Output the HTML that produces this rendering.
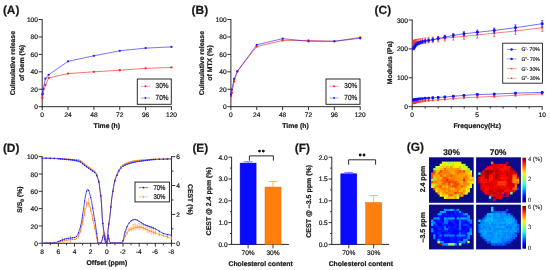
<!DOCTYPE html>
<html><head><meta charset="utf-8"><style>
html,body{margin:0;padding:0;background:#fff;}
svg{display:block;font-family:"Liberation Sans", sans-serif;filter:blur(0.35px);text-rendering:geometricPrecision;} text{stroke:#1a1a1a;stroke-width:0.22px;}
</style></head><body>
<svg width="550" height="270" viewBox="0 0 550 270">
<rect width="550" height="270" fill="#fff"/>
<line x1="42.20" y1="19.10" x2="42.20" y2="107.15" stroke="#1f1f1f" stroke-width="0.95"/>
<line x1="41.75" y1="106.70" x2="171.90" y2="106.70" stroke="#1f1f1f" stroke-width="0.95"/>
<line x1="38.60" y1="106.70" x2="42.20" y2="106.70" stroke="#1f1f1f" stroke-width="0.9"/>
<text x="37.90" y="109.25" font-size="6.6" text-anchor="end" fill="#1a1a1a">0</text>
<line x1="38.60" y1="89.26" x2="42.20" y2="89.26" stroke="#1f1f1f" stroke-width="0.9"/>
<text x="37.90" y="91.81" font-size="6.6" text-anchor="end" fill="#1a1a1a">20</text>
<line x1="38.60" y1="71.82" x2="42.20" y2="71.82" stroke="#1f1f1f" stroke-width="0.9"/>
<text x="37.90" y="74.37" font-size="6.6" text-anchor="end" fill="#1a1a1a">40</text>
<line x1="38.60" y1="54.38" x2="42.20" y2="54.38" stroke="#1f1f1f" stroke-width="0.9"/>
<text x="37.90" y="56.93" font-size="6.6" text-anchor="end" fill="#1a1a1a">60</text>
<line x1="38.60" y1="36.94" x2="42.20" y2="36.94" stroke="#1f1f1f" stroke-width="0.9"/>
<text x="37.90" y="39.49" font-size="6.6" text-anchor="end" fill="#1a1a1a">80</text>
<line x1="38.60" y1="19.50" x2="42.20" y2="19.50" stroke="#1f1f1f" stroke-width="0.9"/>
<text x="37.90" y="22.05" font-size="6.6" text-anchor="end" fill="#1a1a1a">100</text>
<line x1="42.20" y1="106.70" x2="42.20" y2="110.00" stroke="#1f1f1f" stroke-width="0.9"/>
<text x="42.20" y="116.75" font-size="6.6" text-anchor="middle" fill="#1a1a1a">0</text>
<line x1="68.06" y1="106.70" x2="68.06" y2="110.00" stroke="#1f1f1f" stroke-width="0.9"/>
<text x="68.06" y="116.75" font-size="6.6" text-anchor="middle" fill="#1a1a1a">24</text>
<line x1="93.92" y1="106.70" x2="93.92" y2="110.00" stroke="#1f1f1f" stroke-width="0.9"/>
<text x="93.92" y="116.75" font-size="6.6" text-anchor="middle" fill="#1a1a1a">48</text>
<line x1="119.78" y1="106.70" x2="119.78" y2="110.00" stroke="#1f1f1f" stroke-width="0.9"/>
<text x="119.78" y="116.75" font-size="6.6" text-anchor="middle" fill="#1a1a1a">72</text>
<line x1="145.64" y1="106.70" x2="145.64" y2="110.00" stroke="#1f1f1f" stroke-width="0.9"/>
<text x="145.64" y="116.75" font-size="6.6" text-anchor="middle" fill="#1a1a1a">96</text>
<line x1="171.50" y1="106.70" x2="171.50" y2="110.00" stroke="#1f1f1f" stroke-width="0.9"/>
<text x="171.50" y="116.75" font-size="6.6" text-anchor="middle" fill="#1a1a1a">120</text>
<text x="106.85" y="128.20" font-size="6.85" font-weight="bold" text-anchor="middle" fill="#1a1a1a">Time (h)</text>
<text transform="translate(15.20,63.20) rotate(-90)" font-size="6.85" font-weight="bold" text-anchor="middle" fill="#1a1a1a">Culmulative release</text>
<text transform="translate(23.50,63.00) rotate(-90)" font-size="6.85" font-weight="bold" text-anchor="middle" fill="#1a1a1a">of Gem (%)</text>
<text x="2.90" y="13.90" font-size="11.9" font-weight="bold" text-anchor="start" fill="#1a1a1a">(A)</text>
<polyline points="42.31,97.81 43.01,93.71 45.43,84.99 48.67,77.92 68.06,73.56 93.92,71.82 119.78,70.25 145.64,68.33 171.50,67.46" fill="none" stroke="#ff2020" stroke-width="0.8" stroke-linejoin="round" stroke-opacity="0.78"/>
<circle cx="42.31" cy="97.81" r="1.15" fill="#ff2020"/>
<circle cx="43.01" cy="93.71" r="1.15" fill="#ff2020"/>
<circle cx="45.43" cy="84.99" r="1.15" fill="#ff2020"/>
<circle cx="48.67" cy="77.92" r="1.15" fill="#ff2020"/>
<circle cx="68.06" cy="73.56" r="1.15" fill="#ff2020"/>
<circle cx="93.92" cy="71.82" r="1.15" fill="#ff2020"/>
<circle cx="119.78" cy="70.25" r="1.15" fill="#ff2020"/>
<circle cx="145.64" cy="68.33" r="1.15" fill="#ff2020"/>
<circle cx="171.50" cy="67.46" r="1.15" fill="#ff2020"/>
<polyline points="42.31,94.49 43.17,89.09 45.43,78.53 48.67,74.78 68.06,61.36 93.92,55.78 119.78,50.80 145.64,48.10 171.50,46.88" fill="none" stroke="#2020ff" stroke-width="0.8" stroke-linejoin="round" stroke-opacity="0.78"/>
<circle cx="42.31" cy="94.49" r="1.15" fill="#2020ff"/>
<circle cx="43.17" cy="89.09" r="1.15" fill="#2020ff"/>
<circle cx="45.43" cy="78.53" r="1.15" fill="#2020ff"/>
<circle cx="48.67" cy="74.78" r="1.15" fill="#2020ff"/>
<circle cx="68.06" cy="61.36" r="1.15" fill="#2020ff"/>
<circle cx="93.92" cy="55.78" r="1.15" fill="#2020ff"/>
<circle cx="119.78" cy="50.80" r="1.15" fill="#2020ff"/>
<circle cx="145.64" cy="48.10" r="1.15" fill="#2020ff"/>
<circle cx="171.50" cy="46.88" r="1.15" fill="#2020ff"/>
<rect x="137.30" y="79.0" width="34.0" height="25.3" fill="#fff" stroke="#1f1f1f" stroke-width="0.95"/>
<line x1="140.70" y1="86.30" x2="150.00" y2="86.30" stroke="#ff2020" stroke-width="0.8" stroke-opacity="0.5"/>
<circle cx="145.40" cy="86.30" r="0.95" fill="#ff2020"/>
<text x="155.60" y="88.25" font-size="7.3" text-anchor="start" fill="#1a1a1a" textLength="13.0" lengthAdjust="spacingAndGlyphs">30%</text>
<line x1="140.70" y1="98.00" x2="150.00" y2="98.00" stroke="#2020ff" stroke-width="0.8" stroke-opacity="0.5"/>
<circle cx="145.40" cy="98.00" r="0.95" fill="#2020ff"/>
<text x="155.60" y="99.95" font-size="7.3" text-anchor="start" fill="#1a1a1a" textLength="13.0" lengthAdjust="spacingAndGlyphs">70%</text>
<line x1="230.90" y1="19.10" x2="230.90" y2="107.15" stroke="#1f1f1f" stroke-width="0.95"/>
<line x1="230.45" y1="106.70" x2="360.60" y2="106.70" stroke="#1f1f1f" stroke-width="0.95"/>
<line x1="227.30" y1="106.70" x2="230.90" y2="106.70" stroke="#1f1f1f" stroke-width="0.9"/>
<text x="226.60" y="109.25" font-size="6.6" text-anchor="end" fill="#1a1a1a">0</text>
<line x1="227.30" y1="89.26" x2="230.90" y2="89.26" stroke="#1f1f1f" stroke-width="0.9"/>
<text x="226.60" y="91.81" font-size="6.6" text-anchor="end" fill="#1a1a1a">20</text>
<line x1="227.30" y1="71.82" x2="230.90" y2="71.82" stroke="#1f1f1f" stroke-width="0.9"/>
<text x="226.60" y="74.37" font-size="6.6" text-anchor="end" fill="#1a1a1a">40</text>
<line x1="227.30" y1="54.38" x2="230.90" y2="54.38" stroke="#1f1f1f" stroke-width="0.9"/>
<text x="226.60" y="56.93" font-size="6.6" text-anchor="end" fill="#1a1a1a">60</text>
<line x1="227.30" y1="36.94" x2="230.90" y2="36.94" stroke="#1f1f1f" stroke-width="0.9"/>
<text x="226.60" y="39.49" font-size="6.6" text-anchor="end" fill="#1a1a1a">80</text>
<line x1="227.30" y1="19.50" x2="230.90" y2="19.50" stroke="#1f1f1f" stroke-width="0.9"/>
<text x="226.60" y="22.05" font-size="6.6" text-anchor="end" fill="#1a1a1a">100</text>
<line x1="230.90" y1="106.70" x2="230.90" y2="110.00" stroke="#1f1f1f" stroke-width="0.9"/>
<text x="230.90" y="116.75" font-size="6.6" text-anchor="middle" fill="#1a1a1a">0</text>
<line x1="256.76" y1="106.70" x2="256.76" y2="110.00" stroke="#1f1f1f" stroke-width="0.9"/>
<text x="256.76" y="116.75" font-size="6.6" text-anchor="middle" fill="#1a1a1a">24</text>
<line x1="282.62" y1="106.70" x2="282.62" y2="110.00" stroke="#1f1f1f" stroke-width="0.9"/>
<text x="282.62" y="116.75" font-size="6.6" text-anchor="middle" fill="#1a1a1a">48</text>
<line x1="308.48" y1="106.70" x2="308.48" y2="110.00" stroke="#1f1f1f" stroke-width="0.9"/>
<text x="308.48" y="116.75" font-size="6.6" text-anchor="middle" fill="#1a1a1a">72</text>
<line x1="334.34" y1="106.70" x2="334.34" y2="110.00" stroke="#1f1f1f" stroke-width="0.9"/>
<text x="334.34" y="116.75" font-size="6.6" text-anchor="middle" fill="#1a1a1a">96</text>
<line x1="360.20" y1="106.70" x2="360.20" y2="110.00" stroke="#1f1f1f" stroke-width="0.9"/>
<text x="360.20" y="116.75" font-size="6.6" text-anchor="middle" fill="#1a1a1a">120</text>
<text x="295.55" y="128.20" font-size="6.85" font-weight="bold" text-anchor="middle" fill="#1a1a1a">Time (h)</text>
<text transform="translate(203.90,63.20) rotate(-90)" font-size="6.85" font-weight="bold" text-anchor="middle" fill="#1a1a1a">Culmulative release</text>
<text transform="translate(212.20,63.00) rotate(-90)" font-size="6.85" font-weight="bold" text-anchor="middle" fill="#1a1a1a">of MTX (%)</text>
<text x="191.60" y="13.90" font-size="11.9" font-weight="bold" text-anchor="start" fill="#1a1a1a">(B)</text>
<polyline points="231.01,96.06 231.87,92.92 234.13,81.41 237.36,71.38 256.76,46.53 282.62,40.43 308.48,40.43 334.34,41.30 360.20,37.38" fill="none" stroke="#ff2020" stroke-width="0.8" stroke-linejoin="round" stroke-opacity="0.78"/>
<circle cx="231.01" cy="96.06" r="1.15" fill="#ff2020"/>
<circle cx="231.87" cy="92.92" r="1.15" fill="#ff2020"/>
<circle cx="234.13" cy="81.41" r="1.15" fill="#ff2020"/>
<circle cx="237.36" cy="71.38" r="1.15" fill="#ff2020"/>
<circle cx="256.76" cy="46.53" r="1.15" fill="#ff2020"/>
<circle cx="282.62" cy="40.43" r="1.15" fill="#ff2020"/>
<circle cx="308.48" cy="40.43" r="1.15" fill="#ff2020"/>
<circle cx="334.34" cy="41.30" r="1.15" fill="#ff2020"/>
<circle cx="360.20" cy="37.38" r="1.15" fill="#ff2020"/>
<polyline points="231.01,94.49 231.71,89.70 234.13,78.97 237.36,71.30 256.76,44.79 282.62,38.68 308.48,41.30 334.34,41.30 360.20,38.25" fill="none" stroke="#2020ff" stroke-width="0.8" stroke-linejoin="round" stroke-opacity="0.78"/>
<circle cx="231.01" cy="94.49" r="1.15" fill="#2020ff"/>
<circle cx="231.71" cy="89.70" r="1.15" fill="#2020ff"/>
<circle cx="234.13" cy="78.97" r="1.15" fill="#2020ff"/>
<circle cx="237.36" cy="71.30" r="1.15" fill="#2020ff"/>
<circle cx="256.76" cy="44.79" r="1.15" fill="#2020ff"/>
<circle cx="282.62" cy="38.68" r="1.15" fill="#2020ff"/>
<circle cx="308.48" cy="41.30" r="1.15" fill="#2020ff"/>
<circle cx="334.34" cy="41.30" r="1.15" fill="#2020ff"/>
<circle cx="360.20" cy="38.25" r="1.15" fill="#2020ff"/>
<rect x="326.00" y="79.0" width="34.0" height="25.3" fill="#fff" stroke="#1f1f1f" stroke-width="0.95"/>
<line x1="329.40" y1="86.30" x2="338.70" y2="86.30" stroke="#ff2020" stroke-width="0.8" stroke-opacity="0.5"/>
<circle cx="334.10" cy="86.30" r="0.95" fill="#ff2020"/>
<text x="344.30" y="88.25" font-size="7.3" text-anchor="start" fill="#1a1a1a" textLength="13.0" lengthAdjust="spacingAndGlyphs">30%</text>
<line x1="329.40" y1="98.00" x2="338.70" y2="98.00" stroke="#2020ff" stroke-width="0.8" stroke-opacity="0.5"/>
<circle cx="334.10" cy="98.00" r="0.95" fill="#2020ff"/>
<text x="344.30" y="99.95" font-size="7.3" text-anchor="start" fill="#1a1a1a" textLength="13.0" lengthAdjust="spacingAndGlyphs">70%</text>
<line x1="412.20" y1="19.60" x2="412.20" y2="107.15" stroke="#1f1f1f" stroke-width="0.95"/>
<line x1="411.75" y1="106.70" x2="542.60" y2="106.70" stroke="#1f1f1f" stroke-width="0.95"/>
<line x1="408.60" y1="106.70" x2="412.20" y2="106.70" stroke="#1f1f1f" stroke-width="0.9"/>
<text x="407.90" y="109.25" font-size="6.6" text-anchor="end" fill="#1a1a1a">0</text>
<line x1="408.60" y1="77.80" x2="412.20" y2="77.80" stroke="#1f1f1f" stroke-width="0.9"/>
<text x="407.90" y="80.35" font-size="6.6" text-anchor="end" fill="#1a1a1a">100</text>
<line x1="408.60" y1="48.90" x2="412.20" y2="48.90" stroke="#1f1f1f" stroke-width="0.9"/>
<text x="407.90" y="51.45" font-size="6.6" text-anchor="end" fill="#1a1a1a">200</text>
<line x1="408.60" y1="20.00" x2="412.20" y2="20.00" stroke="#1f1f1f" stroke-width="0.9"/>
<text x="407.90" y="22.55" font-size="6.6" text-anchor="end" fill="#1a1a1a">300</text>
<line x1="412.20" y1="106.70" x2="412.20" y2="110.00" stroke="#1f1f1f" stroke-width="0.9"/>
<line x1="425.20" y1="106.70" x2="425.20" y2="108.50" stroke="#1f1f1f" stroke-width="0.9"/>
<line x1="438.20" y1="106.70" x2="438.20" y2="108.50" stroke="#1f1f1f" stroke-width="0.9"/>
<line x1="451.20" y1="106.70" x2="451.20" y2="108.50" stroke="#1f1f1f" stroke-width="0.9"/>
<line x1="464.20" y1="106.70" x2="464.20" y2="108.50" stroke="#1f1f1f" stroke-width="0.9"/>
<line x1="477.20" y1="106.70" x2="477.20" y2="110.00" stroke="#1f1f1f" stroke-width="0.9"/>
<line x1="490.20" y1="106.70" x2="490.20" y2="108.50" stroke="#1f1f1f" stroke-width="0.9"/>
<line x1="503.20" y1="106.70" x2="503.20" y2="108.50" stroke="#1f1f1f" stroke-width="0.9"/>
<line x1="516.20" y1="106.70" x2="516.20" y2="108.50" stroke="#1f1f1f" stroke-width="0.9"/>
<line x1="529.20" y1="106.70" x2="529.20" y2="108.50" stroke="#1f1f1f" stroke-width="0.9"/>
<line x1="542.20" y1="106.70" x2="542.20" y2="110.00" stroke="#1f1f1f" stroke-width="0.9"/>
<text x="412.20" y="116.75" font-size="6.6" text-anchor="middle" fill="#1a1a1a">0</text>
<text x="477.20" y="116.75" font-size="6.6" text-anchor="middle" fill="#1a1a1a">5</text>
<text x="542.20" y="116.75" font-size="6.6" text-anchor="middle" fill="#1a1a1a">10</text>
<text x="477.20" y="128.20" font-size="6.85" font-weight="bold" text-anchor="middle" fill="#1a1a1a">Frequency(Hz)</text>
<text transform="translate(392.20,62.75) rotate(-90)" font-size="6.85" font-weight="bold" text-anchor="middle" fill="#1a1a1a">Modulus (Pa)</text>
<text x="374.60" y="13.90" font-size="11.9" font-weight="bold" text-anchor="start" fill="#1a1a1a">(C)</text>
<polyline points="413.50,43.12 413.84,42.97 414.26,42.78 414.79,42.54 415.47,42.25 416.31,42.10 417.38,41.92 418.72,41.68 420.40,41.38 422.53,41.07 425.20,40.66 428.57,40.28 432.80,39.79 438.14,39.08 444.85,38.19 453.31,37.19 463.95,36.32 477.35,34.98 494.22,33.19 515.46,31.01 542.20,27.69" fill="none" stroke="#ff2a2a" stroke-width="0.75" stroke-linejoin="round" stroke-opacity="0.8"/>
<line x1="413.50" y1="40.51" x2="413.50" y2="45.73" stroke="#ff2a2a" stroke-width="0.7"/>
<line x1="412.40" y1="40.51" x2="414.60" y2="40.51" stroke="#ff2a2a" stroke-width="0.6"/>
<line x1="412.40" y1="45.73" x2="414.60" y2="45.73" stroke="#ff2a2a" stroke-width="0.6"/>
<line x1="413.84" y1="40.36" x2="413.84" y2="45.58" stroke="#ff2a2a" stroke-width="0.7"/>
<line x1="412.74" y1="40.36" x2="414.94" y2="40.36" stroke="#ff2a2a" stroke-width="0.6"/>
<line x1="412.74" y1="45.58" x2="414.94" y2="45.58" stroke="#ff2a2a" stroke-width="0.6"/>
<line x1="414.26" y1="40.16" x2="414.26" y2="45.40" stroke="#ff2a2a" stroke-width="0.7"/>
<line x1="413.16" y1="40.16" x2="415.36" y2="40.16" stroke="#ff2a2a" stroke-width="0.6"/>
<line x1="413.16" y1="45.40" x2="415.36" y2="45.40" stroke="#ff2a2a" stroke-width="0.6"/>
<line x1="414.79" y1="39.92" x2="414.79" y2="45.17" stroke="#ff2a2a" stroke-width="0.7"/>
<line x1="413.69" y1="39.92" x2="415.89" y2="39.92" stroke="#ff2a2a" stroke-width="0.6"/>
<line x1="413.69" y1="45.17" x2="415.89" y2="45.17" stroke="#ff2a2a" stroke-width="0.6"/>
<line x1="415.47" y1="39.62" x2="415.47" y2="44.88" stroke="#ff2a2a" stroke-width="0.7"/>
<line x1="414.37" y1="39.62" x2="416.57" y2="39.62" stroke="#ff2a2a" stroke-width="0.6"/>
<line x1="414.37" y1="44.88" x2="416.57" y2="44.88" stroke="#ff2a2a" stroke-width="0.6"/>
<line x1="416.31" y1="39.47" x2="416.31" y2="44.73" stroke="#ff2a2a" stroke-width="0.7"/>
<line x1="415.21" y1="39.47" x2="417.41" y2="39.47" stroke="#ff2a2a" stroke-width="0.6"/>
<line x1="415.21" y1="44.73" x2="417.41" y2="44.73" stroke="#ff2a2a" stroke-width="0.6"/>
<line x1="417.38" y1="39.27" x2="417.38" y2="44.56" stroke="#ff2a2a" stroke-width="0.7"/>
<line x1="416.28" y1="39.27" x2="418.48" y2="39.27" stroke="#ff2a2a" stroke-width="0.6"/>
<line x1="416.28" y1="44.56" x2="418.48" y2="44.56" stroke="#ff2a2a" stroke-width="0.6"/>
<line x1="418.72" y1="39.03" x2="418.72" y2="44.33" stroke="#ff2a2a" stroke-width="0.7"/>
<line x1="417.62" y1="39.03" x2="419.82" y2="39.03" stroke="#ff2a2a" stroke-width="0.6"/>
<line x1="417.62" y1="44.33" x2="419.82" y2="44.33" stroke="#ff2a2a" stroke-width="0.6"/>
<line x1="420.40" y1="38.72" x2="420.40" y2="44.05" stroke="#ff2a2a" stroke-width="0.7"/>
<line x1="419.30" y1="38.72" x2="421.50" y2="38.72" stroke="#ff2a2a" stroke-width="0.6"/>
<line x1="419.30" y1="44.05" x2="421.50" y2="44.05" stroke="#ff2a2a" stroke-width="0.6"/>
<line x1="422.53" y1="38.38" x2="422.53" y2="43.75" stroke="#ff2a2a" stroke-width="0.7"/>
<line x1="421.43" y1="38.38" x2="423.63" y2="38.38" stroke="#ff2a2a" stroke-width="0.6"/>
<line x1="421.43" y1="43.75" x2="423.63" y2="43.75" stroke="#ff2a2a" stroke-width="0.6"/>
<line x1="425.20" y1="37.96" x2="425.20" y2="43.37" stroke="#ff2a2a" stroke-width="0.7"/>
<line x1="424.10" y1="37.96" x2="426.30" y2="37.96" stroke="#ff2a2a" stroke-width="0.6"/>
<line x1="424.10" y1="43.37" x2="426.30" y2="43.37" stroke="#ff2a2a" stroke-width="0.6"/>
<line x1="428.57" y1="37.55" x2="428.57" y2="43.00" stroke="#ff2a2a" stroke-width="0.7"/>
<line x1="427.47" y1="37.55" x2="429.67" y2="37.55" stroke="#ff2a2a" stroke-width="0.6"/>
<line x1="427.47" y1="43.00" x2="429.67" y2="43.00" stroke="#ff2a2a" stroke-width="0.6"/>
<line x1="432.80" y1="37.03" x2="432.80" y2="42.55" stroke="#ff2a2a" stroke-width="0.7"/>
<line x1="431.70" y1="37.03" x2="433.90" y2="37.03" stroke="#ff2a2a" stroke-width="0.6"/>
<line x1="431.70" y1="42.55" x2="433.90" y2="42.55" stroke="#ff2a2a" stroke-width="0.6"/>
<line x1="438.14" y1="36.28" x2="438.14" y2="41.88" stroke="#ff2a2a" stroke-width="0.7"/>
<line x1="437.04" y1="36.28" x2="439.24" y2="36.28" stroke="#ff2a2a" stroke-width="0.6"/>
<line x1="437.04" y1="41.88" x2="439.24" y2="41.88" stroke="#ff2a2a" stroke-width="0.6"/>
<line x1="444.85" y1="35.33" x2="444.85" y2="41.04" stroke="#ff2a2a" stroke-width="0.7"/>
<line x1="443.75" y1="35.33" x2="445.95" y2="35.33" stroke="#ff2a2a" stroke-width="0.6"/>
<line x1="443.75" y1="41.04" x2="445.95" y2="41.04" stroke="#ff2a2a" stroke-width="0.6"/>
<line x1="453.31" y1="34.27" x2="453.31" y2="40.11" stroke="#ff2a2a" stroke-width="0.7"/>
<line x1="452.21" y1="34.27" x2="454.41" y2="34.27" stroke="#ff2a2a" stroke-width="0.6"/>
<line x1="452.21" y1="40.11" x2="454.41" y2="40.11" stroke="#ff2a2a" stroke-width="0.6"/>
<line x1="463.95" y1="33.32" x2="463.95" y2="39.32" stroke="#ff2a2a" stroke-width="0.7"/>
<line x1="462.85" y1="33.32" x2="465.05" y2="33.32" stroke="#ff2a2a" stroke-width="0.6"/>
<line x1="462.85" y1="39.32" x2="465.05" y2="39.32" stroke="#ff2a2a" stroke-width="0.6"/>
<line x1="477.35" y1="31.87" x2="477.35" y2="38.09" stroke="#ff2a2a" stroke-width="0.7"/>
<line x1="476.25" y1="31.87" x2="478.45" y2="31.87" stroke="#ff2a2a" stroke-width="0.6"/>
<line x1="476.25" y1="38.09" x2="478.45" y2="38.09" stroke="#ff2a2a" stroke-width="0.6"/>
<line x1="494.22" y1="29.96" x2="494.22" y2="36.43" stroke="#ff2a2a" stroke-width="0.7"/>
<line x1="493.12" y1="29.96" x2="495.32" y2="29.96" stroke="#ff2a2a" stroke-width="0.6"/>
<line x1="493.12" y1="36.43" x2="495.32" y2="36.43" stroke="#ff2a2a" stroke-width="0.6"/>
<line x1="515.46" y1="27.60" x2="515.46" y2="34.41" stroke="#ff2a2a" stroke-width="0.7"/>
<line x1="514.36" y1="27.60" x2="516.56" y2="27.60" stroke="#ff2a2a" stroke-width="0.6"/>
<line x1="514.36" y1="34.41" x2="516.56" y2="34.41" stroke="#ff2a2a" stroke-width="0.6"/>
<line x1="542.20" y1="24.07" x2="542.20" y2="31.30" stroke="#ff2a2a" stroke-width="0.7"/>
<line x1="541.10" y1="24.07" x2="543.30" y2="24.07" stroke="#ff2a2a" stroke-width="0.6"/>
<line x1="541.10" y1="31.30" x2="543.30" y2="31.30" stroke="#ff2a2a" stroke-width="0.6"/>
<rect x="412.80" y="42.42" width="1.4" height="1.4" fill="#ff2a2a"/>
<rect x="413.14" y="42.27" width="1.4" height="1.4" fill="#ff2a2a"/>
<rect x="413.56" y="42.08" width="1.4" height="1.4" fill="#ff2a2a"/>
<rect x="414.09" y="41.84" width="1.4" height="1.4" fill="#ff2a2a"/>
<rect x="414.77" y="41.55" width="1.4" height="1.4" fill="#ff2a2a"/>
<rect x="415.61" y="41.40" width="1.4" height="1.4" fill="#ff2a2a"/>
<rect x="416.68" y="41.22" width="1.4" height="1.4" fill="#ff2a2a"/>
<rect x="418.02" y="40.98" width="1.4" height="1.4" fill="#ff2a2a"/>
<rect x="419.70" y="40.68" width="1.4" height="1.4" fill="#ff2a2a"/>
<rect x="421.83" y="40.37" width="1.4" height="1.4" fill="#ff2a2a"/>
<rect x="424.50" y="39.96" width="1.4" height="1.4" fill="#ff2a2a"/>
<rect x="427.87" y="39.58" width="1.4" height="1.4" fill="#ff2a2a"/>
<rect x="432.10" y="39.09" width="1.4" height="1.4" fill="#ff2a2a"/>
<rect x="437.44" y="38.38" width="1.4" height="1.4" fill="#ff2a2a"/>
<rect x="444.15" y="37.49" width="1.4" height="1.4" fill="#ff2a2a"/>
<rect x="452.61" y="36.49" width="1.4" height="1.4" fill="#ff2a2a"/>
<rect x="463.25" y="35.62" width="1.4" height="1.4" fill="#ff2a2a"/>
<rect x="476.65" y="34.28" width="1.4" height="1.4" fill="#ff2a2a"/>
<rect x="493.52" y="32.49" width="1.4" height="1.4" fill="#ff2a2a"/>
<rect x="514.76" y="30.31" width="1.4" height="1.4" fill="#ff2a2a"/>
<rect x="541.50" y="26.99" width="1.4" height="1.4" fill="#ff2a2a"/>
<polyline points="413.50,48.61 413.84,47.97 414.26,47.16 414.79,46.38 415.47,45.42 416.31,44.67 417.38,43.72 418.72,43.13 420.40,42.39 422.53,41.82 425.20,41.10 428.57,40.52 432.80,39.78 438.14,38.37 444.85,37.16 453.31,35.40 463.95,33.74 477.35,32.29 494.22,30.47 515.46,27.68 542.20,23.70" fill="none" stroke="#1010ff" stroke-width="0.75" stroke-linejoin="round" stroke-opacity="0.8"/>
<line x1="413.50" y1="47.29" x2="413.50" y2="49.93" stroke="#1010ff" stroke-width="0.7"/>
<line x1="412.40" y1="47.29" x2="414.60" y2="47.29" stroke="#1010ff" stroke-width="0.6"/>
<line x1="412.40" y1="49.93" x2="414.60" y2="49.93" stroke="#1010ff" stroke-width="0.6"/>
<line x1="413.84" y1="46.64" x2="413.84" y2="49.29" stroke="#1010ff" stroke-width="0.7"/>
<line x1="412.74" y1="46.64" x2="414.94" y2="46.64" stroke="#1010ff" stroke-width="0.6"/>
<line x1="412.74" y1="49.29" x2="414.94" y2="49.29" stroke="#1010ff" stroke-width="0.6"/>
<line x1="414.26" y1="45.83" x2="414.26" y2="48.49" stroke="#1010ff" stroke-width="0.7"/>
<line x1="413.16" y1="45.83" x2="415.36" y2="45.83" stroke="#1010ff" stroke-width="0.6"/>
<line x1="413.16" y1="48.49" x2="415.36" y2="48.49" stroke="#1010ff" stroke-width="0.6"/>
<line x1="414.79" y1="45.05" x2="414.79" y2="47.72" stroke="#1010ff" stroke-width="0.7"/>
<line x1="413.69" y1="45.05" x2="415.89" y2="45.05" stroke="#1010ff" stroke-width="0.6"/>
<line x1="413.69" y1="47.72" x2="415.89" y2="47.72" stroke="#1010ff" stroke-width="0.6"/>
<line x1="415.47" y1="44.07" x2="415.47" y2="46.77" stroke="#1010ff" stroke-width="0.7"/>
<line x1="414.37" y1="44.07" x2="416.57" y2="44.07" stroke="#1010ff" stroke-width="0.6"/>
<line x1="414.37" y1="46.77" x2="416.57" y2="46.77" stroke="#1010ff" stroke-width="0.6"/>
<line x1="416.31" y1="43.31" x2="416.31" y2="46.03" stroke="#1010ff" stroke-width="0.7"/>
<line x1="415.21" y1="43.31" x2="417.41" y2="43.31" stroke="#1010ff" stroke-width="0.6"/>
<line x1="415.21" y1="46.03" x2="417.41" y2="46.03" stroke="#1010ff" stroke-width="0.6"/>
<line x1="417.38" y1="42.34" x2="417.38" y2="45.10" stroke="#1010ff" stroke-width="0.7"/>
<line x1="416.28" y1="42.34" x2="418.48" y2="42.34" stroke="#1010ff" stroke-width="0.6"/>
<line x1="416.28" y1="45.10" x2="418.48" y2="45.10" stroke="#1010ff" stroke-width="0.6"/>
<line x1="418.72" y1="41.73" x2="418.72" y2="44.52" stroke="#1010ff" stroke-width="0.7"/>
<line x1="417.62" y1="41.73" x2="419.82" y2="41.73" stroke="#1010ff" stroke-width="0.6"/>
<line x1="417.62" y1="44.52" x2="419.82" y2="44.52" stroke="#1010ff" stroke-width="0.6"/>
<line x1="420.40" y1="40.98" x2="420.40" y2="43.81" stroke="#1010ff" stroke-width="0.7"/>
<line x1="419.30" y1="40.98" x2="421.50" y2="40.98" stroke="#1010ff" stroke-width="0.6"/>
<line x1="419.30" y1="43.81" x2="421.50" y2="43.81" stroke="#1010ff" stroke-width="0.6"/>
<line x1="422.53" y1="40.37" x2="422.53" y2="43.27" stroke="#1010ff" stroke-width="0.7"/>
<line x1="421.43" y1="40.37" x2="423.63" y2="40.37" stroke="#1010ff" stroke-width="0.6"/>
<line x1="421.43" y1="43.27" x2="423.63" y2="43.27" stroke="#1010ff" stroke-width="0.6"/>
<line x1="425.20" y1="39.61" x2="425.20" y2="42.59" stroke="#1010ff" stroke-width="0.7"/>
<line x1="424.10" y1="39.61" x2="426.30" y2="39.61" stroke="#1010ff" stroke-width="0.6"/>
<line x1="424.10" y1="42.59" x2="426.30" y2="42.59" stroke="#1010ff" stroke-width="0.6"/>
<line x1="428.57" y1="38.98" x2="428.57" y2="42.06" stroke="#1010ff" stroke-width="0.7"/>
<line x1="427.47" y1="38.98" x2="429.67" y2="38.98" stroke="#1010ff" stroke-width="0.6"/>
<line x1="427.47" y1="42.06" x2="429.67" y2="42.06" stroke="#1010ff" stroke-width="0.6"/>
<line x1="432.80" y1="38.18" x2="432.80" y2="41.38" stroke="#1010ff" stroke-width="0.7"/>
<line x1="431.70" y1="38.18" x2="433.90" y2="38.18" stroke="#1010ff" stroke-width="0.6"/>
<line x1="431.70" y1="41.38" x2="433.90" y2="41.38" stroke="#1010ff" stroke-width="0.6"/>
<line x1="438.14" y1="36.69" x2="438.14" y2="40.04" stroke="#1010ff" stroke-width="0.7"/>
<line x1="437.04" y1="36.69" x2="439.24" y2="36.69" stroke="#1010ff" stroke-width="0.6"/>
<line x1="437.04" y1="40.04" x2="439.24" y2="40.04" stroke="#1010ff" stroke-width="0.6"/>
<line x1="444.85" y1="35.39" x2="444.85" y2="38.94" stroke="#1010ff" stroke-width="0.7"/>
<line x1="443.75" y1="35.39" x2="445.95" y2="35.39" stroke="#1010ff" stroke-width="0.6"/>
<line x1="443.75" y1="38.94" x2="445.95" y2="38.94" stroke="#1010ff" stroke-width="0.6"/>
<line x1="453.31" y1="33.50" x2="453.31" y2="37.29" stroke="#1010ff" stroke-width="0.7"/>
<line x1="452.21" y1="33.50" x2="454.41" y2="33.50" stroke="#1010ff" stroke-width="0.6"/>
<line x1="452.21" y1="37.29" x2="454.41" y2="37.29" stroke="#1010ff" stroke-width="0.6"/>
<line x1="463.95" y1="31.69" x2="463.95" y2="35.79" stroke="#1010ff" stroke-width="0.7"/>
<line x1="462.85" y1="31.69" x2="465.05" y2="31.69" stroke="#1010ff" stroke-width="0.6"/>
<line x1="462.85" y1="35.79" x2="465.05" y2="35.79" stroke="#1010ff" stroke-width="0.6"/>
<line x1="477.35" y1="30.05" x2="477.35" y2="34.54" stroke="#1010ff" stroke-width="0.7"/>
<line x1="476.25" y1="30.05" x2="478.45" y2="30.05" stroke="#1010ff" stroke-width="0.6"/>
<line x1="476.25" y1="34.54" x2="478.45" y2="34.54" stroke="#1010ff" stroke-width="0.6"/>
<line x1="494.22" y1="27.99" x2="494.22" y2="32.96" stroke="#1010ff" stroke-width="0.7"/>
<line x1="493.12" y1="27.99" x2="495.32" y2="27.99" stroke="#1010ff" stroke-width="0.6"/>
<line x1="493.12" y1="32.96" x2="495.32" y2="32.96" stroke="#1010ff" stroke-width="0.6"/>
<line x1="515.46" y1="24.89" x2="515.46" y2="30.47" stroke="#1010ff" stroke-width="0.7"/>
<line x1="514.36" y1="24.89" x2="516.56" y2="24.89" stroke="#1010ff" stroke-width="0.6"/>
<line x1="514.36" y1="30.47" x2="516.56" y2="30.47" stroke="#1010ff" stroke-width="0.6"/>
<line x1="542.20" y1="20.52" x2="542.20" y2="26.88" stroke="#1010ff" stroke-width="0.7"/>
<line x1="541.10" y1="20.52" x2="543.30" y2="20.52" stroke="#1010ff" stroke-width="0.6"/>
<line x1="541.10" y1="26.88" x2="543.30" y2="26.88" stroke="#1010ff" stroke-width="0.6"/>
<circle cx="413.50" cy="48.61" r="1.45" fill="#1010ff"/>
<circle cx="413.84" cy="47.97" r="1.45" fill="#1010ff"/>
<circle cx="414.26" cy="47.16" r="1.45" fill="#1010ff"/>
<circle cx="414.79" cy="46.38" r="1.45" fill="#1010ff"/>
<circle cx="415.47" cy="45.42" r="1.45" fill="#1010ff"/>
<circle cx="416.31" cy="44.67" r="1.45" fill="#1010ff"/>
<circle cx="417.38" cy="43.72" r="1.45" fill="#1010ff"/>
<circle cx="418.72" cy="43.13" r="1.45" fill="#1010ff"/>
<circle cx="420.40" cy="42.39" r="1.45" fill="#1010ff"/>
<circle cx="422.53" cy="41.82" r="1.45" fill="#1010ff"/>
<circle cx="425.20" cy="41.10" r="1.45" fill="#1010ff"/>
<circle cx="428.57" cy="40.52" r="1.45" fill="#1010ff"/>
<circle cx="432.80" cy="39.78" r="1.45" fill="#1010ff"/>
<circle cx="438.14" cy="38.37" r="1.45" fill="#1010ff"/>
<circle cx="444.85" cy="37.16" r="1.45" fill="#1010ff"/>
<circle cx="453.31" cy="35.40" r="1.45" fill="#1010ff"/>
<circle cx="463.95" cy="33.74" r="1.45" fill="#1010ff"/>
<circle cx="477.35" cy="32.29" r="1.45" fill="#1010ff"/>
<circle cx="494.22" cy="30.47" r="1.45" fill="#1010ff"/>
<circle cx="515.46" cy="27.68" r="1.45" fill="#1010ff"/>
<circle cx="542.20" cy="23.70" r="1.45" fill="#1010ff"/>
<polyline points="413.50,103.00 413.84,102.91 414.26,102.79 414.79,102.65 415.47,102.46 416.31,102.23 417.38,101.94 418.72,101.74 420.40,101.49 422.53,101.17 425.20,100.78 428.57,100.52 432.80,100.19 438.14,99.91 444.85,99.29 453.31,98.61 463.95,97.76 477.35,97.18 494.22,96.41 515.46,95.31 542.20,93.81" fill="none" stroke="#ff2a2a" stroke-width="0.75" stroke-linejoin="round" stroke-opacity="0.8"/>
<line x1="413.50" y1="102.28" x2="413.50" y2="103.73" stroke="#ff2a2a" stroke-width="0.7"/>
<line x1="412.40" y1="102.28" x2="414.60" y2="102.28" stroke="#ff2a2a" stroke-width="0.6"/>
<line x1="412.40" y1="103.73" x2="414.60" y2="103.73" stroke="#ff2a2a" stroke-width="0.6"/>
<line x1="413.84" y1="102.18" x2="413.84" y2="103.63" stroke="#ff2a2a" stroke-width="0.7"/>
<line x1="412.74" y1="102.18" x2="414.94" y2="102.18" stroke="#ff2a2a" stroke-width="0.6"/>
<line x1="412.74" y1="103.63" x2="414.94" y2="103.63" stroke="#ff2a2a" stroke-width="0.6"/>
<line x1="414.26" y1="102.07" x2="414.26" y2="103.52" stroke="#ff2a2a" stroke-width="0.7"/>
<line x1="413.16" y1="102.07" x2="415.36" y2="102.07" stroke="#ff2a2a" stroke-width="0.6"/>
<line x1="413.16" y1="103.52" x2="415.36" y2="103.52" stroke="#ff2a2a" stroke-width="0.6"/>
<line x1="414.79" y1="101.92" x2="414.79" y2="103.37" stroke="#ff2a2a" stroke-width="0.7"/>
<line x1="413.69" y1="101.92" x2="415.89" y2="101.92" stroke="#ff2a2a" stroke-width="0.6"/>
<line x1="413.69" y1="103.37" x2="415.89" y2="103.37" stroke="#ff2a2a" stroke-width="0.6"/>
<line x1="415.47" y1="101.73" x2="415.47" y2="103.19" stroke="#ff2a2a" stroke-width="0.7"/>
<line x1="414.37" y1="101.73" x2="416.57" y2="101.73" stroke="#ff2a2a" stroke-width="0.6"/>
<line x1="414.37" y1="103.19" x2="416.57" y2="103.19" stroke="#ff2a2a" stroke-width="0.6"/>
<line x1="416.31" y1="101.50" x2="416.31" y2="102.96" stroke="#ff2a2a" stroke-width="0.7"/>
<line x1="415.21" y1="101.50" x2="417.41" y2="101.50" stroke="#ff2a2a" stroke-width="0.6"/>
<line x1="415.21" y1="102.96" x2="417.41" y2="102.96" stroke="#ff2a2a" stroke-width="0.6"/>
<line x1="417.38" y1="101.20" x2="417.38" y2="102.67" stroke="#ff2a2a" stroke-width="0.7"/>
<line x1="416.28" y1="101.20" x2="418.48" y2="101.20" stroke="#ff2a2a" stroke-width="0.6"/>
<line x1="416.28" y1="102.67" x2="418.48" y2="102.67" stroke="#ff2a2a" stroke-width="0.6"/>
<line x1="418.72" y1="101.00" x2="418.72" y2="102.47" stroke="#ff2a2a" stroke-width="0.7"/>
<line x1="417.62" y1="101.00" x2="419.82" y2="101.00" stroke="#ff2a2a" stroke-width="0.6"/>
<line x1="417.62" y1="102.47" x2="419.82" y2="102.47" stroke="#ff2a2a" stroke-width="0.6"/>
<line x1="420.40" y1="100.75" x2="420.40" y2="102.23" stroke="#ff2a2a" stroke-width="0.7"/>
<line x1="419.30" y1="100.75" x2="421.50" y2="100.75" stroke="#ff2a2a" stroke-width="0.6"/>
<line x1="419.30" y1="102.23" x2="421.50" y2="102.23" stroke="#ff2a2a" stroke-width="0.6"/>
<line x1="422.53" y1="100.43" x2="422.53" y2="101.92" stroke="#ff2a2a" stroke-width="0.7"/>
<line x1="421.43" y1="100.43" x2="423.63" y2="100.43" stroke="#ff2a2a" stroke-width="0.6"/>
<line x1="421.43" y1="101.92" x2="423.63" y2="101.92" stroke="#ff2a2a" stroke-width="0.6"/>
<line x1="425.20" y1="100.02" x2="425.20" y2="101.53" stroke="#ff2a2a" stroke-width="0.7"/>
<line x1="424.10" y1="100.02" x2="426.30" y2="100.02" stroke="#ff2a2a" stroke-width="0.6"/>
<line x1="424.10" y1="101.53" x2="426.30" y2="101.53" stroke="#ff2a2a" stroke-width="0.6"/>
<line x1="428.57" y1="99.76" x2="428.57" y2="101.28" stroke="#ff2a2a" stroke-width="0.7"/>
<line x1="427.47" y1="99.76" x2="429.67" y2="99.76" stroke="#ff2a2a" stroke-width="0.6"/>
<line x1="427.47" y1="101.28" x2="429.67" y2="101.28" stroke="#ff2a2a" stroke-width="0.6"/>
<line x1="432.80" y1="99.43" x2="432.80" y2="100.96" stroke="#ff2a2a" stroke-width="0.7"/>
<line x1="431.70" y1="99.43" x2="433.90" y2="99.43" stroke="#ff2a2a" stroke-width="0.6"/>
<line x1="431.70" y1="100.96" x2="433.90" y2="100.96" stroke="#ff2a2a" stroke-width="0.6"/>
<line x1="438.14" y1="99.13" x2="438.14" y2="100.69" stroke="#ff2a2a" stroke-width="0.7"/>
<line x1="437.04" y1="99.13" x2="439.24" y2="99.13" stroke="#ff2a2a" stroke-width="0.6"/>
<line x1="437.04" y1="100.69" x2="439.24" y2="100.69" stroke="#ff2a2a" stroke-width="0.6"/>
<line x1="444.85" y1="98.49" x2="444.85" y2="100.08" stroke="#ff2a2a" stroke-width="0.7"/>
<line x1="443.75" y1="98.49" x2="445.95" y2="98.49" stroke="#ff2a2a" stroke-width="0.6"/>
<line x1="443.75" y1="100.08" x2="445.95" y2="100.08" stroke="#ff2a2a" stroke-width="0.6"/>
<line x1="453.31" y1="97.79" x2="453.31" y2="99.42" stroke="#ff2a2a" stroke-width="0.7"/>
<line x1="452.21" y1="97.79" x2="454.41" y2="97.79" stroke="#ff2a2a" stroke-width="0.6"/>
<line x1="452.21" y1="99.42" x2="454.41" y2="99.42" stroke="#ff2a2a" stroke-width="0.6"/>
<line x1="463.95" y1="96.92" x2="463.95" y2="98.60" stroke="#ff2a2a" stroke-width="0.7"/>
<line x1="462.85" y1="96.92" x2="465.05" y2="96.92" stroke="#ff2a2a" stroke-width="0.6"/>
<line x1="462.85" y1="98.60" x2="465.05" y2="98.60" stroke="#ff2a2a" stroke-width="0.6"/>
<line x1="477.35" y1="96.32" x2="477.35" y2="98.05" stroke="#ff2a2a" stroke-width="0.7"/>
<line x1="476.25" y1="96.32" x2="478.45" y2="96.32" stroke="#ff2a2a" stroke-width="0.6"/>
<line x1="476.25" y1="98.05" x2="478.45" y2="98.05" stroke="#ff2a2a" stroke-width="0.6"/>
<line x1="494.22" y1="95.50" x2="494.22" y2="97.31" stroke="#ff2a2a" stroke-width="0.7"/>
<line x1="493.12" y1="95.50" x2="495.32" y2="95.50" stroke="#ff2a2a" stroke-width="0.6"/>
<line x1="493.12" y1="97.31" x2="495.32" y2="97.31" stroke="#ff2a2a" stroke-width="0.6"/>
<line x1="515.46" y1="94.36" x2="515.46" y2="96.26" stroke="#ff2a2a" stroke-width="0.7"/>
<line x1="514.36" y1="94.36" x2="516.56" y2="94.36" stroke="#ff2a2a" stroke-width="0.6"/>
<line x1="514.36" y1="96.26" x2="516.56" y2="96.26" stroke="#ff2a2a" stroke-width="0.6"/>
<line x1="542.20" y1="92.80" x2="542.20" y2="94.82" stroke="#ff2a2a" stroke-width="0.7"/>
<line x1="541.10" y1="92.80" x2="543.30" y2="92.80" stroke="#ff2a2a" stroke-width="0.6"/>
<line x1="541.10" y1="94.82" x2="543.30" y2="94.82" stroke="#ff2a2a" stroke-width="0.6"/>
<rect x="412.80" y="102.30" width="1.4" height="1.4" fill="#ff2a2a"/>
<rect x="413.14" y="102.21" width="1.4" height="1.4" fill="#ff2a2a"/>
<rect x="413.56" y="102.09" width="1.4" height="1.4" fill="#ff2a2a"/>
<rect x="414.09" y="101.95" width="1.4" height="1.4" fill="#ff2a2a"/>
<rect x="414.77" y="101.76" width="1.4" height="1.4" fill="#ff2a2a"/>
<rect x="415.61" y="101.53" width="1.4" height="1.4" fill="#ff2a2a"/>
<rect x="416.68" y="101.24" width="1.4" height="1.4" fill="#ff2a2a"/>
<rect x="418.02" y="101.04" width="1.4" height="1.4" fill="#ff2a2a"/>
<rect x="419.70" y="100.79" width="1.4" height="1.4" fill="#ff2a2a"/>
<rect x="421.83" y="100.47" width="1.4" height="1.4" fill="#ff2a2a"/>
<rect x="424.50" y="100.08" width="1.4" height="1.4" fill="#ff2a2a"/>
<rect x="427.87" y="99.82" width="1.4" height="1.4" fill="#ff2a2a"/>
<rect x="432.10" y="99.49" width="1.4" height="1.4" fill="#ff2a2a"/>
<rect x="437.44" y="99.21" width="1.4" height="1.4" fill="#ff2a2a"/>
<rect x="444.15" y="98.59" width="1.4" height="1.4" fill="#ff2a2a"/>
<rect x="452.61" y="97.91" width="1.4" height="1.4" fill="#ff2a2a"/>
<rect x="463.25" y="97.06" width="1.4" height="1.4" fill="#ff2a2a"/>
<rect x="476.65" y="96.48" width="1.4" height="1.4" fill="#ff2a2a"/>
<rect x="493.52" y="95.71" width="1.4" height="1.4" fill="#ff2a2a"/>
<rect x="514.76" y="94.61" width="1.4" height="1.4" fill="#ff2a2a"/>
<rect x="541.50" y="93.11" width="1.4" height="1.4" fill="#ff2a2a"/>
<polyline points="413.50,100.05 413.84,99.98 414.26,99.88 414.79,99.77 415.47,99.62 416.31,99.43 417.38,99.19 418.72,99.04 420.40,98.85 422.53,98.62 425.20,98.32 428.57,98.09 432.80,97.80 438.14,97.51 444.85,97.00 453.31,96.21 463.95,95.42 477.35,94.50 494.22,94.09 515.46,93.12 542.20,92.39" fill="none" stroke="#1010ff" stroke-width="0.75" stroke-linejoin="round" stroke-opacity="0.8"/>
<line x1="413.50" y1="99.47" x2="413.50" y2="100.63" stroke="#1010ff" stroke-width="0.7"/>
<line x1="412.40" y1="99.47" x2="414.60" y2="99.47" stroke="#1010ff" stroke-width="0.6"/>
<line x1="412.40" y1="100.63" x2="414.60" y2="100.63" stroke="#1010ff" stroke-width="0.6"/>
<line x1="413.84" y1="99.40" x2="413.84" y2="100.56" stroke="#1010ff" stroke-width="0.7"/>
<line x1="412.74" y1="99.40" x2="414.94" y2="99.40" stroke="#1010ff" stroke-width="0.6"/>
<line x1="412.74" y1="100.56" x2="414.94" y2="100.56" stroke="#1010ff" stroke-width="0.6"/>
<line x1="414.26" y1="99.30" x2="414.26" y2="100.47" stroke="#1010ff" stroke-width="0.7"/>
<line x1="413.16" y1="99.30" x2="415.36" y2="99.30" stroke="#1010ff" stroke-width="0.6"/>
<line x1="413.16" y1="100.47" x2="415.36" y2="100.47" stroke="#1010ff" stroke-width="0.6"/>
<line x1="414.79" y1="99.18" x2="414.79" y2="100.35" stroke="#1010ff" stroke-width="0.7"/>
<line x1="413.69" y1="99.18" x2="415.89" y2="99.18" stroke="#1010ff" stroke-width="0.6"/>
<line x1="413.69" y1="100.35" x2="415.89" y2="100.35" stroke="#1010ff" stroke-width="0.6"/>
<line x1="415.47" y1="99.03" x2="415.47" y2="100.20" stroke="#1010ff" stroke-width="0.7"/>
<line x1="414.37" y1="99.03" x2="416.57" y2="99.03" stroke="#1010ff" stroke-width="0.6"/>
<line x1="414.37" y1="100.20" x2="416.57" y2="100.20" stroke="#1010ff" stroke-width="0.6"/>
<line x1="416.31" y1="98.84" x2="416.31" y2="100.02" stroke="#1010ff" stroke-width="0.7"/>
<line x1="415.21" y1="98.84" x2="417.41" y2="98.84" stroke="#1010ff" stroke-width="0.6"/>
<line x1="415.21" y1="100.02" x2="417.41" y2="100.02" stroke="#1010ff" stroke-width="0.6"/>
<line x1="417.38" y1="98.60" x2="417.38" y2="99.78" stroke="#1010ff" stroke-width="0.7"/>
<line x1="416.28" y1="98.60" x2="418.48" y2="98.60" stroke="#1010ff" stroke-width="0.6"/>
<line x1="416.28" y1="99.78" x2="418.48" y2="99.78" stroke="#1010ff" stroke-width="0.6"/>
<line x1="418.72" y1="98.45" x2="418.72" y2="99.63" stroke="#1010ff" stroke-width="0.7"/>
<line x1="417.62" y1="98.45" x2="419.82" y2="98.45" stroke="#1010ff" stroke-width="0.6"/>
<line x1="417.62" y1="99.63" x2="419.82" y2="99.63" stroke="#1010ff" stroke-width="0.6"/>
<line x1="420.40" y1="98.26" x2="420.40" y2="99.45" stroke="#1010ff" stroke-width="0.7"/>
<line x1="419.30" y1="98.26" x2="421.50" y2="98.26" stroke="#1010ff" stroke-width="0.6"/>
<line x1="419.30" y1="99.45" x2="421.50" y2="99.45" stroke="#1010ff" stroke-width="0.6"/>
<line x1="422.53" y1="98.02" x2="422.53" y2="99.22" stroke="#1010ff" stroke-width="0.7"/>
<line x1="421.43" y1="98.02" x2="423.63" y2="98.02" stroke="#1010ff" stroke-width="0.6"/>
<line x1="421.43" y1="99.22" x2="423.63" y2="99.22" stroke="#1010ff" stroke-width="0.6"/>
<line x1="425.20" y1="97.71" x2="425.20" y2="98.93" stroke="#1010ff" stroke-width="0.7"/>
<line x1="424.10" y1="97.71" x2="426.30" y2="97.71" stroke="#1010ff" stroke-width="0.6"/>
<line x1="424.10" y1="98.93" x2="426.30" y2="98.93" stroke="#1010ff" stroke-width="0.6"/>
<line x1="428.57" y1="97.47" x2="428.57" y2="98.70" stroke="#1010ff" stroke-width="0.7"/>
<line x1="427.47" y1="97.47" x2="429.67" y2="97.47" stroke="#1010ff" stroke-width="0.6"/>
<line x1="427.47" y1="98.70" x2="429.67" y2="98.70" stroke="#1010ff" stroke-width="0.6"/>
<line x1="432.80" y1="97.17" x2="432.80" y2="98.42" stroke="#1010ff" stroke-width="0.7"/>
<line x1="431.70" y1="97.17" x2="433.90" y2="97.17" stroke="#1010ff" stroke-width="0.6"/>
<line x1="431.70" y1="98.42" x2="433.90" y2="98.42" stroke="#1010ff" stroke-width="0.6"/>
<line x1="438.14" y1="96.88" x2="438.14" y2="98.15" stroke="#1010ff" stroke-width="0.7"/>
<line x1="437.04" y1="96.88" x2="439.24" y2="96.88" stroke="#1010ff" stroke-width="0.6"/>
<line x1="437.04" y1="98.15" x2="439.24" y2="98.15" stroke="#1010ff" stroke-width="0.6"/>
<line x1="444.85" y1="96.35" x2="444.85" y2="97.65" stroke="#1010ff" stroke-width="0.7"/>
<line x1="443.75" y1="96.35" x2="445.95" y2="96.35" stroke="#1010ff" stroke-width="0.6"/>
<line x1="443.75" y1="97.65" x2="445.95" y2="97.65" stroke="#1010ff" stroke-width="0.6"/>
<line x1="453.31" y1="95.54" x2="453.31" y2="96.88" stroke="#1010ff" stroke-width="0.7"/>
<line x1="452.21" y1="95.54" x2="454.41" y2="95.54" stroke="#1010ff" stroke-width="0.6"/>
<line x1="452.21" y1="96.88" x2="454.41" y2="96.88" stroke="#1010ff" stroke-width="0.6"/>
<line x1="463.95" y1="94.73" x2="463.95" y2="96.11" stroke="#1010ff" stroke-width="0.7"/>
<line x1="462.85" y1="94.73" x2="465.05" y2="94.73" stroke="#1010ff" stroke-width="0.6"/>
<line x1="462.85" y1="96.11" x2="465.05" y2="96.11" stroke="#1010ff" stroke-width="0.6"/>
<line x1="477.35" y1="93.78" x2="477.35" y2="95.22" stroke="#1010ff" stroke-width="0.7"/>
<line x1="476.25" y1="93.78" x2="478.45" y2="93.78" stroke="#1010ff" stroke-width="0.6"/>
<line x1="476.25" y1="95.22" x2="478.45" y2="95.22" stroke="#1010ff" stroke-width="0.6"/>
<line x1="494.22" y1="93.33" x2="494.22" y2="94.85" stroke="#1010ff" stroke-width="0.7"/>
<line x1="493.12" y1="93.33" x2="495.32" y2="93.33" stroke="#1010ff" stroke-width="0.6"/>
<line x1="493.12" y1="94.85" x2="495.32" y2="94.85" stroke="#1010ff" stroke-width="0.6"/>
<line x1="515.46" y1="92.31" x2="515.46" y2="93.92" stroke="#1010ff" stroke-width="0.7"/>
<line x1="514.36" y1="92.31" x2="516.56" y2="92.31" stroke="#1010ff" stroke-width="0.6"/>
<line x1="514.36" y1="93.92" x2="516.56" y2="93.92" stroke="#1010ff" stroke-width="0.6"/>
<line x1="542.20" y1="91.53" x2="542.20" y2="93.26" stroke="#1010ff" stroke-width="0.7"/>
<line x1="541.10" y1="91.53" x2="543.30" y2="91.53" stroke="#1010ff" stroke-width="0.6"/>
<line x1="541.10" y1="93.26" x2="543.30" y2="93.26" stroke="#1010ff" stroke-width="0.6"/>
<circle cx="413.50" cy="100.05" r="1.45" fill="#1010ff"/>
<circle cx="413.84" cy="99.98" r="1.45" fill="#1010ff"/>
<circle cx="414.26" cy="99.88" r="1.45" fill="#1010ff"/>
<circle cx="414.79" cy="99.77" r="1.45" fill="#1010ff"/>
<circle cx="415.47" cy="99.62" r="1.45" fill="#1010ff"/>
<circle cx="416.31" cy="99.43" r="1.45" fill="#1010ff"/>
<circle cx="417.38" cy="99.19" r="1.45" fill="#1010ff"/>
<circle cx="418.72" cy="99.04" r="1.45" fill="#1010ff"/>
<circle cx="420.40" cy="98.85" r="1.45" fill="#1010ff"/>
<circle cx="422.53" cy="98.62" r="1.45" fill="#1010ff"/>
<circle cx="425.20" cy="98.32" r="1.45" fill="#1010ff"/>
<circle cx="428.57" cy="98.09" r="1.45" fill="#1010ff"/>
<circle cx="432.80" cy="97.80" r="1.45" fill="#1010ff"/>
<circle cx="438.14" cy="97.51" r="1.45" fill="#1010ff"/>
<circle cx="444.85" cy="97.00" r="1.45" fill="#1010ff"/>
<circle cx="453.31" cy="96.21" r="1.45" fill="#1010ff"/>
<circle cx="463.95" cy="95.42" r="1.45" fill="#1010ff"/>
<circle cx="477.35" cy="94.50" r="1.45" fill="#1010ff"/>
<circle cx="494.22" cy="94.09" r="1.45" fill="#1010ff"/>
<circle cx="515.46" cy="93.12" r="1.45" fill="#1010ff"/>
<circle cx="542.20" cy="92.39" r="1.45" fill="#1010ff"/>
<rect x="502.7" y="43.2" width="39.8" height="40" fill="#fff" stroke="#1f1f1f" stroke-width="0.9"/>
<line x1="506.90" y1="49.50" x2="516.50" y2="49.50" stroke="#1010ff" stroke-width="0.7" stroke-opacity="0.6"/>
<circle cx="511.60" cy="49.50" r="1.2" fill="#1010ff"/>
<text x="521.50" y="51.45" font-size="5.3" text-anchor="start" fill="#000" textLength="18.4" lengthAdjust="spacingAndGlyphs" style="stroke-width:0.15px">G'- 70%</text>
<line x1="506.90" y1="58.90" x2="516.50" y2="58.90" stroke="#1010ff" stroke-width="0.7" stroke-opacity="0.6"/>
<circle cx="511.60" cy="58.90" r="1.2" fill="#1010ff"/>
<text x="521.50" y="60.85" font-size="5.3" text-anchor="start" fill="#000" textLength="18.4" lengthAdjust="spacingAndGlyphs" style="stroke-width:0.15px">G"- 70%</text>
<line x1="506.90" y1="68.60" x2="516.50" y2="68.60" stroke="#ff2a2a" stroke-width="0.7" stroke-opacity="0.6"/>
<rect x="510.90" y="67.90" width="1.4" height="1.4" fill="#ff2a2a"/>
<text x="521.50" y="70.55" font-size="5.3" text-anchor="start" fill="#000" textLength="18.4" lengthAdjust="spacingAndGlyphs" style="stroke-width:0.15px">G'- 30%</text>
<line x1="506.90" y1="78.30" x2="516.50" y2="78.30" stroke="#ff2a2a" stroke-width="0.7" stroke-opacity="0.6"/>
<rect x="510.90" y="77.60" width="1.4" height="1.4" fill="#ff2a2a"/>
<text x="521.50" y="80.25" font-size="5.3" text-anchor="start" fill="#000" textLength="18.4" lengthAdjust="spacingAndGlyphs" style="stroke-width:0.15px">G"- 30%</text>
<line x1="42.20" y1="156.23" x2="42.20" y2="243.75" stroke="#1f1f1f" stroke-width="0.95"/>
<line x1="171.48" y1="156.23" x2="171.48" y2="243.75" stroke="#1f1f1f" stroke-width="0.95"/>
<line x1="41.75" y1="243.30" x2="171.93" y2="243.30" stroke="#1f1f1f" stroke-width="0.95"/>
<line x1="38.60" y1="243.30" x2="42.20" y2="243.30" stroke="#1f1f1f" stroke-width="0.9"/>
<text x="37.90" y="245.85" font-size="6.6" text-anchor="end" fill="#1a1a1a">0</text>
<line x1="38.60" y1="225.97" x2="42.20" y2="225.97" stroke="#1f1f1f" stroke-width="0.9"/>
<text x="37.90" y="228.52" font-size="6.6" text-anchor="end" fill="#1a1a1a">20</text>
<line x1="38.60" y1="208.63" x2="42.20" y2="208.63" stroke="#1f1f1f" stroke-width="0.9"/>
<text x="37.90" y="211.18" font-size="6.6" text-anchor="end" fill="#1a1a1a">40</text>
<line x1="38.60" y1="191.30" x2="42.20" y2="191.30" stroke="#1f1f1f" stroke-width="0.9"/>
<text x="37.90" y="193.85" font-size="6.6" text-anchor="end" fill="#1a1a1a">60</text>
<line x1="38.60" y1="173.96" x2="42.20" y2="173.96" stroke="#1f1f1f" stroke-width="0.9"/>
<text x="37.90" y="176.51" font-size="6.6" text-anchor="end" fill="#1a1a1a">80</text>
<line x1="38.60" y1="156.63" x2="42.20" y2="156.63" stroke="#1f1f1f" stroke-width="0.9"/>
<text x="37.90" y="159.18" font-size="6.6" text-anchor="end" fill="#1a1a1a">100</text>
<line x1="171.48" y1="243.30" x2="175.28" y2="243.30" stroke="#1f1f1f" stroke-width="0.9"/>
<text x="176.28" y="245.75" font-size="6.6" text-anchor="start" fill="#1a1a1a">0</text>
<line x1="171.48" y1="228.86" x2="173.48" y2="228.86" stroke="#1f1f1f" stroke-width="0.9"/>
<line x1="171.48" y1="214.42" x2="175.28" y2="214.42" stroke="#1f1f1f" stroke-width="0.9"/>
<text x="176.28" y="216.87" font-size="6.6" text-anchor="start" fill="#1a1a1a">2</text>
<line x1="171.48" y1="199.98" x2="173.48" y2="199.98" stroke="#1f1f1f" stroke-width="0.9"/>
<line x1="171.48" y1="185.54" x2="175.28" y2="185.54" stroke="#1f1f1f" stroke-width="0.9"/>
<text x="176.28" y="187.99" font-size="6.6" text-anchor="start" fill="#1a1a1a">4</text>
<line x1="171.48" y1="171.10" x2="173.48" y2="171.10" stroke="#1f1f1f" stroke-width="0.9"/>
<line x1="171.48" y1="156.66" x2="175.28" y2="156.66" stroke="#1f1f1f" stroke-width="0.9"/>
<text x="176.28" y="159.11" font-size="6.6" text-anchor="start" fill="#1a1a1a">6</text>
<line x1="171.48" y1="243.30" x2="171.48" y2="246.60" stroke="#1f1f1f" stroke-width="0.9"/>
<text x="171.18" y="253.70" font-size="6.6" text-anchor="middle" fill="#1a1a1a">-8</text>
<line x1="163.40" y1="243.30" x2="163.40" y2="245.30" stroke="#1f1f1f" stroke-width="0.9"/>
<line x1="155.32" y1="243.30" x2="155.32" y2="246.60" stroke="#1f1f1f" stroke-width="0.9"/>
<text x="155.02" y="253.70" font-size="6.6" text-anchor="middle" fill="#1a1a1a">-6</text>
<line x1="147.24" y1="243.30" x2="147.24" y2="245.30" stroke="#1f1f1f" stroke-width="0.9"/>
<line x1="139.16" y1="243.30" x2="139.16" y2="246.60" stroke="#1f1f1f" stroke-width="0.9"/>
<text x="138.86" y="253.70" font-size="6.6" text-anchor="middle" fill="#1a1a1a">-4</text>
<line x1="131.08" y1="243.30" x2="131.08" y2="245.30" stroke="#1f1f1f" stroke-width="0.9"/>
<line x1="123.00" y1="243.30" x2="123.00" y2="246.60" stroke="#1f1f1f" stroke-width="0.9"/>
<text x="122.70" y="253.70" font-size="6.6" text-anchor="middle" fill="#1a1a1a">-2</text>
<line x1="114.92" y1="243.30" x2="114.92" y2="245.30" stroke="#1f1f1f" stroke-width="0.9"/>
<line x1="106.84" y1="243.30" x2="106.84" y2="246.60" stroke="#1f1f1f" stroke-width="0.9"/>
<text x="106.84" y="253.70" font-size="6.6" text-anchor="middle" fill="#1a1a1a">0</text>
<line x1="98.76" y1="243.30" x2="98.76" y2="245.30" stroke="#1f1f1f" stroke-width="0.9"/>
<line x1="90.68" y1="243.30" x2="90.68" y2="246.60" stroke="#1f1f1f" stroke-width="0.9"/>
<text x="90.68" y="253.70" font-size="6.6" text-anchor="middle" fill="#1a1a1a">2</text>
<line x1="82.60" y1="243.30" x2="82.60" y2="245.30" stroke="#1f1f1f" stroke-width="0.9"/>
<line x1="74.52" y1="243.30" x2="74.52" y2="246.60" stroke="#1f1f1f" stroke-width="0.9"/>
<text x="74.52" y="253.70" font-size="6.6" text-anchor="middle" fill="#1a1a1a">4</text>
<line x1="66.44" y1="243.30" x2="66.44" y2="245.30" stroke="#1f1f1f" stroke-width="0.9"/>
<line x1="58.36" y1="243.30" x2="58.36" y2="246.60" stroke="#1f1f1f" stroke-width="0.9"/>
<text x="58.36" y="253.70" font-size="6.6" text-anchor="middle" fill="#1a1a1a">6</text>
<line x1="50.28" y1="243.30" x2="50.28" y2="245.30" stroke="#1f1f1f" stroke-width="0.9"/>
<line x1="42.20" y1="243.30" x2="42.20" y2="246.60" stroke="#1f1f1f" stroke-width="0.9"/>
<text x="42.20" y="253.70" font-size="6.6" text-anchor="middle" fill="#1a1a1a">8</text>
<text x="106.90" y="264.60" font-size="6.85" font-weight="bold" text-anchor="middle" fill="#1a1a1a">Offset (ppm)</text>
<text transform="translate(22.2,199.6) rotate(-90)" font-size="6.85" font-weight="bold" text-anchor="middle" fill="#1a1a1a">S/S<tspan font-size="5" dy="1.6">0</tspan><tspan dy="-1.6"> (%)</tspan></text>
<text transform="translate(187.90,199.40) rotate(90)" font-size="6.85" font-weight="bold" text-anchor="middle" fill="#1a1a1a">CEST (%)</text>
<text x="2.90" y="151.60" font-size="11.9" font-weight="bold" text-anchor="start" fill="#1a1a1a">(D)</text>
<line x1="62.40" y1="237.44" x2="62.40" y2="243.00" stroke="#ff9030" stroke-width="0.7" stroke-opacity="0.85"/>
<line x1="61.60" y1="237.44" x2="63.20" y2="237.44" stroke="#ff9030" stroke-width="0.55" stroke-opacity="0.85"/>
<line x1="70.48" y1="235.99" x2="70.48" y2="242.60" stroke="#ff9030" stroke-width="0.7" stroke-opacity="0.85"/>
<line x1="69.68" y1="235.99" x2="71.28" y2="235.99" stroke="#ff9030" stroke-width="0.55" stroke-opacity="0.85"/>
<line x1="78.56" y1="233.03" x2="78.56" y2="238.51" stroke="#ff9030" stroke-width="0.7" stroke-opacity="0.85"/>
<line x1="77.76" y1="233.03" x2="79.36" y2="233.03" stroke="#ff9030" stroke-width="0.55" stroke-opacity="0.85"/>
<line x1="80.58" y1="227.73" x2="80.58" y2="233.10" stroke="#ff9030" stroke-width="0.7" stroke-opacity="0.85"/>
<line x1="79.78" y1="227.73" x2="81.38" y2="227.73" stroke="#ff9030" stroke-width="0.55" stroke-opacity="0.85"/>
<line x1="82.60" y1="217.49" x2="82.60" y2="226.07" stroke="#ff9030" stroke-width="0.7" stroke-opacity="0.85"/>
<line x1="81.80" y1="217.49" x2="83.40" y2="217.49" stroke="#ff9030" stroke-width="0.55" stroke-opacity="0.85"/>
<line x1="84.62" y1="208.55" x2="84.62" y2="216.37" stroke="#ff9030" stroke-width="0.7" stroke-opacity="0.85"/>
<line x1="83.82" y1="208.55" x2="85.42" y2="208.55" stroke="#ff9030" stroke-width="0.55" stroke-opacity="0.85"/>
<line x1="86.64" y1="201.92" x2="86.64" y2="206.68" stroke="#ff9030" stroke-width="0.7" stroke-opacity="0.85"/>
<line x1="85.84" y1="201.92" x2="87.44" y2="201.92" stroke="#ff9030" stroke-width="0.55" stroke-opacity="0.85"/>
<line x1="88.66" y1="198.67" x2="88.66" y2="206.64" stroke="#ff9030" stroke-width="0.7" stroke-opacity="0.85"/>
<line x1="87.86" y1="198.67" x2="89.46" y2="198.67" stroke="#ff9030" stroke-width="0.55" stroke-opacity="0.85"/>
<line x1="90.68" y1="207.10" x2="90.68" y2="211.76" stroke="#ff9030" stroke-width="0.7" stroke-opacity="0.85"/>
<line x1="89.88" y1="207.10" x2="91.48" y2="207.10" stroke="#ff9030" stroke-width="0.55" stroke-opacity="0.85"/>
<line x1="92.70" y1="214.69" x2="92.70" y2="221.76" stroke="#ff9030" stroke-width="0.7" stroke-opacity="0.85"/>
<line x1="91.90" y1="214.69" x2="93.50" y2="214.69" stroke="#ff9030" stroke-width="0.55" stroke-opacity="0.85"/>
<line x1="94.72" y1="225.46" x2="94.72" y2="230.06" stroke="#ff9030" stroke-width="0.7" stroke-opacity="0.85"/>
<line x1="93.92" y1="225.46" x2="95.52" y2="225.46" stroke="#ff9030" stroke-width="0.55" stroke-opacity="0.85"/>
<line x1="125.02" y1="234.99" x2="125.02" y2="237.70" stroke="#ff9030" stroke-width="0.7" stroke-opacity="0.85"/>
<line x1="124.22" y1="234.99" x2="125.82" y2="234.99" stroke="#ff9030" stroke-width="0.55" stroke-opacity="0.85"/>
<line x1="127.04" y1="228.71" x2="127.04" y2="235.33" stroke="#ff9030" stroke-width="0.7" stroke-opacity="0.85"/>
<line x1="126.24" y1="228.71" x2="127.84" y2="228.71" stroke="#ff9030" stroke-width="0.55" stroke-opacity="0.85"/>
<line x1="129.06" y1="228.36" x2="129.06" y2="232.00" stroke="#ff9030" stroke-width="0.7" stroke-opacity="0.85"/>
<line x1="128.26" y1="228.36" x2="129.86" y2="228.36" stroke="#ff9030" stroke-width="0.55" stroke-opacity="0.85"/>
<line x1="131.08" y1="227.12" x2="131.08" y2="230.79" stroke="#ff9030" stroke-width="0.7" stroke-opacity="0.85"/>
<line x1="130.28" y1="227.12" x2="131.88" y2="227.12" stroke="#ff9030" stroke-width="0.55" stroke-opacity="0.85"/>
<line x1="133.10" y1="224.33" x2="133.10" y2="231.45" stroke="#ff9030" stroke-width="0.7" stroke-opacity="0.85"/>
<line x1="132.30" y1="224.33" x2="133.90" y2="224.33" stroke="#ff9030" stroke-width="0.55" stroke-opacity="0.85"/>
<line x1="135.12" y1="223.95" x2="135.12" y2="230.57" stroke="#ff9030" stroke-width="0.7" stroke-opacity="0.85"/>
<line x1="134.32" y1="223.95" x2="135.92" y2="223.95" stroke="#ff9030" stroke-width="0.55" stroke-opacity="0.85"/>
<line x1="137.14" y1="224.98" x2="137.14" y2="228.98" stroke="#ff9030" stroke-width="0.7" stroke-opacity="0.85"/>
<line x1="136.34" y1="224.98" x2="137.94" y2="224.98" stroke="#ff9030" stroke-width="0.55" stroke-opacity="0.85"/>
<line x1="139.16" y1="223.18" x2="139.16" y2="230.20" stroke="#ff9030" stroke-width="0.7" stroke-opacity="0.85"/>
<line x1="138.36" y1="223.18" x2="139.96" y2="223.18" stroke="#ff9030" stroke-width="0.55" stroke-opacity="0.85"/>
<line x1="141.18" y1="224.49" x2="141.18" y2="229.62" stroke="#ff9030" stroke-width="0.7" stroke-opacity="0.85"/>
<line x1="140.38" y1="224.49" x2="141.98" y2="224.49" stroke="#ff9030" stroke-width="0.55" stroke-opacity="0.85"/>
<line x1="143.20" y1="224.89" x2="143.20" y2="230.64" stroke="#ff9030" stroke-width="0.7" stroke-opacity="0.85"/>
<line x1="142.40" y1="224.89" x2="144.00" y2="224.89" stroke="#ff9030" stroke-width="0.55" stroke-opacity="0.85"/>
<line x1="145.22" y1="227.02" x2="145.22" y2="230.64" stroke="#ff9030" stroke-width="0.7" stroke-opacity="0.85"/>
<line x1="144.42" y1="227.02" x2="146.02" y2="227.02" stroke="#ff9030" stroke-width="0.55" stroke-opacity="0.85"/>
<line x1="147.24" y1="226.08" x2="147.24" y2="233.01" stroke="#ff9030" stroke-width="0.7" stroke-opacity="0.85"/>
<line x1="146.44" y1="226.08" x2="148.04" y2="226.08" stroke="#ff9030" stroke-width="0.55" stroke-opacity="0.85"/>
<line x1="149.26" y1="227.47" x2="149.26" y2="233.28" stroke="#ff9030" stroke-width="0.7" stroke-opacity="0.85"/>
<line x1="148.46" y1="227.47" x2="150.06" y2="227.47" stroke="#ff9030" stroke-width="0.55" stroke-opacity="0.85"/>
<line x1="151.28" y1="227.54" x2="151.28" y2="234.59" stroke="#ff9030" stroke-width="0.7" stroke-opacity="0.85"/>
<line x1="150.48" y1="227.54" x2="152.08" y2="227.54" stroke="#ff9030" stroke-width="0.55" stroke-opacity="0.85"/>
<line x1="153.30" y1="228.46" x2="153.30" y2="235.18" stroke="#ff9030" stroke-width="0.7" stroke-opacity="0.85"/>
<line x1="152.50" y1="228.46" x2="154.10" y2="228.46" stroke="#ff9030" stroke-width="0.55" stroke-opacity="0.85"/>
<line x1="155.32" y1="230.67" x2="155.32" y2="234.71" stroke="#ff9030" stroke-width="0.7" stroke-opacity="0.85"/>
<line x1="154.52" y1="230.67" x2="156.12" y2="230.67" stroke="#ff9030" stroke-width="0.55" stroke-opacity="0.85"/>
<line x1="159.36" y1="231.92" x2="159.36" y2="236.25" stroke="#ff9030" stroke-width="0.7" stroke-opacity="0.85"/>
<line x1="158.56" y1="231.92" x2="160.16" y2="231.92" stroke="#ff9030" stroke-width="0.55" stroke-opacity="0.85"/>
<line x1="163.40" y1="233.80" x2="163.40" y2="237.25" stroke="#ff9030" stroke-width="0.7" stroke-opacity="0.85"/>
<line x1="162.60" y1="233.80" x2="164.20" y2="233.80" stroke="#ff9030" stroke-width="0.55" stroke-opacity="0.85"/>
<line x1="167.44" y1="235.22" x2="167.44" y2="238.57" stroke="#ff9030" stroke-width="0.7" stroke-opacity="0.85"/>
<line x1="166.64" y1="235.22" x2="168.24" y2="235.22" stroke="#ff9030" stroke-width="0.55" stroke-opacity="0.85"/>
<line x1="171.48" y1="236.73" x2="171.48" y2="239.72" stroke="#ff9030" stroke-width="0.7" stroke-opacity="0.85"/>
<line x1="170.68" y1="236.73" x2="172.28" y2="236.73" stroke="#ff9030" stroke-width="0.55" stroke-opacity="0.85"/>
<polyline points="42.20,243.00 43.05,242.96 44.21,242.90 45.60,242.83 46.24,242.79 47.10,242.75 48.60,242.67 50.00,242.60 50.28,242.59 51.37,242.54 52.80,242.49 54.24,242.44 54.32,242.43 55.62,242.38 56.90,242.30 58.00,242.20 58.36,242.15 58.89,242.07 59.61,241.91 60.22,241.74 60.38,241.69 60.78,241.56 61.35,241.37 62.00,241.20 62.40,241.10 62.72,241.03 63.46,240.85 64.22,240.67 64.42,240.63 64.98,240.50 65.74,240.34 66.44,240.21 66.50,240.20 67.24,240.08 67.98,239.97 68.46,239.91 68.72,239.87 69.46,239.79 70.22,239.70 70.48,239.66 71.00,239.60 71.83,239.53 72.50,239.50 72.72,239.49 73.62,239.45 74.49,239.38 74.52,239.37 75.30,239.24 76.00,239.00 76.54,238.70 76.57,238.69 77.05,238.33 77.46,237.91 77.83,237.39 78.20,236.77 78.56,236.08 78.60,236.00 79.02,235.10 79.44,234.08 79.86,232.94 80.28,231.70 80.58,230.71 80.69,230.35 81.10,228.90 81.51,227.28 81.92,225.47 82.33,223.55 82.60,222.25 82.73,221.61 83.12,219.73 83.50,218.00 83.85,216.41 84.18,214.89 84.50,213.42 84.62,212.89 84.82,212.01 85.15,210.64 85.50,209.30 85.87,207.82 86.25,206.18 86.64,204.58 86.64,204.57 87.04,203.21 87.46,202.29 87.90,202.00 88.37,202.47 88.66,203.10 88.88,203.57 89.40,205.11 89.92,206.90 90.43,208.76 90.68,209.69 90.90,210.50 91.33,212.19 91.74,213.98 92.14,215.84 92.52,217.74 92.70,218.62 92.91,219.64 93.30,221.50 93.70,223.34 94.10,225.19 94.51,227.03 94.72,228.01 94.91,228.87 95.31,230.70 95.70,232.50 96.08,234.40 96.44,236.43 96.74,238.07 96.81,238.44 97.18,240.30 97.57,241.86 98.00,243.00 98.47,243.00 98.76,243.00 98.98,243.00 99.51,243.00 100.04,243.00 100.58,243.00 100.78,243.00 101.10,243.00 101.61,241.55 102.13,239.33 102.65,236.81 102.80,236.11 103.16,234.44 103.64,232.69 104.10,232.00 104.53,232.77 104.82,234.15 104.94,234.70 105.32,237.25 105.70,239.85 106.05,241.95 106.40,243.00 106.72,242.71 106.84,242.22 107.01,241.48 107.29,239.75 107.57,237.96 107.87,236.56 108.20,236.00 108.47,236.44 108.64,237.56 108.83,239.06 108.86,239.21 109.15,240.67 109.70,242.08 110.60,243.00 110.88,243.00 111.99,243.00 112.90,243.00 113.81,243.00 114.92,243.00 115.87,243.00 116.94,243.00 117.97,243.00 118.96,243.00 119.91,243.00 120.98,243.00 121.50,243.00 122.69,241.82 123.00,241.27 123.64,240.13 124.43,238.16 125.02,236.50 125.15,236.13 125.88,234.27 126.70,232.80 127.04,232.39 127.59,231.72 128.46,230.86 129.06,230.38 129.35,230.16 130.27,229.58 131.08,229.16 131.25,229.07 132.30,228.60 133.10,228.28 133.45,228.14 134.69,227.74 135.12,227.63 135.98,227.41 137.14,227.20 137.30,227.17 138.62,227.06 139.16,227.08 139.90,227.10 141.15,227.33 141.18,227.34 142.40,227.74 143.20,228.09 143.65,228.28 144.90,228.88 145.22,229.03 146.15,229.47 147.24,229.93 147.40,230.00 148.62,230.46 149.26,230.70 149.80,230.90 150.98,231.34 151.28,231.45 152.21,231.80 153.30,232.19 153.54,232.28 155.00,232.80 155.32,232.91 156.70,233.40 158.62,234.07 159.36,234.32 160.63,234.76 162.61,235.44 163.40,235.71 164.45,236.07 166.00,236.60 167.30,237.04 167.44,237.08 168.44,237.41 169.44,237.74 170.28,238.01 170.97,238.23 171.48,238.39 171.50,238.40" fill="none" stroke="#ff8a1a" stroke-width="0.75" stroke-linejoin="round"/>
<rect x="41.62" y="242.43" width="1.15" height="1.15" fill="#ff8a1a"/>
<rect x="45.66" y="242.22" width="1.15" height="1.15" fill="#ff8a1a"/>
<rect x="49.70" y="242.01" width="1.15" height="1.15" fill="#ff8a1a"/>
<rect x="53.75" y="241.86" width="1.15" height="1.15" fill="#ff8a1a"/>
<rect x="57.78" y="241.57" width="1.15" height="1.15" fill="#ff8a1a"/>
<rect x="59.80" y="241.11" width="1.15" height="1.15" fill="#ff8a1a"/>
<rect x="61.83" y="240.53" width="1.15" height="1.15" fill="#ff8a1a"/>
<rect x="63.84" y="240.05" width="1.15" height="1.15" fill="#ff8a1a"/>
<rect x="65.86" y="239.64" width="1.15" height="1.15" fill="#ff8a1a"/>
<rect x="67.89" y="239.33" width="1.15" height="1.15" fill="#ff8a1a"/>
<rect x="69.91" y="239.09" width="1.15" height="1.15" fill="#ff8a1a"/>
<rect x="71.92" y="238.92" width="1.15" height="1.15" fill="#ff8a1a"/>
<rect x="73.95" y="238.80" width="1.15" height="1.15" fill="#ff8a1a"/>
<rect x="75.97" y="238.13" width="1.15" height="1.15" fill="#ff8a1a"/>
<rect x="77.98" y="235.26" width="1.15" height="1.15" fill="#ff8a1a"/>
<rect x="80.01" y="230.26" width="1.15" height="1.15" fill="#ff8a1a"/>
<rect x="82.02" y="221.08" width="1.15" height="1.15" fill="#ff8a1a"/>
<rect x="84.05" y="212.53" width="1.15" height="1.15" fill="#ff8a1a"/>
<rect x="86.06" y="203.80" width="1.15" height="1.15" fill="#ff8a1a"/>
<rect x="88.08" y="202.29" width="1.15" height="1.15" fill="#ff8a1a"/>
<rect x="90.11" y="209.49" width="1.15" height="1.15" fill="#ff8a1a"/>
<rect x="92.12" y="218.02" width="1.15" height="1.15" fill="#ff8a1a"/>
<rect x="94.14" y="227.22" width="1.15" height="1.15" fill="#ff8a1a"/>
<rect x="96.17" y="237.47" width="1.15" height="1.15" fill="#ff8a1a"/>
<rect x="98.19" y="242.43" width="1.15" height="1.15" fill="#ff8a1a"/>
<rect x="100.20" y="242.43" width="1.15" height="1.15" fill="#ff8a1a"/>
<rect x="102.23" y="235.53" width="1.15" height="1.15" fill="#ff8a1a"/>
<rect x="104.24" y="233.57" width="1.15" height="1.15" fill="#ff8a1a"/>
<rect x="106.27" y="241.64" width="1.15" height="1.15" fill="#ff8a1a"/>
<rect x="108.28" y="238.63" width="1.15" height="1.15" fill="#ff8a1a"/>
<rect x="110.31" y="242.43" width="1.15" height="1.15" fill="#ff8a1a"/>
<rect x="112.33" y="242.43" width="1.15" height="1.15" fill="#ff8a1a"/>
<rect x="114.34" y="242.43" width="1.15" height="1.15" fill="#ff8a1a"/>
<rect x="116.36" y="242.43" width="1.15" height="1.15" fill="#ff8a1a"/>
<rect x="118.39" y="242.43" width="1.15" height="1.15" fill="#ff8a1a"/>
<rect x="120.41" y="242.43" width="1.15" height="1.15" fill="#ff8a1a"/>
<rect x="122.42" y="240.94" width="1.15" height="1.15" fill="#ff8a1a"/>
<rect x="124.45" y="235.39" width="1.15" height="1.15" fill="#ff8a1a"/>
<rect x="126.47" y="232.38" width="1.15" height="1.15" fill="#ff8a1a"/>
<rect x="128.49" y="229.24" width="1.15" height="1.15" fill="#ff8a1a"/>
<rect x="130.50" y="228.88" width="1.15" height="1.15" fill="#ff8a1a"/>
<rect x="132.53" y="228.12" width="1.15" height="1.15" fill="#ff8a1a"/>
<rect x="134.55" y="226.47" width="1.15" height="1.15" fill="#ff8a1a"/>
<rect x="136.56" y="226.97" width="1.15" height="1.15" fill="#ff8a1a"/>
<rect x="138.59" y="226.34" width="1.15" height="1.15" fill="#ff8a1a"/>
<rect x="140.61" y="226.86" width="1.15" height="1.15" fill="#ff8a1a"/>
<rect x="142.62" y="226.92" width="1.15" height="1.15" fill="#ff8a1a"/>
<rect x="144.65" y="227.91" width="1.15" height="1.15" fill="#ff8a1a"/>
<rect x="146.67" y="228.97" width="1.15" height="1.15" fill="#ff8a1a"/>
<rect x="148.69" y="230.67" width="1.15" height="1.15" fill="#ff8a1a"/>
<rect x="150.71" y="230.51" width="1.15" height="1.15" fill="#ff8a1a"/>
<rect x="152.73" y="231.92" width="1.15" height="1.15" fill="#ff8a1a"/>
<rect x="154.75" y="232.85" width="1.15" height="1.15" fill="#ff8a1a"/>
<rect x="158.79" y="234.28" width="1.15" height="1.15" fill="#ff8a1a"/>
<rect x="162.83" y="234.95" width="1.15" height="1.15" fill="#ff8a1a"/>
<rect x="166.87" y="236.33" width="1.15" height="1.15" fill="#ff8a1a"/>
<rect x="170.91" y="237.85" width="1.15" height="1.15" fill="#ff8a1a"/>
<polyline points="42.20,243.00 43.55,243.00 45.48,243.00 46.24,243.00 47.74,243.00 50.05,243.00 50.28,243.00 52.16,243.00 53.80,243.00 54.32,242.93 54.93,242.85 55.76,242.64 56.37,242.39 56.89,242.13 57.40,241.86 58.00,241.60 58.36,241.47 58.67,241.36 59.33,241.11 59.98,240.86 60.38,240.70 60.64,240.60 61.31,240.35 62.00,240.10 62.40,239.96 62.73,239.84 63.50,239.56 64.28,239.29 64.42,239.24 65.06,239.03 65.80,238.79 66.44,238.62 66.50,238.60 67.13,238.46 67.70,238.37 68.24,238.30 68.46,238.28 68.78,238.24 69.36,238.18 70.00,238.10 70.48,238.03 70.75,238.00 71.59,237.89 72.46,237.78 72.50,237.78 73.30,237.66 74.07,237.54 74.52,237.44 74.70,237.40 75.16,237.28 75.50,237.20 75.76,237.10 75.99,236.96 76.22,236.74 76.50,236.40 76.54,236.35 76.83,235.97 77.16,235.49 77.51,234.92 77.86,234.25 78.22,233.45 78.56,232.60 78.60,232.50 78.99,231.42 79.41,230.24 79.83,228.93 80.26,227.46 80.58,226.23 80.68,225.83 81.10,224.00 81.51,221.89 81.92,219.51 82.33,216.96 82.60,215.20 82.73,214.33 83.12,211.75 83.50,209.30 83.85,206.91 84.18,204.49 84.50,202.09 84.62,201.24 84.82,199.81 85.15,197.72 85.50,195.90 85.87,194.23 86.25,192.62 86.64,191.20 86.64,191.19 87.04,190.09 87.46,189.42 87.90,189.30 88.37,189.85 88.66,190.49 88.88,190.98 89.40,192.54 89.92,194.39 90.43,196.36 90.68,197.40 90.90,198.30 91.33,200.28 91.74,202.43 92.14,204.70 92.52,207.05 92.70,208.15 92.91,209.43 93.30,211.80 93.71,214.19 94.12,216.66 94.54,219.16 94.72,220.27 94.94,221.64 95.33,224.07 95.70,226.40 96.05,228.72 96.39,231.07 96.71,233.36 96.74,233.61 97.00,235.51 97.27,237.42 97.50,239.00 97.65,240.21 97.73,241.12 97.78,241.79 97.84,242.28 97.97,242.66 98.20,243.00 98.55,243.00 98.76,243.00 99.00,243.00 99.51,243.00 100.04,243.00 100.59,243.00 100.78,243.00 101.10,243.00 101.60,241.88 102.12,240.17 102.64,238.22 102.80,237.64 103.15,236.39 103.64,235.03 104.10,234.50 104.53,235.13 104.82,236.25 104.94,236.70 105.32,238.75 105.70,240.80 106.05,242.37 106.40,243.00 106.72,242.37 106.84,241.74 107.01,240.80 107.29,238.75 107.57,236.70 107.87,235.13 108.20,234.50 108.47,235.03 108.64,236.39 108.83,238.22 108.86,238.40 109.15,240.17 109.70,241.88 110.60,243.00 110.88,243.00 112.01,243.00 112.90,243.00 113.88,243.00 114.92,243.00 115.98,243.00 116.94,243.00 118.10,243.00 118.96,243.00 120.01,243.00 120.98,243.00 121.50,243.00 122.50,241.78 123.00,240.55 123.19,240.09 123.66,238.08 124.05,235.95 124.46,233.86 125.00,232.00 125.02,231.95 125.65,230.28 126.30,228.54 126.98,226.86 127.04,226.71 127.69,225.28 128.46,223.87 129.06,223.03 129.30,222.70 130.21,221.73 131.08,220.98 131.16,220.91 132.17,220.26 133.10,219.86 133.24,219.80 134.38,219.58 135.12,219.59 135.60,219.60 136.91,219.98 137.14,220.10 138.30,220.71 139.16,221.27 139.76,221.67 141.18,222.65 141.28,222.72 142.83,223.74 143.20,223.94 144.40,224.60 145.22,224.95 146.02,225.29 147.24,225.74 147.72,225.91 149.26,226.44 149.45,226.50 151.18,227.09 151.28,227.13 152.88,227.71 153.30,227.89 154.50,228.40 155.32,228.82 156.05,229.20 157.55,230.09 159.02,231.02 159.36,231.23 160.46,231.92 161.88,232.73 163.30,233.40 163.40,233.43 164.80,233.92 166.38,234.33 167.44,234.56 167.95,234.66 169.40,234.92 170.61,235.13 171.48,235.30 171.50,235.30" fill="none" stroke="#1a1aff" stroke-width="0.8" stroke-linejoin="round"/>
<circle cx="42.20" cy="243.00" r="0.62" fill="#1a1aff"/>
<circle cx="46.24" cy="243.00" r="0.62" fill="#1a1aff"/>
<circle cx="50.28" cy="243.00" r="0.62" fill="#1a1aff"/>
<circle cx="54.32" cy="242.93" r="0.62" fill="#1a1aff"/>
<circle cx="58.36" cy="241.47" r="0.62" fill="#1a1aff"/>
<circle cx="60.38" cy="240.70" r="0.62" fill="#1a1aff"/>
<circle cx="62.40" cy="239.96" r="0.62" fill="#1a1aff"/>
<circle cx="64.42" cy="239.24" r="0.62" fill="#1a1aff"/>
<circle cx="66.44" cy="238.62" r="0.62" fill="#1a1aff"/>
<circle cx="68.46" cy="238.28" r="0.62" fill="#1a1aff"/>
<circle cx="70.48" cy="238.03" r="0.62" fill="#1a1aff"/>
<circle cx="72.50" cy="237.78" r="0.62" fill="#1a1aff"/>
<circle cx="74.52" cy="237.44" r="0.62" fill="#1a1aff"/>
<circle cx="76.54" cy="236.35" r="0.62" fill="#1a1aff"/>
<circle cx="78.56" cy="232.60" r="0.62" fill="#1a1aff"/>
<circle cx="80.58" cy="226.23" r="0.62" fill="#1a1aff"/>
<circle cx="82.60" cy="215.20" r="0.62" fill="#1a1aff"/>
<circle cx="84.62" cy="201.24" r="0.62" fill="#1a1aff"/>
<circle cx="86.64" cy="191.19" r="0.62" fill="#1a1aff"/>
<circle cx="88.66" cy="190.49" r="0.62" fill="#1a1aff"/>
<circle cx="90.68" cy="197.40" r="0.62" fill="#1a1aff"/>
<circle cx="92.70" cy="208.15" r="0.62" fill="#1a1aff"/>
<circle cx="94.72" cy="220.27" r="0.62" fill="#1a1aff"/>
<circle cx="96.74" cy="233.61" r="0.62" fill="#1a1aff"/>
<circle cx="98.76" cy="243.00" r="0.62" fill="#1a1aff"/>
<circle cx="100.78" cy="243.00" r="0.62" fill="#1a1aff"/>
<circle cx="102.80" cy="237.64" r="0.62" fill="#1a1aff"/>
<circle cx="104.82" cy="236.25" r="0.62" fill="#1a1aff"/>
<circle cx="106.84" cy="241.74" r="0.62" fill="#1a1aff"/>
<circle cx="108.86" cy="238.40" r="0.62" fill="#1a1aff"/>
<circle cx="110.88" cy="243.00" r="0.62" fill="#1a1aff"/>
<circle cx="112.90" cy="243.00" r="0.62" fill="#1a1aff"/>
<circle cx="114.92" cy="243.00" r="0.62" fill="#1a1aff"/>
<circle cx="116.94" cy="243.00" r="0.62" fill="#1a1aff"/>
<circle cx="118.96" cy="243.00" r="0.62" fill="#1a1aff"/>
<circle cx="120.98" cy="243.00" r="0.62" fill="#1a1aff"/>
<circle cx="123.00" cy="240.55" r="0.62" fill="#1a1aff"/>
<circle cx="125.02" cy="231.95" r="0.62" fill="#1a1aff"/>
<circle cx="127.04" cy="226.71" r="0.62" fill="#1a1aff"/>
<circle cx="129.06" cy="223.03" r="0.62" fill="#1a1aff"/>
<circle cx="131.08" cy="220.98" r="0.62" fill="#1a1aff"/>
<circle cx="133.10" cy="219.86" r="0.62" fill="#1a1aff"/>
<circle cx="135.12" cy="219.59" r="0.62" fill="#1a1aff"/>
<circle cx="137.14" cy="220.10" r="0.62" fill="#1a1aff"/>
<circle cx="139.16" cy="221.27" r="0.62" fill="#1a1aff"/>
<circle cx="141.18" cy="222.65" r="0.62" fill="#1a1aff"/>
<circle cx="143.20" cy="223.94" r="0.62" fill="#1a1aff"/>
<circle cx="145.22" cy="224.95" r="0.62" fill="#1a1aff"/>
<circle cx="147.24" cy="225.74" r="0.62" fill="#1a1aff"/>
<circle cx="149.26" cy="226.44" r="0.62" fill="#1a1aff"/>
<circle cx="151.28" cy="227.13" r="0.62" fill="#1a1aff"/>
<circle cx="153.30" cy="227.89" r="0.62" fill="#1a1aff"/>
<circle cx="155.32" cy="228.82" r="0.62" fill="#1a1aff"/>
<circle cx="159.36" cy="231.23" r="0.62" fill="#1a1aff"/>
<circle cx="163.40" cy="233.43" r="0.62" fill="#1a1aff"/>
<circle cx="167.44" cy="234.56" r="0.62" fill="#1a1aff"/>
<circle cx="171.48" cy="235.30" r="0.62" fill="#1a1aff"/>
<polyline points="42.20,158.00 42.62,158.00 43.20,158.00 43.89,157.99 44.64,157.99 45.39,157.99 46.10,158.00 46.24,158.00 46.77,158.01 47.46,158.03 48.14,158.04 48.83,158.06 49.52,158.08 50.20,158.10 50.28,158.10 50.88,158.12 51.56,158.13 52.23,158.14 52.90,158.16 53.56,158.18 54.20,158.20 54.32,158.20 54.78,158.22 55.30,158.24 55.80,158.27 56.35,158.30 57.00,158.34 57.80,158.40 58.36,158.44 58.78,158.48 59.89,158.57 60.38,158.62 61.11,158.68 62.39,158.79 62.40,158.79 63.69,158.90 64.42,158.96 65.00,159.00 66.34,159.08 66.44,159.09 67.74,159.16 68.46,159.19 69.18,159.22 70.48,159.29 70.61,159.30 72.00,159.39 72.50,159.43 73.30,159.50 74.52,159.61 74.54,159.61 75.74,159.71 76.54,159.78 76.89,159.82 78.00,159.97 78.56,160.09 79.03,160.19 80.00,160.50 80.58,160.79 80.85,160.92 81.59,161.43 82.27,162.01 82.60,162.32 82.93,162.63 83.62,163.27 84.40,163.90 84.62,164.06 85.28,164.54 86.22,165.23 86.64,165.52 87.20,165.92 88.18,166.62 88.66,166.96 89.12,167.28 90.00,167.90 90.68,168.37 90.84,168.47 91.66,169.02 92.45,169.54 92.70,169.70 93.19,170.03 93.84,170.48 94.40,170.90 94.72,171.16 94.83,171.25 95.14,171.51 95.38,171.75 95.58,172.00 95.77,172.30 96.00,172.70 96.26,173.20 96.51,173.77 96.74,174.35 96.76,174.39 97.00,175.06 97.25,175.76 97.50,176.50 97.75,177.23 98.01,177.96 98.27,178.72 98.52,179.57 98.76,180.52 98.77,180.55 99.00,181.70 99.22,183.10 99.43,184.72 99.63,186.47 99.83,188.26 100.02,190.00 100.20,191.60 100.37,192.91 100.54,193.98 100.69,195.00 100.78,195.63 100.85,196.16 101.02,197.66 101.20,199.70 101.40,202.48 101.61,205.89 101.83,209.63 102.05,213.43 102.27,216.98 102.50,220.00 102.73,222.44 102.80,223.13 102.95,224.53 103.18,226.38 103.41,228.09 103.65,229.80 103.90,231.60 104.16,233.61 104.43,235.75 104.70,237.87 104.82,238.74 104.97,239.84 105.24,241.50 105.50,242.70 105.74,243.00 105.98,243.00 106.21,243.00 106.44,243.00 106.67,243.00 106.84,242.78 106.90,242.70 107.13,241.09 107.35,238.84 107.58,236.19 107.80,233.35 108.04,230.54 108.30,228.00 108.58,225.71 108.86,223.65 108.88,223.49 109.19,221.31 109.51,219.13 109.81,216.91 110.10,214.60 110.37,212.15 110.62,209.59 110.87,206.97 110.88,206.86 111.11,204.40 111.35,201.95 111.60,199.70 111.85,197.66 112.10,195.76 112.35,193.97 112.60,192.29 112.85,190.67 112.90,190.36 113.10,189.10 113.34,187.59 113.57,186.16 113.81,184.81 114.05,183.50 114.31,182.24 114.60,181.00 114.92,179.79 114.92,179.78 115.25,178.63 115.61,177.51 115.98,176.42 116.38,175.35 116.80,174.30 116.94,173.97 117.25,173.25 117.71,172.20 118.21,171.17 118.72,170.18 118.96,169.76 119.25,169.25 119.80,168.40 120.31,167.64 120.77,166.97 120.98,166.69 121.24,166.35 121.81,165.77 122.54,165.19 123.00,164.91 123.50,164.60 124.73,163.97 125.02,163.84 126.17,163.33 127.04,162.98 127.77,162.69 129.06,162.23 129.48,162.09 131.08,161.60 131.24,161.55 133.00,161.10 133.10,161.08 134.80,160.76 135.12,160.72 136.70,160.51 137.14,160.47 138.64,160.32 139.16,160.29 140.60,160.18 141.18,160.14 142.54,160.04 143.20,159.99 144.40,159.90 145.22,159.83 146.22,159.75 147.24,159.67 148.02,159.61 149.26,159.53 149.80,159.49 151.28,159.40 151.53,159.39 153.21,159.29 153.30,159.28 154.80,159.20 155.32,159.17 156.29,159.13 157.69,159.07 159.02,159.02 159.36,159.01 160.33,158.98 161.64,158.94 163.00,158.90 163.40,158.89 164.50,158.86 166.13,158.82 167.44,158.79 167.76,158.78 169.29,158.75 170.57,158.72 171.48,158.70 171.50,158.70" fill="none" stroke="#ff8a1a" stroke-width="1.0" stroke-linejoin="round"/>
<rect x="41.62" y="157.43" width="1.15" height="1.15" fill="#ff8a1a"/>
<rect x="45.66" y="157.43" width="1.15" height="1.15" fill="#ff8a1a"/>
<rect x="49.70" y="157.53" width="1.15" height="1.15" fill="#ff8a1a"/>
<rect x="53.75" y="157.63" width="1.15" height="1.15" fill="#ff8a1a"/>
<rect x="57.78" y="157.87" width="1.15" height="1.15" fill="#ff8a1a"/>
<rect x="59.80" y="158.04" width="1.15" height="1.15" fill="#ff8a1a"/>
<rect x="61.83" y="158.22" width="1.15" height="1.15" fill="#ff8a1a"/>
<rect x="63.84" y="158.38" width="1.15" height="1.15" fill="#ff8a1a"/>
<rect x="65.86" y="158.51" width="1.15" height="1.15" fill="#ff8a1a"/>
<rect x="67.89" y="158.62" width="1.15" height="1.15" fill="#ff8a1a"/>
<rect x="69.91" y="158.72" width="1.15" height="1.15" fill="#ff8a1a"/>
<rect x="71.92" y="158.86" width="1.15" height="1.15" fill="#ff8a1a"/>
<rect x="73.95" y="159.03" width="1.15" height="1.15" fill="#ff8a1a"/>
<rect x="75.97" y="159.21" width="1.15" height="1.15" fill="#ff8a1a"/>
<rect x="77.98" y="159.51" width="1.15" height="1.15" fill="#ff8a1a"/>
<rect x="80.01" y="160.21" width="1.15" height="1.15" fill="#ff8a1a"/>
<rect x="82.02" y="161.75" width="1.15" height="1.15" fill="#ff8a1a"/>
<rect x="84.05" y="163.49" width="1.15" height="1.15" fill="#ff8a1a"/>
<rect x="86.06" y="164.95" width="1.15" height="1.15" fill="#ff8a1a"/>
<rect x="88.08" y="166.38" width="1.15" height="1.15" fill="#ff8a1a"/>
<rect x="90.11" y="167.79" width="1.15" height="1.15" fill="#ff8a1a"/>
<rect x="92.12" y="169.13" width="1.15" height="1.15" fill="#ff8a1a"/>
<rect x="94.14" y="170.58" width="1.15" height="1.15" fill="#ff8a1a"/>
<rect x="96.17" y="173.77" width="1.15" height="1.15" fill="#ff8a1a"/>
<rect x="98.19" y="179.94" width="1.15" height="1.15" fill="#ff8a1a"/>
<rect x="100.20" y="195.06" width="1.15" height="1.15" fill="#ff8a1a"/>
<rect x="102.23" y="222.56" width="1.15" height="1.15" fill="#ff8a1a"/>
<rect x="104.24" y="238.16" width="1.15" height="1.15" fill="#ff8a1a"/>
<rect x="106.27" y="242.20" width="1.15" height="1.15" fill="#ff8a1a"/>
<rect x="108.28" y="223.08" width="1.15" height="1.15" fill="#ff8a1a"/>
<rect x="110.31" y="206.28" width="1.15" height="1.15" fill="#ff8a1a"/>
<rect x="112.33" y="189.78" width="1.15" height="1.15" fill="#ff8a1a"/>
<rect x="114.34" y="179.21" width="1.15" height="1.15" fill="#ff8a1a"/>
<rect x="116.36" y="173.39" width="1.15" height="1.15" fill="#ff8a1a"/>
<rect x="118.39" y="169.18" width="1.15" height="1.15" fill="#ff8a1a"/>
<rect x="120.41" y="166.12" width="1.15" height="1.15" fill="#ff8a1a"/>
<rect x="122.42" y="164.33" width="1.15" height="1.15" fill="#ff8a1a"/>
<rect x="124.45" y="163.27" width="1.15" height="1.15" fill="#ff8a1a"/>
<rect x="126.47" y="162.40" width="1.15" height="1.15" fill="#ff8a1a"/>
<rect x="128.49" y="161.66" width="1.15" height="1.15" fill="#ff8a1a"/>
<rect x="130.50" y="161.02" width="1.15" height="1.15" fill="#ff8a1a"/>
<rect x="132.53" y="160.51" width="1.15" height="1.15" fill="#ff8a1a"/>
<rect x="134.55" y="160.14" width="1.15" height="1.15" fill="#ff8a1a"/>
<rect x="136.56" y="159.89" width="1.15" height="1.15" fill="#ff8a1a"/>
<rect x="138.59" y="159.71" width="1.15" height="1.15" fill="#ff8a1a"/>
<rect x="140.61" y="159.56" width="1.15" height="1.15" fill="#ff8a1a"/>
<rect x="142.62" y="159.42" width="1.15" height="1.15" fill="#ff8a1a"/>
<rect x="144.65" y="159.26" width="1.15" height="1.15" fill="#ff8a1a"/>
<rect x="146.67" y="159.10" width="1.15" height="1.15" fill="#ff8a1a"/>
<rect x="148.69" y="158.96" width="1.15" height="1.15" fill="#ff8a1a"/>
<rect x="150.71" y="158.83" width="1.15" height="1.15" fill="#ff8a1a"/>
<rect x="152.73" y="158.71" width="1.15" height="1.15" fill="#ff8a1a"/>
<rect x="154.75" y="158.60" width="1.15" height="1.15" fill="#ff8a1a"/>
<rect x="158.79" y="158.43" width="1.15" height="1.15" fill="#ff8a1a"/>
<rect x="162.83" y="158.31" width="1.15" height="1.15" fill="#ff8a1a"/>
<rect x="166.87" y="158.21" width="1.15" height="1.15" fill="#ff8a1a"/>
<rect x="170.91" y="158.13" width="1.15" height="1.15" fill="#ff8a1a"/>
<polyline points="42.20,158.30 42.62,158.30 43.20,158.30 43.89,158.29 44.64,158.29 45.39,158.29 46.10,158.30 46.24,158.30 46.77,158.31 47.46,158.33 48.14,158.34 48.83,158.36 49.52,158.38 50.20,158.40 50.28,158.40 50.88,158.42 51.56,158.43 52.23,158.44 52.90,158.46 53.56,158.48 54.20,158.50 54.32,158.50 54.78,158.52 55.30,158.54 55.80,158.57 56.35,158.60 57.00,158.64 57.80,158.70 58.36,158.74 58.78,158.77 59.89,158.86 60.38,158.90 61.11,158.96 62.39,159.06 62.40,159.06 63.69,159.18 64.42,159.25 65.00,159.30 66.34,159.42 66.44,159.43 67.74,159.55 68.46,159.62 69.18,159.69 70.48,159.82 70.61,159.84 72.00,160.01 72.50,160.08 73.30,160.20 74.52,160.40 74.54,160.41 75.74,160.61 76.54,160.77 76.89,160.84 78.00,161.11 78.56,161.28 79.03,161.42 80.00,161.80 80.58,162.11 80.85,162.26 81.59,162.78 82.27,163.35 82.60,163.65 82.93,163.96 83.62,164.58 84.40,165.20 84.62,165.36 85.28,165.84 86.22,166.53 86.64,166.82 87.20,167.22 88.18,167.92 88.66,168.26 89.12,168.58 90.00,169.20 90.68,169.67 90.84,169.77 91.66,170.32 92.45,170.84 92.70,171.00 93.19,171.33 93.84,171.78 94.40,172.20 94.72,172.46 94.83,172.55 95.14,172.81 95.38,173.05 95.58,173.30 95.77,173.60 96.00,174.00 96.26,174.50 96.51,175.07 96.74,175.65 96.76,175.69 97.00,176.36 97.25,177.06 97.50,177.80 97.75,178.54 98.01,179.29 98.27,180.08 98.52,180.94 98.76,181.87 98.77,181.90 99.00,183.00 99.22,184.28 99.43,185.72 99.63,187.27 99.83,188.86 100.02,190.42 100.20,191.90 100.37,193.16 100.54,194.21 100.69,195.24 100.78,195.89 100.85,196.43 101.02,197.95 101.20,200.00 101.40,202.78 101.61,206.19 101.83,209.93 102.05,213.73 102.27,217.28 102.50,220.30 102.73,222.74 102.80,223.43 102.95,224.83 103.18,226.68 103.41,228.39 103.65,230.10 103.90,231.90 104.16,233.91 104.43,236.05 104.70,238.17 104.82,239.04 104.97,240.14 105.24,241.80 105.50,243.00 105.74,243.00 105.98,243.00 106.21,243.00 106.44,243.00 106.67,243.00 106.84,243.00 106.90,243.00 107.13,241.39 107.35,239.14 107.58,236.49 107.80,233.65 108.04,230.84 108.30,228.30 108.58,226.01 108.86,223.95 108.88,223.79 109.19,221.61 109.51,219.43 109.81,217.21 110.10,214.90 110.37,212.44 110.62,209.85 110.87,207.21 110.88,207.09 111.11,204.63 111.35,202.19 111.60,200.00 111.85,198.08 112.10,196.35 112.35,194.77 112.60,193.29 112.85,191.85 112.90,191.56 113.10,190.40 113.34,188.95 113.57,187.54 113.81,186.17 114.05,184.84 114.31,183.55 114.60,182.30 114.92,181.09 114.92,181.08 115.25,179.93 115.61,178.81 115.98,177.72 116.38,176.65 116.80,175.60 116.94,175.27 117.25,174.55 117.71,173.50 118.21,172.47 118.72,171.48 118.96,171.06 119.25,170.55 119.80,169.70 120.31,168.94 120.77,168.27 120.98,167.99 121.24,167.65 121.81,167.07 122.54,166.49 123.00,166.21 123.50,165.90 124.73,165.28 125.02,165.15 126.17,164.65 127.04,164.31 127.77,164.03 129.06,163.58 129.48,163.43 131.08,162.93 131.24,162.88 133.00,162.40 133.10,162.38 134.80,161.99 135.12,161.94 136.70,161.65 137.14,161.58 138.64,161.35 139.16,161.28 140.60,161.09 141.18,161.01 142.54,160.84 143.20,160.75 144.40,160.60 145.22,160.49 146.22,160.37 147.24,160.25 148.02,160.15 149.26,160.02 149.80,159.96 151.28,159.81 151.53,159.78 153.21,159.63 153.30,159.62 154.80,159.50 155.32,159.47 156.29,159.40 157.69,159.34 159.02,159.29 159.36,159.29 160.33,159.26 161.64,159.23 163.00,159.20 163.40,159.19 164.50,159.16 166.13,159.12 167.44,159.09 167.76,159.08 169.29,159.05 170.57,159.02 171.48,159.00 171.50,159.00" fill="none" stroke="#1a1aff" stroke-width="0.75" stroke-linejoin="round"/>
<circle cx="42.20" cy="158.30" r="0.8" fill="#1a1aff"/>
<circle cx="46.24" cy="158.30" r="0.8" fill="#1a1aff"/>
<circle cx="50.28" cy="158.40" r="0.8" fill="#1a1aff"/>
<circle cx="54.32" cy="158.50" r="0.8" fill="#1a1aff"/>
<circle cx="58.36" cy="158.74" r="0.8" fill="#1a1aff"/>
<circle cx="60.38" cy="158.90" r="0.8" fill="#1a1aff"/>
<circle cx="62.40" cy="159.06" r="0.8" fill="#1a1aff"/>
<circle cx="64.42" cy="159.25" r="0.8" fill="#1a1aff"/>
<circle cx="66.44" cy="159.43" r="0.8" fill="#1a1aff"/>
<circle cx="68.46" cy="159.62" r="0.8" fill="#1a1aff"/>
<circle cx="70.48" cy="159.82" r="0.8" fill="#1a1aff"/>
<circle cx="72.50" cy="160.08" r="0.8" fill="#1a1aff"/>
<circle cx="74.52" cy="160.40" r="0.8" fill="#1a1aff"/>
<circle cx="76.54" cy="160.77" r="0.8" fill="#1a1aff"/>
<circle cx="78.56" cy="161.28" r="0.8" fill="#1a1aff"/>
<circle cx="80.58" cy="162.11" r="0.8" fill="#1a1aff"/>
<circle cx="82.60" cy="163.65" r="0.8" fill="#1a1aff"/>
<circle cx="84.62" cy="165.36" r="0.8" fill="#1a1aff"/>
<circle cx="86.64" cy="166.82" r="0.8" fill="#1a1aff"/>
<circle cx="88.66" cy="168.26" r="0.8" fill="#1a1aff"/>
<circle cx="90.68" cy="169.67" r="0.8" fill="#1a1aff"/>
<circle cx="92.70" cy="171.00" r="0.8" fill="#1a1aff"/>
<circle cx="94.72" cy="172.46" r="0.8" fill="#1a1aff"/>
<circle cx="96.74" cy="175.65" r="0.8" fill="#1a1aff"/>
<circle cx="98.76" cy="181.87" r="0.8" fill="#1a1aff"/>
<circle cx="100.78" cy="195.89" r="0.8" fill="#1a1aff"/>
<circle cx="102.80" cy="223.43" r="0.8" fill="#1a1aff"/>
<circle cx="104.82" cy="239.04" r="0.8" fill="#1a1aff"/>
<circle cx="106.84" cy="243.00" r="0.8" fill="#1a1aff"/>
<circle cx="108.86" cy="223.95" r="0.8" fill="#1a1aff"/>
<circle cx="110.88" cy="207.09" r="0.8" fill="#1a1aff"/>
<circle cx="112.90" cy="191.56" r="0.8" fill="#1a1aff"/>
<circle cx="114.92" cy="181.08" r="0.8" fill="#1a1aff"/>
<circle cx="116.94" cy="175.27" r="0.8" fill="#1a1aff"/>
<circle cx="118.96" cy="171.06" r="0.8" fill="#1a1aff"/>
<circle cx="120.98" cy="167.99" r="0.8" fill="#1a1aff"/>
<circle cx="123.00" cy="166.21" r="0.8" fill="#1a1aff"/>
<circle cx="125.02" cy="165.15" r="0.8" fill="#1a1aff"/>
<circle cx="127.04" cy="164.31" r="0.8" fill="#1a1aff"/>
<circle cx="129.06" cy="163.58" r="0.8" fill="#1a1aff"/>
<circle cx="131.08" cy="162.93" r="0.8" fill="#1a1aff"/>
<circle cx="133.10" cy="162.38" r="0.8" fill="#1a1aff"/>
<circle cx="135.12" cy="161.94" r="0.8" fill="#1a1aff"/>
<circle cx="137.14" cy="161.58" r="0.8" fill="#1a1aff"/>
<circle cx="139.16" cy="161.28" r="0.8" fill="#1a1aff"/>
<circle cx="141.18" cy="161.01" r="0.8" fill="#1a1aff"/>
<circle cx="143.20" cy="160.75" r="0.8" fill="#1a1aff"/>
<circle cx="145.22" cy="160.49" r="0.8" fill="#1a1aff"/>
<circle cx="147.24" cy="160.25" r="0.8" fill="#1a1aff"/>
<circle cx="149.26" cy="160.02" r="0.8" fill="#1a1aff"/>
<circle cx="151.28" cy="159.81" r="0.8" fill="#1a1aff"/>
<circle cx="153.30" cy="159.62" r="0.8" fill="#1a1aff"/>
<circle cx="155.32" cy="159.47" r="0.8" fill="#1a1aff"/>
<circle cx="159.36" cy="159.29" r="0.8" fill="#1a1aff"/>
<circle cx="163.40" cy="159.19" r="0.8" fill="#1a1aff"/>
<circle cx="167.44" cy="159.09" r="0.8" fill="#1a1aff"/>
<circle cx="171.48" cy="159.00" r="0.8" fill="#1a1aff"/>
<rect x="135.0" y="182.1" width="34.4" height="19.8" fill="#fff" stroke="#1f1f1f" stroke-width="0.95"/>
<line x1="138.80" y1="187.60" x2="148.20" y2="187.60" stroke="#1a1aff" stroke-width="0.8" stroke-opacity="0.7"/>
<circle cx="143.40" cy="187.60" r="0.9" fill="#1a1aff"/>
<line x1="138.80" y1="196.90" x2="148.20" y2="196.90" stroke="#ff8a1a" stroke-width="0.8" stroke-opacity="0.55"/>
<rect x="142.70" y="196.20" width="1.4" height="1.4" fill="#ff8a1a"/>
<text x="153.40" y="190.10" font-size="7.0" text-anchor="start" fill="#1a1a1a" textLength="12.1" lengthAdjust="spacingAndGlyphs">70%</text>
<text x="153.40" y="199.40" font-size="7.0" text-anchor="start" fill="#1a1a1a" textLength="12.1" lengthAdjust="spacingAndGlyphs">30%</text>
<line x1="231.60" y1="156.80" x2="231.60" y2="244.85" stroke="#1f1f1f" stroke-width="0.95"/>
<line x1="231.15" y1="244.40" x2="288.90" y2="244.40" stroke="#1f1f1f" stroke-width="0.95"/>
<line x1="228.40" y1="244.40" x2="231.60" y2="244.40" stroke="#1f1f1f" stroke-width="0.9"/>
<text x="227.60" y="246.85" font-size="6.6" text-anchor="end" fill="#1a1a1a">0.0</text>
<line x1="228.40" y1="222.60" x2="231.60" y2="222.60" stroke="#1f1f1f" stroke-width="0.9"/>
<text x="227.60" y="225.05" font-size="6.6" text-anchor="end" fill="#1a1a1a">1.0</text>
<line x1="228.40" y1="200.80" x2="231.60" y2="200.80" stroke="#1f1f1f" stroke-width="0.9"/>
<text x="227.60" y="203.25" font-size="6.6" text-anchor="end" fill="#1a1a1a">2.0</text>
<line x1="228.40" y1="179.00" x2="231.60" y2="179.00" stroke="#1f1f1f" stroke-width="0.9"/>
<text x="227.60" y="181.45" font-size="6.6" text-anchor="end" fill="#1a1a1a">3.0</text>
<line x1="228.40" y1="157.20" x2="231.60" y2="157.20" stroke="#1f1f1f" stroke-width="0.9"/>
<text x="227.60" y="159.65" font-size="6.6" text-anchor="end" fill="#1a1a1a">4.0</text>
<line x1="229.90" y1="233.50" x2="231.60" y2="233.50" stroke="#1f1f1f" stroke-width="0.9"/>
<line x1="229.90" y1="211.70" x2="231.60" y2="211.70" stroke="#1f1f1f" stroke-width="0.9"/>
<line x1="229.90" y1="189.90" x2="231.60" y2="189.90" stroke="#1f1f1f" stroke-width="0.9"/>
<line x1="229.90" y1="168.10" x2="231.60" y2="168.10" stroke="#1f1f1f" stroke-width="0.9"/>
<line x1="248.10" y1="161.78" x2="248.10" y2="163.09" stroke="#7070ff" stroke-width="0.9"/>
<line x1="243.70" y1="161.78" x2="252.50" y2="161.78" stroke="#7070ff" stroke-width="0.9"/>
<rect x="240.10" y="163.09" width="16" height="81.31" fill="#0a0aff" stroke="#0000d8" stroke-width="0.5"/>
<line x1="248.10" y1="244.40" x2="248.10" y2="248.40" stroke="#1f1f1f" stroke-width="0.9"/>
<text x="248.10" y="254.50" font-size="6.6" text-anchor="middle" fill="#1a1a1a">70%</text>
<line x1="273.00" y1="181.51" x2="273.00" y2="187.07" stroke="#ffaa5a" stroke-width="0.9"/>
<line x1="268.60" y1="181.51" x2="277.40" y2="181.51" stroke="#ffaa5a" stroke-width="0.9"/>
<rect x="265.00" y="187.07" width="16" height="57.33" fill="#ff7f0e" stroke="#e66a00" stroke-width="0.5"/>
<line x1="273.00" y1="244.40" x2="273.00" y2="248.40" stroke="#1f1f1f" stroke-width="0.9"/>
<text x="273.00" y="254.50" font-size="6.6" text-anchor="middle" fill="#1a1a1a">30%</text>
<polyline points="249.40,160.60 249.40,155.90 273.40,155.90 273.40,160.60" fill="none" stroke="#1f1f1f" stroke-width="0.95"/>
<circle cx="259.50" cy="151.10" r="1.45" fill="#111"/>
<circle cx="263.30" cy="151.10" r="1.45" fill="#111"/>
<text x="260.60" y="265.80" font-size="6.85" font-weight="bold" text-anchor="middle" fill="#1a1a1a">Cholesterol content</text>
<text transform="translate(211.30,201.30) rotate(-90)" font-size="6.85" font-weight="bold" text-anchor="middle" fill="#1a1a1a" textLength="68.2" lengthAdjust="spacingAndGlyphs">CEST @ 2.4 ppm (%)</text>
<text x="192.40" y="151.50" font-size="11.9" font-weight="bold" text-anchor="start" fill="#1a1a1a">(E)</text>
<line x1="331.80" y1="156.80" x2="331.80" y2="244.85" stroke="#1f1f1f" stroke-width="0.95"/>
<line x1="331.35" y1="244.40" x2="389.10" y2="244.40" stroke="#1f1f1f" stroke-width="0.95"/>
<line x1="328.60" y1="244.40" x2="331.80" y2="244.40" stroke="#1f1f1f" stroke-width="0.9"/>
<text x="327.80" y="246.85" font-size="6.6" text-anchor="end" fill="#1a1a1a">0.0</text>
<line x1="328.60" y1="222.60" x2="331.80" y2="222.60" stroke="#1f1f1f" stroke-width="0.9"/>
<text x="327.80" y="225.05" font-size="6.6" text-anchor="end" fill="#1a1a1a">0.5</text>
<line x1="328.60" y1="200.80" x2="331.80" y2="200.80" stroke="#1f1f1f" stroke-width="0.9"/>
<text x="327.80" y="203.25" font-size="6.6" text-anchor="end" fill="#1a1a1a">1.0</text>
<line x1="328.60" y1="179.00" x2="331.80" y2="179.00" stroke="#1f1f1f" stroke-width="0.9"/>
<text x="327.80" y="181.45" font-size="6.6" text-anchor="end" fill="#1a1a1a">1.5</text>
<line x1="328.60" y1="157.20" x2="331.80" y2="157.20" stroke="#1f1f1f" stroke-width="0.9"/>
<text x="327.80" y="159.65" font-size="6.6" text-anchor="end" fill="#1a1a1a">2.0</text>
<line x1="330.10" y1="233.50" x2="331.80" y2="233.50" stroke="#1f1f1f" stroke-width="0.9"/>
<line x1="330.10" y1="211.70" x2="331.80" y2="211.70" stroke="#1f1f1f" stroke-width="0.9"/>
<line x1="330.10" y1="189.90" x2="331.80" y2="189.90" stroke="#1f1f1f" stroke-width="0.9"/>
<line x1="330.10" y1="168.10" x2="331.80" y2="168.10" stroke="#1f1f1f" stroke-width="0.9"/>
<line x1="348.80" y1="172.50" x2="348.80" y2="173.81" stroke="#7070ff" stroke-width="0.9"/>
<line x1="344.40" y1="172.50" x2="353.20" y2="172.50" stroke="#7070ff" stroke-width="0.9"/>
<rect x="340.80" y="173.81" width="16" height="70.59" fill="#0a0aff" stroke="#0000d8" stroke-width="0.5"/>
<line x1="348.80" y1="244.40" x2="348.80" y2="248.40" stroke="#1f1f1f" stroke-width="0.9"/>
<text x="348.80" y="254.50" font-size="6.6" text-anchor="middle" fill="#1a1a1a">70%</text>
<line x1="373.70" y1="195.57" x2="373.70" y2="202.54" stroke="#ffaa5a" stroke-width="0.9"/>
<line x1="369.30" y1="195.57" x2="378.10" y2="195.57" stroke="#ffaa5a" stroke-width="0.9"/>
<rect x="365.70" y="202.54" width="16" height="41.86" fill="#ff7f0e" stroke="#e66a00" stroke-width="0.5"/>
<line x1="373.70" y1="244.40" x2="373.70" y2="248.40" stroke="#1f1f1f" stroke-width="0.9"/>
<text x="373.70" y="254.50" font-size="6.6" text-anchor="middle" fill="#1a1a1a">30%</text>
<polyline points="348.60,164.70 348.60,159.80 375.60,159.80 375.60,164.70" fill="none" stroke="#1f1f1f" stroke-width="0.95"/>
<circle cx="360.20" cy="155.00" r="1.45" fill="#111"/>
<circle cx="364.00" cy="155.00" r="1.45" fill="#111"/>
<text x="360.80" y="265.80" font-size="6.85" font-weight="bold" text-anchor="middle" fill="#1a1a1a">Cholesterol content</text>
<text transform="translate(311.20,201.30) rotate(-90)" font-size="6.85" font-weight="bold" text-anchor="middle" fill="#1a1a1a" textLength="72.9" lengthAdjust="spacingAndGlyphs">CEST @ –3.5 ppm (%)</text>
<text x="294.80" y="151.50" font-size="11.9" font-weight="bold" text-anchor="start" fill="#1a1a1a">(F)</text>
<rect x="429" y="157.3" width="44.7" height="45.5" fill="#0b0b8a"/>
<rect x="441.77" y="161.63" width="2.58" height="2.62" fill="#cfff27"/>
<rect x="443.90" y="161.63" width="2.58" height="2.62" fill="#d9ff1d"/>
<rect x="446.03" y="161.63" width="2.58" height="2.62" fill="#c0ff36"/>
<rect x="448.16" y="161.63" width="2.58" height="2.62" fill="#9aff5b"/>
<rect x="450.29" y="161.63" width="2.58" height="2.62" fill="#ceff28"/>
<rect x="452.41" y="161.63" width="2.58" height="2.62" fill="#b9ff3d"/>
<rect x="454.54" y="161.63" width="2.58" height="2.62" fill="#e2ff13"/>
<rect x="456.67" y="161.63" width="2.58" height="2.62" fill="#e7ff0f"/>
<rect x="458.80" y="161.63" width="2.58" height="2.62" fill="#d1ff25"/>
<rect x="439.64" y="163.80" width="2.58" height="2.62" fill="#e3ff13"/>
<rect x="441.77" y="163.80" width="2.58" height="2.62" fill="#e1ff15"/>
<rect x="443.90" y="163.80" width="2.58" height="2.62" fill="#ffda00"/>
<rect x="446.03" y="163.80" width="2.58" height="2.62" fill="#eeff08"/>
<rect x="448.16" y="163.80" width="2.58" height="2.62" fill="#e2ff14"/>
<rect x="450.29" y="163.80" width="2.58" height="2.62" fill="#d0ff26"/>
<rect x="452.41" y="163.80" width="2.58" height="2.62" fill="#ffd500"/>
<rect x="454.54" y="163.80" width="2.58" height="2.62" fill="#f3f903"/>
<rect x="456.67" y="163.80" width="2.58" height="2.62" fill="#dbff1b"/>
<rect x="458.80" y="163.80" width="2.58" height="2.62" fill="#f1fb04"/>
<rect x="460.93" y="163.80" width="2.58" height="2.62" fill="#d6ff20"/>
<rect x="463.06" y="163.80" width="2.58" height="2.62" fill="#8bff6a"/>
<rect x="435.39" y="165.97" width="2.58" height="2.62" fill="#c8ff2d"/>
<rect x="437.51" y="165.97" width="2.58" height="2.62" fill="#f0fd06"/>
<rect x="439.64" y="165.97" width="2.58" height="2.62" fill="#b5ff41"/>
<rect x="441.77" y="165.97" width="2.58" height="2.62" fill="#ffbf00"/>
<rect x="443.90" y="165.97" width="2.58" height="2.62" fill="#ffca00"/>
<rect x="446.03" y="165.97" width="2.58" height="2.62" fill="#ffae00"/>
<rect x="448.16" y="165.97" width="2.58" height="2.62" fill="#ffd100"/>
<rect x="450.29" y="165.97" width="2.58" height="2.62" fill="#ff9e00"/>
<rect x="452.41" y="165.97" width="2.58" height="2.62" fill="#ffdb00"/>
<rect x="454.54" y="165.97" width="2.58" height="2.62" fill="#f9f200"/>
<rect x="456.67" y="165.97" width="2.58" height="2.62" fill="#faf000"/>
<rect x="458.80" y="165.97" width="2.58" height="2.62" fill="#ffbe00"/>
<rect x="460.93" y="165.97" width="2.58" height="2.62" fill="#d8ff1e"/>
<rect x="463.06" y="165.97" width="2.58" height="2.62" fill="#ffeb00"/>
<rect x="465.19" y="165.97" width="2.58" height="2.62" fill="#c3ff33"/>
<rect x="433.26" y="168.13" width="2.58" height="2.62" fill="#b7ff3e"/>
<rect x="435.39" y="168.13" width="2.58" height="2.62" fill="#8eff68"/>
<rect x="437.51" y="168.13" width="2.58" height="2.62" fill="#feed00"/>
<rect x="439.64" y="168.13" width="2.58" height="2.62" fill="#ffc000"/>
<rect x="441.77" y="168.13" width="2.58" height="2.62" fill="#ffc100"/>
<rect x="443.90" y="168.13" width="2.58" height="2.62" fill="#ff6a00"/>
<rect x="446.03" y="168.13" width="2.58" height="2.62" fill="#ffa800"/>
<rect x="448.16" y="168.13" width="2.58" height="2.62" fill="#ffac00"/>
<rect x="450.29" y="168.13" width="2.58" height="2.62" fill="#ffaa00"/>
<rect x="452.41" y="168.13" width="2.58" height="2.62" fill="#ffa100"/>
<rect x="454.54" y="168.13" width="2.58" height="2.62" fill="#ff9f00"/>
<rect x="456.67" y="168.13" width="2.58" height="2.62" fill="#ff8700"/>
<rect x="458.80" y="168.13" width="2.58" height="2.62" fill="#ffb100"/>
<rect x="460.93" y="168.13" width="2.58" height="2.62" fill="#9bff5b"/>
<rect x="463.06" y="168.13" width="2.58" height="2.62" fill="#eaff0c"/>
<rect x="465.19" y="168.13" width="2.58" height="2.62" fill="#cdff29"/>
<rect x="467.31" y="168.13" width="2.58" height="2.62" fill="#87ff6f"/>
<rect x="433.26" y="170.30" width="2.58" height="2.62" fill="#ff4b00"/>
<rect x="435.39" y="170.30" width="2.58" height="2.62" fill="#ffc800"/>
<rect x="437.51" y="170.30" width="2.58" height="2.62" fill="#ffbe00"/>
<rect x="439.64" y="170.30" width="2.58" height="2.62" fill="#ff4500"/>
<rect x="441.77" y="170.30" width="2.58" height="2.62" fill="#ff8400"/>
<rect x="443.90" y="170.30" width="2.58" height="2.62" fill="#ff8000"/>
<rect x="446.03" y="170.30" width="2.58" height="2.62" fill="#ff8200"/>
<rect x="448.16" y="170.30" width="2.58" height="2.62" fill="#ffa200"/>
<rect x="450.29" y="170.30" width="2.58" height="2.62" fill="#ffac00"/>
<rect x="452.41" y="170.30" width="2.58" height="2.62" fill="#ffac00"/>
<rect x="454.54" y="170.30" width="2.58" height="2.62" fill="#ff8c00"/>
<rect x="456.67" y="170.30" width="2.58" height="2.62" fill="#ff7600"/>
<rect x="458.80" y="170.30" width="2.58" height="2.62" fill="#ff5400"/>
<rect x="460.93" y="170.30" width="2.58" height="2.62" fill="#ff7000"/>
<rect x="463.06" y="170.30" width="2.58" height="2.62" fill="#ff4e00"/>
<rect x="465.19" y="170.30" width="2.58" height="2.62" fill="#ffd800"/>
<rect x="467.31" y="170.30" width="2.58" height="2.62" fill="#ffb700"/>
<rect x="469.44" y="170.30" width="2.58" height="2.62" fill="#e3ff13"/>
<rect x="431.13" y="172.47" width="2.58" height="2.62" fill="#ff4b00"/>
<rect x="433.26" y="172.47" width="2.58" height="2.62" fill="#ff4b00"/>
<rect x="435.39" y="172.47" width="2.58" height="2.62" fill="#ffe200"/>
<rect x="437.51" y="172.47" width="2.58" height="2.62" fill="#ff5200"/>
<rect x="439.64" y="172.47" width="2.58" height="2.62" fill="#ff7800"/>
<rect x="441.77" y="172.47" width="2.58" height="2.62" fill="#ff8500"/>
<rect x="443.90" y="172.47" width="2.58" height="2.62" fill="#ff7c00"/>
<rect x="446.03" y="172.47" width="2.58" height="2.62" fill="#ff8500"/>
<rect x="448.16" y="172.47" width="2.58" height="2.62" fill="#ff8200"/>
<rect x="450.29" y="172.47" width="2.58" height="2.62" fill="#ff9e00"/>
<rect x="452.41" y="172.47" width="2.58" height="2.62" fill="#ffb100"/>
<rect x="454.54" y="172.47" width="2.58" height="2.62" fill="#ff9400"/>
<rect x="456.67" y="172.47" width="2.58" height="2.62" fill="#ff7000"/>
<rect x="458.80" y="172.47" width="2.58" height="2.62" fill="#ff8700"/>
<rect x="460.93" y="172.47" width="2.58" height="2.62" fill="#ff8f00"/>
<rect x="463.06" y="172.47" width="2.58" height="2.62" fill="#ffa400"/>
<rect x="465.19" y="172.47" width="2.58" height="2.62" fill="#ffb700"/>
<rect x="467.31" y="172.47" width="2.58" height="2.62" fill="#ffd700"/>
<rect x="469.44" y="172.47" width="2.58" height="2.62" fill="#ffeb00"/>
<rect x="431.13" y="174.63" width="2.58" height="2.62" fill="#ff4b00"/>
<rect x="433.26" y="174.63" width="2.58" height="2.62" fill="#ffcd00"/>
<rect x="435.39" y="174.63" width="2.58" height="2.62" fill="#ff9400"/>
<rect x="437.51" y="174.63" width="2.58" height="2.62" fill="#ffcb00"/>
<rect x="439.64" y="174.63" width="2.58" height="2.62" fill="#ff5b00"/>
<rect x="441.77" y="174.63" width="2.58" height="2.62" fill="#ff8500"/>
<rect x="443.90" y="174.63" width="2.58" height="2.62" fill="#ffb500"/>
<rect x="446.03" y="174.63" width="2.58" height="2.62" fill="#ff7400"/>
<rect x="448.16" y="174.63" width="2.58" height="2.62" fill="#ff8500"/>
<rect x="450.29" y="174.63" width="2.58" height="2.62" fill="#ff5900"/>
<rect x="452.41" y="174.63" width="2.58" height="2.62" fill="#ff7e00"/>
<rect x="454.54" y="174.63" width="2.58" height="2.62" fill="#ff8e00"/>
<rect x="456.67" y="174.63" width="2.58" height="2.62" fill="#ff9900"/>
<rect x="458.80" y="174.63" width="2.58" height="2.62" fill="#ffac00"/>
<rect x="460.93" y="174.63" width="2.58" height="2.62" fill="#ff9700"/>
<rect x="463.06" y="174.63" width="2.58" height="2.62" fill="#ffad00"/>
<rect x="465.19" y="174.63" width="2.58" height="2.62" fill="#ff8900"/>
<rect x="467.31" y="174.63" width="2.58" height="2.62" fill="#ffc300"/>
<rect x="469.44" y="174.63" width="2.58" height="2.62" fill="#ffb200"/>
<rect x="431.13" y="176.80" width="2.58" height="2.62" fill="#ff4b00"/>
<rect x="433.26" y="176.80" width="2.58" height="2.62" fill="#81ff75"/>
<rect x="435.39" y="176.80" width="2.58" height="2.62" fill="#ffb900"/>
<rect x="437.51" y="176.80" width="2.58" height="2.62" fill="#ff9400"/>
<rect x="439.64" y="176.80" width="2.58" height="2.62" fill="#ffbb00"/>
<rect x="441.77" y="176.80" width="2.58" height="2.62" fill="#ff6f00"/>
<rect x="443.90" y="176.80" width="2.58" height="2.62" fill="#ff3f00"/>
<rect x="446.03" y="176.80" width="2.58" height="2.62" fill="#ff6400"/>
<rect x="448.16" y="176.80" width="2.58" height="2.62" fill="#ff8f00"/>
<rect x="450.29" y="176.80" width="2.58" height="2.62" fill="#ff8800"/>
<rect x="452.41" y="176.80" width="2.58" height="2.62" fill="#ff8100"/>
<rect x="454.54" y="176.80" width="2.58" height="2.62" fill="#ff8000"/>
<rect x="456.67" y="176.80" width="2.58" height="2.62" fill="#ff9700"/>
<rect x="458.80" y="176.80" width="2.58" height="2.62" fill="#ff8b00"/>
<rect x="460.93" y="176.80" width="2.58" height="2.62" fill="#ff9e00"/>
<rect x="463.06" y="176.80" width="2.58" height="2.62" fill="#ff6900"/>
<rect x="465.19" y="176.80" width="2.58" height="2.62" fill="#ff8d00"/>
<rect x="467.31" y="176.80" width="2.58" height="2.62" fill="#ff9e00"/>
<rect x="469.44" y="176.80" width="2.58" height="2.62" fill="#b2ff44"/>
<rect x="471.57" y="176.80" width="2.58" height="2.62" fill="#ffc300"/>
<rect x="431.13" y="178.97" width="2.58" height="2.62" fill="#8fff67"/>
<rect x="433.26" y="178.97" width="2.58" height="2.62" fill="#ffb400"/>
<rect x="435.39" y="178.97" width="2.58" height="2.62" fill="#ffa900"/>
<rect x="437.51" y="178.97" width="2.58" height="2.62" fill="#ff9d00"/>
<rect x="439.64" y="178.97" width="2.58" height="2.62" fill="#ff8700"/>
<rect x="441.77" y="178.97" width="2.58" height="2.62" fill="#ff5600"/>
<rect x="443.90" y="178.97" width="2.58" height="2.62" fill="#ff6f00"/>
<rect x="446.03" y="178.97" width="2.58" height="2.62" fill="#ff1e00"/>
<rect x="448.16" y="178.97" width="2.58" height="2.62" fill="#ff6500"/>
<rect x="450.29" y="178.97" width="2.58" height="2.62" fill="#ff6700"/>
<rect x="452.41" y="178.97" width="2.58" height="2.62" fill="#ff6000"/>
<rect x="454.54" y="178.97" width="2.58" height="2.62" fill="#ff9100"/>
<rect x="456.67" y="178.97" width="2.58" height="2.62" fill="#ff9200"/>
<rect x="458.80" y="178.97" width="2.58" height="2.62" fill="#ff9700"/>
<rect x="460.93" y="178.97" width="2.58" height="2.62" fill="#ff9000"/>
<rect x="463.06" y="178.97" width="2.58" height="2.62" fill="#ff2700"/>
<rect x="465.19" y="178.97" width="2.58" height="2.62" fill="#ff9100"/>
<rect x="467.31" y="178.97" width="2.58" height="2.62" fill="#ffbc00"/>
<rect x="469.44" y="178.97" width="2.58" height="2.62" fill="#ffb300"/>
<rect x="471.57" y="178.97" width="2.58" height="2.62" fill="#ffb600"/>
<rect x="431.13" y="181.13" width="2.58" height="2.62" fill="#ff4b00"/>
<rect x="433.26" y="181.13" width="2.58" height="2.62" fill="#ffa100"/>
<rect x="435.39" y="181.13" width="2.58" height="2.62" fill="#ff7f00"/>
<rect x="437.51" y="181.13" width="2.58" height="2.62" fill="#ffa700"/>
<rect x="439.64" y="181.13" width="2.58" height="2.62" fill="#ffaa00"/>
<rect x="441.77" y="181.13" width="2.58" height="2.62" fill="#ff7000"/>
<rect x="443.90" y="181.13" width="2.58" height="2.62" fill="#ff4c00"/>
<rect x="446.03" y="181.13" width="2.58" height="2.62" fill="#ff6200"/>
<rect x="448.16" y="181.13" width="2.58" height="2.62" fill="#ff3b00"/>
<rect x="450.29" y="181.13" width="2.58" height="2.62" fill="#ff5200"/>
<rect x="452.41" y="181.13" width="2.58" height="2.62" fill="#ff5600"/>
<rect x="454.54" y="181.13" width="2.58" height="2.62" fill="#ff4800"/>
<rect x="456.67" y="181.13" width="2.58" height="2.62" fill="#ff7000"/>
<rect x="458.80" y="181.13" width="2.58" height="2.62" fill="#ffa900"/>
<rect x="460.93" y="181.13" width="2.58" height="2.62" fill="#ffb000"/>
<rect x="463.06" y="181.13" width="2.58" height="2.62" fill="#ff7400"/>
<rect x="465.19" y="181.13" width="2.58" height="2.62" fill="#ff9300"/>
<rect x="467.31" y="181.13" width="2.58" height="2.62" fill="#ffd000"/>
<rect x="469.44" y="181.13" width="2.58" height="2.62" fill="#ffdc00"/>
<rect x="471.57" y="181.13" width="2.58" height="2.62" fill="#e7ff0f"/>
<rect x="431.13" y="183.30" width="2.58" height="2.62" fill="#ffd800"/>
<rect x="433.26" y="183.30" width="2.58" height="2.62" fill="#8fff67"/>
<rect x="435.39" y="183.30" width="2.58" height="2.62" fill="#ffc400"/>
<rect x="437.51" y="183.30" width="2.58" height="2.62" fill="#ffa000"/>
<rect x="439.64" y="183.30" width="2.58" height="2.62" fill="#ff9500"/>
<rect x="441.77" y="183.30" width="2.58" height="2.62" fill="#ff6e00"/>
<rect x="443.90" y="183.30" width="2.58" height="2.62" fill="#ff7800"/>
<rect x="446.03" y="183.30" width="2.58" height="2.62" fill="#ff9600"/>
<rect x="448.16" y="183.30" width="2.58" height="2.62" fill="#ff4500"/>
<rect x="450.29" y="183.30" width="2.58" height="2.62" fill="#ffab00"/>
<rect x="452.41" y="183.30" width="2.58" height="2.62" fill="#ff5e00"/>
<rect x="454.54" y="183.30" width="2.58" height="2.62" fill="#ff4300"/>
<rect x="456.67" y="183.30" width="2.58" height="2.62" fill="#ff4800"/>
<rect x="458.80" y="183.30" width="2.58" height="2.62" fill="#ff8700"/>
<rect x="460.93" y="183.30" width="2.58" height="2.62" fill="#ffb400"/>
<rect x="463.06" y="183.30" width="2.58" height="2.62" fill="#ff8300"/>
<rect x="465.19" y="183.30" width="2.58" height="2.62" fill="#ffa300"/>
<rect x="467.31" y="183.30" width="2.58" height="2.62" fill="#ff8d00"/>
<rect x="469.44" y="183.30" width="2.58" height="2.62" fill="#f5f701"/>
<rect x="431.13" y="185.47" width="2.58" height="2.62" fill="#d4ff22"/>
<rect x="433.26" y="185.47" width="2.58" height="2.62" fill="#ffe000"/>
<rect x="435.39" y="185.47" width="2.58" height="2.62" fill="#ff9600"/>
<rect x="437.51" y="185.47" width="2.58" height="2.62" fill="#ff7f00"/>
<rect x="439.64" y="185.47" width="2.58" height="2.62" fill="#ff4f00"/>
<rect x="441.77" y="185.47" width="2.58" height="2.62" fill="#ffb600"/>
<rect x="443.90" y="185.47" width="2.58" height="2.62" fill="#ff9900"/>
<rect x="446.03" y="185.47" width="2.58" height="2.62" fill="#ffc400"/>
<rect x="448.16" y="185.47" width="2.58" height="2.62" fill="#ff8200"/>
<rect x="450.29" y="185.47" width="2.58" height="2.62" fill="#ff6f00"/>
<rect x="452.41" y="185.47" width="2.58" height="2.62" fill="#ff5300"/>
<rect x="454.54" y="185.47" width="2.58" height="2.62" fill="#ff4700"/>
<rect x="456.67" y="185.47" width="2.58" height="2.62" fill="#ff6f00"/>
<rect x="458.80" y="185.47" width="2.58" height="2.62" fill="#ff9e00"/>
<rect x="460.93" y="185.47" width="2.58" height="2.62" fill="#ff5200"/>
<rect x="463.06" y="185.47" width="2.58" height="2.62" fill="#ff8b00"/>
<rect x="465.19" y="185.47" width="2.58" height="2.62" fill="#ffac00"/>
<rect x="467.31" y="185.47" width="2.58" height="2.62" fill="#f3f802"/>
<rect x="469.44" y="185.47" width="2.58" height="2.62" fill="#f7f400"/>
<rect x="433.26" y="187.63" width="2.58" height="2.62" fill="#ff4b00"/>
<rect x="435.39" y="187.63" width="2.58" height="2.62" fill="#ffd100"/>
<rect x="437.51" y="187.63" width="2.58" height="2.62" fill="#ffa300"/>
<rect x="439.64" y="187.63" width="2.58" height="2.62" fill="#ff8400"/>
<rect x="441.77" y="187.63" width="2.58" height="2.62" fill="#ff7700"/>
<rect x="443.90" y="187.63" width="2.58" height="2.62" fill="#ff8100"/>
<rect x="446.03" y="187.63" width="2.58" height="2.62" fill="#ff9200"/>
<rect x="448.16" y="187.63" width="2.58" height="2.62" fill="#ff8b00"/>
<rect x="450.29" y="187.63" width="2.58" height="2.62" fill="#ffb600"/>
<rect x="452.41" y="187.63" width="2.58" height="2.62" fill="#ffba00"/>
<rect x="454.54" y="187.63" width="2.58" height="2.62" fill="#ff7700"/>
<rect x="456.67" y="187.63" width="2.58" height="2.62" fill="#ff7e00"/>
<rect x="458.80" y="187.63" width="2.58" height="2.62" fill="#ff8600"/>
<rect x="460.93" y="187.63" width="2.58" height="2.62" fill="#ffc300"/>
<rect x="463.06" y="187.63" width="2.58" height="2.62" fill="#ffb300"/>
<rect x="465.19" y="187.63" width="2.58" height="2.62" fill="#f3f903"/>
<rect x="467.31" y="187.63" width="2.58" height="2.62" fill="#ffd600"/>
<rect x="435.39" y="189.80" width="2.58" height="2.62" fill="#fded00"/>
<rect x="437.51" y="189.80" width="2.58" height="2.62" fill="#ffa900"/>
<rect x="439.64" y="189.80" width="2.58" height="2.62" fill="#ffc000"/>
<rect x="441.77" y="189.80" width="2.58" height="2.62" fill="#ff9600"/>
<rect x="443.90" y="189.80" width="2.58" height="2.62" fill="#ff8a00"/>
<rect x="446.03" y="189.80" width="2.58" height="2.62" fill="#ffa300"/>
<rect x="448.16" y="189.80" width="2.58" height="2.62" fill="#ff7800"/>
<rect x="450.29" y="189.80" width="2.58" height="2.62" fill="#ff9000"/>
<rect x="452.41" y="189.80" width="2.58" height="2.62" fill="#ff8f00"/>
<rect x="454.54" y="189.80" width="2.58" height="2.62" fill="#ff9a00"/>
<rect x="456.67" y="189.80" width="2.58" height="2.62" fill="#ff6d00"/>
<rect x="458.80" y="189.80" width="2.58" height="2.62" fill="#ffc600"/>
<rect x="460.93" y="189.80" width="2.58" height="2.62" fill="#ffae00"/>
<rect x="463.06" y="189.80" width="2.58" height="2.62" fill="#ff9300"/>
<rect x="465.19" y="189.80" width="2.58" height="2.62" fill="#ffda00"/>
<rect x="467.31" y="189.80" width="2.58" height="2.62" fill="#cfff27"/>
<rect x="437.51" y="191.97" width="2.58" height="2.62" fill="#ff8e00"/>
<rect x="439.64" y="191.97" width="2.58" height="2.62" fill="#ffe000"/>
<rect x="441.77" y="191.97" width="2.58" height="2.62" fill="#ffaa00"/>
<rect x="443.90" y="191.97" width="2.58" height="2.62" fill="#ff9d00"/>
<rect x="446.03" y="191.97" width="2.58" height="2.62" fill="#ff7e00"/>
<rect x="448.16" y="191.97" width="2.58" height="2.62" fill="#ff8b00"/>
<rect x="450.29" y="191.97" width="2.58" height="2.62" fill="#ff9a00"/>
<rect x="452.41" y="191.97" width="2.58" height="2.62" fill="#ff8200"/>
<rect x="454.54" y="191.97" width="2.58" height="2.62" fill="#ff2f00"/>
<rect x="456.67" y="191.97" width="2.58" height="2.62" fill="#ff7500"/>
<rect x="458.80" y="191.97" width="2.58" height="2.62" fill="#ff9100"/>
<rect x="460.93" y="191.97" width="2.58" height="2.62" fill="#ff6900"/>
<rect x="463.06" y="191.97" width="2.58" height="2.62" fill="#ffb600"/>
<rect x="465.19" y="191.97" width="2.58" height="2.62" fill="#e3ff13"/>
<rect x="439.64" y="194.13" width="2.58" height="2.62" fill="#e6ff10"/>
<rect x="441.77" y="194.13" width="2.58" height="2.62" fill="#ffc800"/>
<rect x="443.90" y="194.13" width="2.58" height="2.62" fill="#ffcc00"/>
<rect x="446.03" y="194.13" width="2.58" height="2.62" fill="#ffd900"/>
<rect x="448.16" y="194.13" width="2.58" height="2.62" fill="#ff7d00"/>
<rect x="450.29" y="194.13" width="2.58" height="2.62" fill="#ff6300"/>
<rect x="452.41" y="194.13" width="2.58" height="2.62" fill="#ff9f00"/>
<rect x="454.54" y="194.13" width="2.58" height="2.62" fill="#ffb400"/>
<rect x="456.67" y="194.13" width="2.58" height="2.62" fill="#8bff6b"/>
<rect x="458.80" y="194.13" width="2.58" height="2.62" fill="#ff7700"/>
<rect x="460.93" y="194.13" width="2.58" height="2.62" fill="#ffa100"/>
<rect x="443.90" y="196.30" width="2.58" height="2.62" fill="#effd06"/>
<rect x="446.03" y="196.30" width="2.58" height="2.62" fill="#ffdd00"/>
<rect x="448.16" y="196.30" width="2.58" height="2.62" fill="#ffc300"/>
<rect x="450.29" y="196.30" width="2.58" height="2.62" fill="#ffd000"/>
<rect x="452.41" y="196.30" width="2.58" height="2.62" fill="#ffc700"/>
<rect x="454.54" y="196.30" width="2.58" height="2.62" fill="#ffa500"/>
<rect x="456.67" y="196.30" width="2.58" height="2.62" fill="#e1ff15"/>
<rect x="476.1" y="157.3" width="44.8" height="45.5" fill="#0b0b8a"/>
<rect x="491.03" y="163.80" width="2.58" height="2.62" fill="#d50000"/>
<rect x="493.17" y="163.80" width="2.58" height="2.62" fill="#e20000"/>
<rect x="495.30" y="163.80" width="2.58" height="2.62" fill="#d30000"/>
<rect x="497.43" y="163.80" width="2.58" height="2.62" fill="#e30000"/>
<rect x="499.57" y="163.80" width="2.58" height="2.62" fill="#fb0f00"/>
<rect x="501.70" y="163.80" width="2.58" height="2.62" fill="#e30000"/>
<rect x="503.83" y="163.80" width="2.58" height="2.62" fill="#f70d00"/>
<rect x="486.77" y="165.97" width="2.58" height="2.62" fill="#e50000"/>
<rect x="488.90" y="165.97" width="2.58" height="2.62" fill="#ee0500"/>
<rect x="491.03" y="165.97" width="2.58" height="2.62" fill="#ec0300"/>
<rect x="493.17" y="165.97" width="2.58" height="2.62" fill="#df0000"/>
<rect x="495.30" y="165.97" width="2.58" height="2.62" fill="#e90100"/>
<rect x="497.43" y="165.97" width="2.58" height="2.62" fill="#f20800"/>
<rect x="499.57" y="165.97" width="2.58" height="2.62" fill="#c90000"/>
<rect x="501.70" y="165.97" width="2.58" height="2.62" fill="#ed0400"/>
<rect x="503.83" y="165.97" width="2.58" height="2.62" fill="#ff1600"/>
<rect x="505.97" y="165.97" width="2.58" height="2.62" fill="#f60b00"/>
<rect x="508.10" y="165.97" width="2.58" height="2.62" fill="#f40a00"/>
<rect x="484.63" y="168.13" width="2.58" height="2.62" fill="#f70c00"/>
<rect x="486.77" y="168.13" width="2.58" height="2.62" fill="#f70d00"/>
<rect x="488.90" y="168.13" width="2.58" height="2.62" fill="#e90100"/>
<rect x="491.03" y="168.13" width="2.58" height="2.62" fill="#f10700"/>
<rect x="493.17" y="168.13" width="2.58" height="2.62" fill="#d80000"/>
<rect x="495.30" y="168.13" width="2.58" height="2.62" fill="#df0000"/>
<rect x="497.43" y="168.13" width="2.58" height="2.62" fill="#e70000"/>
<rect x="499.57" y="168.13" width="2.58" height="2.62" fill="#fd1100"/>
<rect x="501.70" y="168.13" width="2.58" height="2.62" fill="#ff1900"/>
<rect x="503.83" y="168.13" width="2.58" height="2.62" fill="#ff1600"/>
<rect x="505.97" y="168.13" width="2.58" height="2.62" fill="#fc1000"/>
<rect x="508.10" y="168.13" width="2.58" height="2.62" fill="#f40a00"/>
<rect x="510.23" y="168.13" width="2.58" height="2.62" fill="#ba0000"/>
<rect x="482.50" y="170.30" width="2.58" height="2.62" fill="#f90e00"/>
<rect x="484.63" y="170.30" width="2.58" height="2.62" fill="#9a0000"/>
<rect x="486.77" y="170.30" width="2.58" height="2.62" fill="#9d0000"/>
<rect x="488.90" y="170.30" width="2.58" height="2.62" fill="#9e0000"/>
<rect x="491.03" y="170.30" width="2.58" height="2.62" fill="#9d0000"/>
<rect x="493.17" y="170.30" width="2.58" height="2.62" fill="#e10000"/>
<rect x="495.30" y="170.30" width="2.58" height="2.62" fill="#980000"/>
<rect x="497.43" y="170.30" width="2.58" height="2.62" fill="#e70000"/>
<rect x="499.57" y="170.30" width="2.58" height="2.62" fill="#e80000"/>
<rect x="501.70" y="170.30" width="2.58" height="2.62" fill="#fb0f00"/>
<rect x="503.83" y="170.30" width="2.58" height="2.62" fill="#ea0200"/>
<rect x="505.97" y="170.30" width="2.58" height="2.62" fill="#db0000"/>
<rect x="508.10" y="170.30" width="2.58" height="2.62" fill="#f10700"/>
<rect x="510.23" y="170.30" width="2.58" height="2.62" fill="#dd0000"/>
<rect x="512.37" y="170.30" width="2.58" height="2.62" fill="#e50000"/>
<rect x="480.37" y="172.47" width="2.58" height="2.62" fill="#e60000"/>
<rect x="482.50" y="172.47" width="2.58" height="2.62" fill="#e30000"/>
<rect x="484.63" y="172.47" width="2.58" height="2.62" fill="#a50000"/>
<rect x="486.77" y="172.47" width="2.58" height="2.62" fill="#990000"/>
<rect x="488.90" y="172.47" width="2.58" height="2.62" fill="#b10000"/>
<rect x="491.03" y="172.47" width="2.58" height="2.62" fill="#ea0200"/>
<rect x="493.17" y="172.47" width="2.58" height="2.62" fill="#f60c00"/>
<rect x="495.30" y="172.47" width="2.58" height="2.62" fill="#b30000"/>
<rect x="497.43" y="172.47" width="2.58" height="2.62" fill="#de0000"/>
<rect x="499.57" y="172.47" width="2.58" height="2.62" fill="#e90100"/>
<rect x="501.70" y="172.47" width="2.58" height="2.62" fill="#ed0400"/>
<rect x="503.83" y="172.47" width="2.58" height="2.62" fill="#e90100"/>
<rect x="505.97" y="172.47" width="2.58" height="2.62" fill="#d00000"/>
<rect x="508.10" y="172.47" width="2.58" height="2.62" fill="#e40000"/>
<rect x="510.23" y="172.47" width="2.58" height="2.62" fill="#d50000"/>
<rect x="512.37" y="172.47" width="2.58" height="2.62" fill="#e90100"/>
<rect x="514.50" y="172.47" width="2.58" height="2.62" fill="#df0000"/>
<rect x="480.37" y="174.63" width="2.58" height="2.62" fill="#e40000"/>
<rect x="482.50" y="174.63" width="2.58" height="2.62" fill="#ed0400"/>
<rect x="484.63" y="174.63" width="2.58" height="2.62" fill="#980000"/>
<rect x="486.77" y="174.63" width="2.58" height="2.62" fill="#9c0000"/>
<rect x="488.90" y="174.63" width="2.58" height="2.62" fill="#f90e00"/>
<rect x="491.03" y="174.63" width="2.58" height="2.62" fill="#ff1500"/>
<rect x="493.17" y="174.63" width="2.58" height="2.62" fill="#df0000"/>
<rect x="495.30" y="174.63" width="2.58" height="2.62" fill="#b70000"/>
<rect x="497.43" y="174.63" width="2.58" height="2.62" fill="#cf0000"/>
<rect x="499.57" y="174.63" width="2.58" height="2.62" fill="#ec0300"/>
<rect x="501.70" y="174.63" width="2.58" height="2.62" fill="#f10700"/>
<rect x="503.83" y="174.63" width="2.58" height="2.62" fill="#f60b00"/>
<rect x="505.97" y="174.63" width="2.58" height="2.62" fill="#cd0000"/>
<rect x="508.10" y="174.63" width="2.58" height="2.62" fill="#dd0000"/>
<rect x="510.23" y="174.63" width="2.58" height="2.62" fill="#e10000"/>
<rect x="512.37" y="174.63" width="2.58" height="2.62" fill="#ff5b00"/>
<rect x="514.50" y="174.63" width="2.58" height="2.62" fill="#ff6500"/>
<rect x="478.23" y="176.80" width="2.58" height="2.62" fill="#e90100"/>
<rect x="480.37" y="176.80" width="2.58" height="2.62" fill="#fe1200"/>
<rect x="482.50" y="176.80" width="2.58" height="2.62" fill="#fd1100"/>
<rect x="484.63" y="176.80" width="2.58" height="2.62" fill="#980000"/>
<rect x="486.77" y="176.80" width="2.58" height="2.62" fill="#b80000"/>
<rect x="488.90" y="176.80" width="2.58" height="2.62" fill="#fd1100"/>
<rect x="491.03" y="176.80" width="2.58" height="2.62" fill="#ff1900"/>
<rect x="493.17" y="176.80" width="2.58" height="2.62" fill="#df0000"/>
<rect x="495.30" y="176.80" width="2.58" height="2.62" fill="#a10000"/>
<rect x="497.43" y="176.80" width="2.58" height="2.62" fill="#eb0300"/>
<rect x="499.57" y="176.80" width="2.58" height="2.62" fill="#f40900"/>
<rect x="501.70" y="176.80" width="2.58" height="2.62" fill="#ff1600"/>
<rect x="503.83" y="176.80" width="2.58" height="2.62" fill="#f90e00"/>
<rect x="505.97" y="176.80" width="2.58" height="2.62" fill="#fb1000"/>
<rect x="508.10" y="176.80" width="2.58" height="2.62" fill="#e70000"/>
<rect x="510.23" y="176.80" width="2.58" height="2.62" fill="#eb0200"/>
<rect x="512.37" y="176.80" width="2.58" height="2.62" fill="#ff7a00"/>
<rect x="514.50" y="176.80" width="2.58" height="2.62" fill="#ff7400"/>
<rect x="516.63" y="176.80" width="2.58" height="2.62" fill="#f80d00"/>
<rect x="478.23" y="178.97" width="2.58" height="2.62" fill="#e30000"/>
<rect x="480.37" y="178.97" width="2.58" height="2.62" fill="#ff1900"/>
<rect x="482.50" y="178.97" width="2.58" height="2.62" fill="#f80d00"/>
<rect x="484.63" y="178.97" width="2.58" height="2.62" fill="#fd1100"/>
<rect x="486.77" y="178.97" width="2.58" height="2.62" fill="#e40000"/>
<rect x="488.90" y="178.97" width="2.58" height="2.62" fill="#ff1600"/>
<rect x="491.03" y="178.97" width="2.58" height="2.62" fill="#fe1200"/>
<rect x="493.17" y="178.97" width="2.58" height="2.62" fill="#de0000"/>
<rect x="495.30" y="178.97" width="2.58" height="2.62" fill="#ef0600"/>
<rect x="497.43" y="178.97" width="2.58" height="2.62" fill="#e40000"/>
<rect x="499.57" y="178.97" width="2.58" height="2.62" fill="#e40000"/>
<rect x="501.70" y="178.97" width="2.58" height="2.62" fill="#f10800"/>
<rect x="503.83" y="178.97" width="2.58" height="2.62" fill="#fb0f00"/>
<rect x="505.97" y="178.97" width="2.58" height="2.62" fill="#e50000"/>
<rect x="508.10" y="178.97" width="2.58" height="2.62" fill="#cf0000"/>
<rect x="510.23" y="178.97" width="2.58" height="2.62" fill="#ef0600"/>
<rect x="512.37" y="178.97" width="2.58" height="2.62" fill="#ff8c00"/>
<rect x="514.50" y="178.97" width="2.58" height="2.62" fill="#ff8b00"/>
<rect x="516.63" y="178.97" width="2.58" height="2.62" fill="#ff8800"/>
<rect x="478.23" y="181.13" width="2.58" height="2.62" fill="#bd0000"/>
<rect x="480.37" y="181.13" width="2.58" height="2.62" fill="#fc1000"/>
<rect x="482.50" y="181.13" width="2.58" height="2.62" fill="#f90e00"/>
<rect x="484.63" y="181.13" width="2.58" height="2.62" fill="#fd1200"/>
<rect x="486.77" y="181.13" width="2.58" height="2.62" fill="#ea0200"/>
<rect x="488.90" y="181.13" width="2.58" height="2.62" fill="#f70c00"/>
<rect x="491.03" y="181.13" width="2.58" height="2.62" fill="#e50000"/>
<rect x="493.17" y="181.13" width="2.58" height="2.62" fill="#f20800"/>
<rect x="495.30" y="181.13" width="2.58" height="2.62" fill="#f20800"/>
<rect x="497.43" y="181.13" width="2.58" height="2.62" fill="#ff3800"/>
<rect x="499.57" y="181.13" width="2.58" height="2.62" fill="#ff3800"/>
<rect x="501.70" y="181.13" width="2.58" height="2.62" fill="#ff3800"/>
<rect x="503.83" y="181.13" width="2.58" height="2.62" fill="#ff3800"/>
<rect x="505.97" y="181.13" width="2.58" height="2.62" fill="#fb0f00"/>
<rect x="508.10" y="181.13" width="2.58" height="2.62" fill="#da0000"/>
<rect x="510.23" y="181.13" width="2.58" height="2.62" fill="#ea0200"/>
<rect x="512.37" y="181.13" width="2.58" height="2.62" fill="#ff8800"/>
<rect x="514.50" y="181.13" width="2.58" height="2.62" fill="#ff8000"/>
<rect x="516.63" y="181.13" width="2.58" height="2.62" fill="#ff7c00"/>
<rect x="480.37" y="183.30" width="2.58" height="2.62" fill="#d90000"/>
<rect x="482.50" y="183.30" width="2.58" height="2.62" fill="#ef0600"/>
<rect x="484.63" y="183.30" width="2.58" height="2.62" fill="#db0000"/>
<rect x="486.77" y="183.30" width="2.58" height="2.62" fill="#da0000"/>
<rect x="488.90" y="183.30" width="2.58" height="2.62" fill="#ed0400"/>
<rect x="491.03" y="183.30" width="2.58" height="2.62" fill="#ea0200"/>
<rect x="493.17" y="183.30" width="2.58" height="2.62" fill="#f30900"/>
<rect x="495.30" y="183.30" width="2.58" height="2.62" fill="#f30900"/>
<rect x="497.43" y="183.30" width="2.58" height="2.62" fill="#ff3800"/>
<rect x="499.57" y="183.30" width="2.58" height="2.62" fill="#ff3800"/>
<rect x="501.70" y="183.30" width="2.58" height="2.62" fill="#ff3800"/>
<rect x="503.83" y="183.30" width="2.58" height="2.62" fill="#ff3800"/>
<rect x="505.97" y="183.30" width="2.58" height="2.62" fill="#f30900"/>
<rect x="508.10" y="183.30" width="2.58" height="2.62" fill="#e60000"/>
<rect x="510.23" y="183.30" width="2.58" height="2.62" fill="#dc0000"/>
<rect x="512.37" y="183.30" width="2.58" height="2.62" fill="#cb0000"/>
<rect x="514.50" y="183.30" width="2.58" height="2.62" fill="#ff5500"/>
<rect x="480.37" y="185.47" width="2.58" height="2.62" fill="#e50000"/>
<rect x="482.50" y="185.47" width="2.58" height="2.62" fill="#f10700"/>
<rect x="484.63" y="185.47" width="2.58" height="2.62" fill="#f40a00"/>
<rect x="486.77" y="185.47" width="2.58" height="2.62" fill="#f20800"/>
<rect x="488.90" y="185.47" width="2.58" height="2.62" fill="#e00000"/>
<rect x="491.03" y="185.47" width="2.58" height="2.62" fill="#cf0000"/>
<rect x="493.17" y="185.47" width="2.58" height="2.62" fill="#f20800"/>
<rect x="495.30" y="185.47" width="2.58" height="2.62" fill="#f60b00"/>
<rect x="497.43" y="185.47" width="2.58" height="2.62" fill="#eb0200"/>
<rect x="499.57" y="185.47" width="2.58" height="2.62" fill="#fc1000"/>
<rect x="501.70" y="185.47" width="2.58" height="2.62" fill="#ef0600"/>
<rect x="503.83" y="185.47" width="2.58" height="2.62" fill="#fc1100"/>
<rect x="505.97" y="185.47" width="2.58" height="2.62" fill="#f00600"/>
<rect x="508.10" y="185.47" width="2.58" height="2.62" fill="#eb0300"/>
<rect x="510.23" y="185.47" width="2.58" height="2.62" fill="#e50000"/>
<rect x="512.37" y="185.47" width="2.58" height="2.62" fill="#e00000"/>
<rect x="514.50" y="185.47" width="2.58" height="2.62" fill="#ff6d00"/>
<rect x="480.37" y="187.63" width="2.58" height="2.62" fill="#e30000"/>
<rect x="482.50" y="187.63" width="2.58" height="2.62" fill="#de0000"/>
<rect x="484.63" y="187.63" width="2.58" height="2.62" fill="#f90e00"/>
<rect x="486.77" y="187.63" width="2.58" height="2.62" fill="#f30900"/>
<rect x="488.90" y="187.63" width="2.58" height="2.62" fill="#e80000"/>
<rect x="491.03" y="187.63" width="2.58" height="2.62" fill="#ea0200"/>
<rect x="493.17" y="187.63" width="2.58" height="2.62" fill="#e70000"/>
<rect x="495.30" y="187.63" width="2.58" height="2.62" fill="#ee0500"/>
<rect x="497.43" y="187.63" width="2.58" height="2.62" fill="#e80000"/>
<rect x="499.57" y="187.63" width="2.58" height="2.62" fill="#df0000"/>
<rect x="501.70" y="187.63" width="2.58" height="2.62" fill="#f50b00"/>
<rect x="503.83" y="187.63" width="2.58" height="2.62" fill="#e10000"/>
<rect x="505.97" y="187.63" width="2.58" height="2.62" fill="#f70c00"/>
<rect x="508.10" y="187.63" width="2.58" height="2.62" fill="#f20800"/>
<rect x="510.23" y="187.63" width="2.58" height="2.62" fill="#e00000"/>
<rect x="512.37" y="187.63" width="2.58" height="2.62" fill="#ff6000"/>
<rect x="514.50" y="187.63" width="2.58" height="2.62" fill="#ff6f00"/>
<rect x="482.50" y="189.80" width="2.58" height="2.62" fill="#df0000"/>
<rect x="484.63" y="189.80" width="2.58" height="2.62" fill="#f80d00"/>
<rect x="486.77" y="189.80" width="2.58" height="2.62" fill="#f20800"/>
<rect x="488.90" y="189.80" width="2.58" height="2.62" fill="#b90000"/>
<rect x="491.03" y="189.80" width="2.58" height="2.62" fill="#b90000"/>
<rect x="493.17" y="189.80" width="2.58" height="2.62" fill="#f50b00"/>
<rect x="495.30" y="189.80" width="2.58" height="2.62" fill="#e20000"/>
<rect x="497.43" y="189.80" width="2.58" height="2.62" fill="#b90000"/>
<rect x="499.57" y="189.80" width="2.58" height="2.62" fill="#b90000"/>
<rect x="501.70" y="189.80" width="2.58" height="2.62" fill="#b90000"/>
<rect x="503.83" y="189.80" width="2.58" height="2.62" fill="#fc1000"/>
<rect x="505.97" y="189.80" width="2.58" height="2.62" fill="#f90e00"/>
<rect x="508.10" y="189.80" width="2.58" height="2.62" fill="#fa0e00"/>
<rect x="510.23" y="189.80" width="2.58" height="2.62" fill="#fa0f00"/>
<rect x="512.37" y="189.80" width="2.58" height="2.62" fill="#ff1300"/>
<rect x="484.63" y="191.97" width="2.58" height="2.62" fill="#f40a00"/>
<rect x="486.77" y="191.97" width="2.58" height="2.62" fill="#ea0100"/>
<rect x="488.90" y="191.97" width="2.58" height="2.62" fill="#b90000"/>
<rect x="491.03" y="191.97" width="2.58" height="2.62" fill="#dd0000"/>
<rect x="493.17" y="191.97" width="2.58" height="2.62" fill="#b90000"/>
<rect x="495.30" y="191.97" width="2.58" height="2.62" fill="#b90000"/>
<rect x="497.43" y="191.97" width="2.58" height="2.62" fill="#ed0400"/>
<rect x="499.57" y="191.97" width="2.58" height="2.62" fill="#b90000"/>
<rect x="501.70" y="191.97" width="2.58" height="2.62" fill="#ff1500"/>
<rect x="503.83" y="191.97" width="2.58" height="2.62" fill="#b90000"/>
<rect x="505.97" y="191.97" width="2.58" height="2.62" fill="#b90000"/>
<rect x="508.10" y="191.97" width="2.58" height="2.62" fill="#ec0300"/>
<rect x="510.23" y="191.97" width="2.58" height="2.62" fill="#ff1d00"/>
<rect x="488.90" y="194.13" width="2.58" height="2.62" fill="#f60b00"/>
<rect x="491.03" y="194.13" width="2.58" height="2.62" fill="#f90e00"/>
<rect x="493.17" y="194.13" width="2.58" height="2.62" fill="#eb0200"/>
<rect x="495.30" y="194.13" width="2.58" height="2.62" fill="#eb0300"/>
<rect x="497.43" y="194.13" width="2.58" height="2.62" fill="#d90000"/>
<rect x="499.57" y="194.13" width="2.58" height="2.62" fill="#ef0600"/>
<rect x="501.70" y="194.13" width="2.58" height="2.62" fill="#dc0000"/>
<rect x="503.83" y="194.13" width="2.58" height="2.62" fill="#f80d00"/>
<rect x="505.97" y="194.13" width="2.58" height="2.62" fill="#ea0200"/>
<rect x="495.30" y="196.30" width="2.58" height="2.62" fill="#de0000"/>
<rect x="497.43" y="196.30" width="2.58" height="2.62" fill="#e90100"/>
<rect x="499.57" y="196.30" width="2.58" height="2.62" fill="#e50000"/>
<rect x="491.03" y="161.63" width="2.33" height="2.37" fill="#ff7a00"/>
<rect x="505.97" y="161.63" width="2.33" height="2.37" fill="#d00000"/>
<rect x="478.23" y="172.47" width="2.33" height="2.37" fill="#29ffcd"/>
<rect x="488.90" y="196.30" width="2.33" height="2.37" fill="#39ffbd"/>
<rect x="510.23" y="191.97" width="2.33" height="2.37" fill="#29ffcd"/>
<rect x="503.83" y="194.13" width="2.33" height="2.37" fill="#0019ff"/>
<rect x="493.17" y="198.47" width="2.33" height="2.37" fill="#f30900"/>
<rect x="516.63" y="187.63" width="2.33" height="2.37" fill="#004cff"/>
<rect x="514.50" y="174.63" width="2.33" height="2.37" fill="#ff6700"/>
<rect x="516.63" y="178.97" width="2.33" height="2.37" fill="#ffa000"/>
<rect x="429" y="204.65" width="44.7" height="44.75" fill="#0b0b8a"/>
<rect x="443.90" y="208.91" width="2.58" height="2.58" fill="#00a7ff"/>
<rect x="446.03" y="208.91" width="2.58" height="2.58" fill="#0086ff"/>
<rect x="448.16" y="208.91" width="2.58" height="2.58" fill="#0096ff"/>
<rect x="450.29" y="208.91" width="2.58" height="2.58" fill="#00c6ff"/>
<rect x="452.41" y="208.91" width="2.58" height="2.58" fill="#0085ff"/>
<rect x="454.54" y="208.91" width="2.58" height="2.58" fill="#002aff"/>
<rect x="456.67" y="208.91" width="2.58" height="2.58" fill="#0092ff"/>
<rect x="439.64" y="211.04" width="2.58" height="2.58" fill="#0094ff"/>
<rect x="441.77" y="211.04" width="2.58" height="2.58" fill="#00b1ff"/>
<rect x="443.90" y="211.04" width="2.58" height="2.58" fill="#008dff"/>
<rect x="446.03" y="211.04" width="2.58" height="2.58" fill="#0000f0"/>
<rect x="448.16" y="211.04" width="2.58" height="2.58" fill="#0000ff"/>
<rect x="450.29" y="211.04" width="2.58" height="2.58" fill="#0000e4"/>
<rect x="452.41" y="211.04" width="2.58" height="2.58" fill="#0000ff"/>
<rect x="454.54" y="211.04" width="2.58" height="2.58" fill="#002dff"/>
<rect x="456.67" y="211.04" width="2.58" height="2.58" fill="#0000f2"/>
<rect x="458.80" y="211.04" width="2.58" height="2.58" fill="#009aff"/>
<rect x="460.93" y="211.04" width="2.58" height="2.58" fill="#000eff"/>
<rect x="437.51" y="213.17" width="2.58" height="2.58" fill="#009cff"/>
<rect x="439.64" y="213.17" width="2.58" height="2.58" fill="#0093ff"/>
<rect x="441.77" y="213.17" width="2.58" height="2.58" fill="#0005ff"/>
<rect x="443.90" y="213.17" width="2.58" height="2.58" fill="#0006ff"/>
<rect x="446.03" y="213.17" width="2.58" height="2.58" fill="#0023ff"/>
<rect x="448.16" y="213.17" width="2.58" height="2.58" fill="#0000ff"/>
<rect x="450.29" y="213.17" width="2.58" height="2.58" fill="#001bff"/>
<rect x="452.41" y="213.17" width="2.58" height="2.58" fill="#0000ff"/>
<rect x="454.54" y="213.17" width="2.58" height="2.58" fill="#002aff"/>
<rect x="456.67" y="213.17" width="2.58" height="2.58" fill="#0007ff"/>
<rect x="458.80" y="213.17" width="2.58" height="2.58" fill="#001aff"/>
<rect x="460.93" y="213.17" width="2.58" height="2.58" fill="#0032ff"/>
<rect x="463.06" y="213.17" width="2.58" height="2.58" fill="#0088ff"/>
<rect x="465.19" y="213.17" width="2.58" height="2.58" fill="#00afff"/>
<rect x="435.39" y="215.30" width="2.58" height="2.58" fill="#0003ff"/>
<rect x="437.51" y="215.30" width="2.58" height="2.58" fill="#0015ff"/>
<rect x="439.64" y="215.30" width="2.58" height="2.58" fill="#0011ff"/>
<rect x="441.77" y="215.30" width="2.58" height="2.58" fill="#000cff"/>
<rect x="443.90" y="215.30" width="2.58" height="2.58" fill="#0013ff"/>
<rect x="446.03" y="215.30" width="2.58" height="2.58" fill="#0000ff"/>
<rect x="448.16" y="215.30" width="2.58" height="2.58" fill="#0019ff"/>
<rect x="450.29" y="215.30" width="2.58" height="2.58" fill="#0017ff"/>
<rect x="452.41" y="215.30" width="2.58" height="2.58" fill="#0015ff"/>
<rect x="454.54" y="215.30" width="2.58" height="2.58" fill="#0000f0"/>
<rect x="456.67" y="215.30" width="2.58" height="2.58" fill="#0024ff"/>
<rect x="458.80" y="215.30" width="2.58" height="2.58" fill="#0012ff"/>
<rect x="460.93" y="215.30" width="2.58" height="2.58" fill="#0035ff"/>
<rect x="463.06" y="215.30" width="2.58" height="2.58" fill="#0026ff"/>
<rect x="465.19" y="215.30" width="2.58" height="2.58" fill="#000cff"/>
<rect x="467.31" y="215.30" width="2.58" height="2.58" fill="#00a1ff"/>
<rect x="433.26" y="217.44" width="2.58" height="2.58" fill="#0090ff"/>
<rect x="435.39" y="217.44" width="2.58" height="2.58" fill="#008dff"/>
<rect x="437.51" y="217.44" width="2.58" height="2.58" fill="#00a8ff"/>
<rect x="439.64" y="217.44" width="2.58" height="2.58" fill="#0011ff"/>
<rect x="441.77" y="217.44" width="2.58" height="2.58" fill="#0000ff"/>
<rect x="443.90" y="217.44" width="2.58" height="2.58" fill="#00a8ff"/>
<rect x="446.03" y="217.44" width="2.58" height="2.58" fill="#0075ff"/>
<rect x="448.16" y="217.44" width="2.58" height="2.58" fill="#00a8ff"/>
<rect x="450.29" y="217.44" width="2.58" height="2.58" fill="#00a8ff"/>
<rect x="452.41" y="217.44" width="2.58" height="2.58" fill="#00a8ff"/>
<rect x="454.54" y="217.44" width="2.58" height="2.58" fill="#0000ff"/>
<rect x="456.67" y="217.44" width="2.58" height="2.58" fill="#00a8ff"/>
<rect x="458.80" y="217.44" width="2.58" height="2.58" fill="#0075ff"/>
<rect x="460.93" y="217.44" width="2.58" height="2.58" fill="#00a8ff"/>
<rect x="463.06" y="217.44" width="2.58" height="2.58" fill="#00a8ff"/>
<rect x="465.19" y="217.44" width="2.58" height="2.58" fill="#00a8ff"/>
<rect x="467.31" y="217.44" width="2.58" height="2.58" fill="#008dff"/>
<rect x="431.13" y="219.57" width="2.58" height="2.58" fill="#00a9ff"/>
<rect x="433.26" y="219.57" width="2.58" height="2.58" fill="#0016ff"/>
<rect x="435.39" y="219.57" width="2.58" height="2.58" fill="#0008ff"/>
<rect x="437.51" y="219.57" width="2.58" height="2.58" fill="#0024ff"/>
<rect x="439.64" y="219.57" width="2.58" height="2.58" fill="#0000ff"/>
<rect x="441.77" y="219.57" width="2.58" height="2.58" fill="#0000ff"/>
<rect x="443.90" y="219.57" width="2.58" height="2.58" fill="#0075ff"/>
<rect x="446.03" y="219.57" width="2.58" height="2.58" fill="#0075ff"/>
<rect x="448.16" y="219.57" width="2.58" height="2.58" fill="#0018ff"/>
<rect x="450.29" y="219.57" width="2.58" height="2.58" fill="#002fff"/>
<rect x="452.41" y="219.57" width="2.58" height="2.58" fill="#0018ff"/>
<rect x="454.54" y="219.57" width="2.58" height="2.58" fill="#0003ff"/>
<rect x="456.67" y="219.57" width="2.58" height="2.58" fill="#0000f6"/>
<rect x="458.80" y="219.57" width="2.58" height="2.58" fill="#0075ff"/>
<rect x="460.93" y="219.57" width="2.58" height="2.58" fill="#0017ff"/>
<rect x="463.06" y="219.57" width="2.58" height="2.58" fill="#0035ff"/>
<rect x="465.19" y="219.57" width="2.58" height="2.58" fill="#0016ff"/>
<rect x="467.31" y="219.57" width="2.58" height="2.58" fill="#0091ff"/>
<rect x="469.44" y="219.57" width="2.58" height="2.58" fill="#0085ff"/>
<rect x="431.13" y="221.70" width="2.58" height="2.58" fill="#0099ff"/>
<rect x="433.26" y="221.70" width="2.58" height="2.58" fill="#0081ff"/>
<rect x="435.39" y="221.70" width="2.58" height="2.58" fill="#0000ff"/>
<rect x="437.51" y="221.70" width="2.58" height="2.58" fill="#0007ff"/>
<rect x="439.64" y="221.70" width="2.58" height="2.58" fill="#001aff"/>
<rect x="441.77" y="221.70" width="2.58" height="2.58" fill="#001cff"/>
<rect x="443.90" y="221.70" width="2.58" height="2.58" fill="#0075ff"/>
<rect x="446.03" y="221.70" width="2.58" height="2.58" fill="#0075ff"/>
<rect x="448.16" y="221.70" width="2.58" height="2.58" fill="#0000ff"/>
<rect x="450.29" y="221.70" width="2.58" height="2.58" fill="#0003ff"/>
<rect x="452.41" y="221.70" width="2.58" height="2.58" fill="#002cff"/>
<rect x="454.54" y="221.70" width="2.58" height="2.58" fill="#0000fd"/>
<rect x="456.67" y="221.70" width="2.58" height="2.58" fill="#0000f6"/>
<rect x="458.80" y="221.70" width="2.58" height="2.58" fill="#0075ff"/>
<rect x="460.93" y="221.70" width="2.58" height="2.58" fill="#0015ff"/>
<rect x="463.06" y="221.70" width="2.58" height="2.58" fill="#0017ff"/>
<rect x="465.19" y="221.70" width="2.58" height="2.58" fill="#0004ff"/>
<rect x="467.31" y="221.70" width="2.58" height="2.58" fill="#0006ff"/>
<rect x="469.44" y="221.70" width="2.58" height="2.58" fill="#0076ff"/>
<rect x="431.13" y="223.83" width="2.58" height="2.58" fill="#00b8ff"/>
<rect x="433.26" y="223.83" width="2.58" height="2.58" fill="#0014ff"/>
<rect x="435.39" y="223.83" width="2.58" height="2.58" fill="#0044ff"/>
<rect x="437.51" y="223.83" width="2.58" height="2.58" fill="#0000ff"/>
<rect x="439.64" y="223.83" width="2.58" height="2.58" fill="#0000ff"/>
<rect x="441.77" y="223.83" width="2.58" height="2.58" fill="#0025ff"/>
<rect x="443.90" y="223.83" width="2.58" height="2.58" fill="#0021ff"/>
<rect x="446.03" y="223.83" width="2.58" height="2.58" fill="#0016ff"/>
<rect x="448.16" y="223.83" width="2.58" height="2.58" fill="#0009ff"/>
<rect x="450.29" y="223.83" width="2.58" height="2.58" fill="#0000ff"/>
<rect x="452.41" y="223.83" width="2.58" height="2.58" fill="#0003ff"/>
<rect x="454.54" y="223.83" width="2.58" height="2.58" fill="#001dff"/>
<rect x="456.67" y="223.83" width="2.58" height="2.58" fill="#000dff"/>
<rect x="458.80" y="223.83" width="2.58" height="2.58" fill="#0075ff"/>
<rect x="460.93" y="223.83" width="2.58" height="2.58" fill="#000aff"/>
<rect x="463.06" y="223.83" width="2.58" height="2.58" fill="#0037ff"/>
<rect x="465.19" y="223.83" width="2.58" height="2.58" fill="#0039ff"/>
<rect x="467.31" y="223.83" width="2.58" height="2.58" fill="#0019ff"/>
<rect x="469.44" y="223.83" width="2.58" height="2.58" fill="#0001ff"/>
<rect x="431.13" y="225.96" width="2.58" height="2.58" fill="#0000f1"/>
<rect x="433.26" y="225.96" width="2.58" height="2.58" fill="#000eff"/>
<rect x="435.39" y="225.96" width="2.58" height="2.58" fill="#001bff"/>
<rect x="437.51" y="225.96" width="2.58" height="2.58" fill="#001dff"/>
<rect x="439.64" y="225.96" width="2.58" height="2.58" fill="#0013ff"/>
<rect x="441.77" y="225.96" width="2.58" height="2.58" fill="#000dff"/>
<rect x="443.90" y="225.96" width="2.58" height="2.58" fill="#0075ff"/>
<rect x="446.03" y="225.96" width="2.58" height="2.58" fill="#0000ff"/>
<rect x="448.16" y="225.96" width="2.58" height="2.58" fill="#0033ff"/>
<rect x="450.29" y="225.96" width="2.58" height="2.58" fill="#0000ff"/>
<rect x="452.41" y="225.96" width="2.58" height="2.58" fill="#0013ff"/>
<rect x="454.54" y="225.96" width="2.58" height="2.58" fill="#001eff"/>
<rect x="456.67" y="225.96" width="2.58" height="2.58" fill="#0000ff"/>
<rect x="458.80" y="225.96" width="2.58" height="2.58" fill="#0075ff"/>
<rect x="460.93" y="225.96" width="2.58" height="2.58" fill="#0000ff"/>
<rect x="463.06" y="225.96" width="2.58" height="2.58" fill="#0000ff"/>
<rect x="465.19" y="225.96" width="2.58" height="2.58" fill="#0009ff"/>
<rect x="467.31" y="225.96" width="2.58" height="2.58" fill="#0020ff"/>
<rect x="469.44" y="225.96" width="2.58" height="2.58" fill="#0027ff"/>
<rect x="431.13" y="228.09" width="2.58" height="2.58" fill="#0079ff"/>
<rect x="433.26" y="228.09" width="2.58" height="2.58" fill="#0000fd"/>
<rect x="435.39" y="228.09" width="2.58" height="2.58" fill="#0002ff"/>
<rect x="437.51" y="228.09" width="2.58" height="2.58" fill="#002fff"/>
<rect x="439.64" y="228.09" width="2.58" height="2.58" fill="#0020ff"/>
<rect x="441.77" y="228.09" width="2.58" height="2.58" fill="#000fff"/>
<rect x="443.90" y="228.09" width="2.58" height="2.58" fill="#0075ff"/>
<rect x="446.03" y="228.09" width="2.58" height="2.58" fill="#0075ff"/>
<rect x="448.16" y="228.09" width="2.58" height="2.58" fill="#0019ff"/>
<rect x="450.29" y="228.09" width="2.58" height="2.58" fill="#0012ff"/>
<rect x="452.41" y="228.09" width="2.58" height="2.58" fill="#0009ff"/>
<rect x="454.54" y="228.09" width="2.58" height="2.58" fill="#0012ff"/>
<rect x="456.67" y="228.09" width="2.58" height="2.58" fill="#0016ff"/>
<rect x="458.80" y="228.09" width="2.58" height="2.58" fill="#0075ff"/>
<rect x="460.93" y="228.09" width="2.58" height="2.58" fill="#0009ff"/>
<rect x="463.06" y="228.09" width="2.58" height="2.58" fill="#0004ff"/>
<rect x="465.19" y="228.09" width="2.58" height="2.58" fill="#0013ff"/>
<rect x="467.31" y="228.09" width="2.58" height="2.58" fill="#0008ff"/>
<rect x="469.44" y="228.09" width="2.58" height="2.58" fill="#0087ff"/>
<rect x="431.13" y="230.22" width="2.58" height="2.58" fill="#0090ff"/>
<rect x="433.26" y="230.22" width="2.58" height="2.58" fill="#0014ff"/>
<rect x="435.39" y="230.22" width="2.58" height="2.58" fill="#0000ff"/>
<rect x="437.51" y="230.22" width="2.58" height="2.58" fill="#001aff"/>
<rect x="439.64" y="230.22" width="2.58" height="2.58" fill="#0016ff"/>
<rect x="441.77" y="230.22" width="2.58" height="2.58" fill="#001aff"/>
<rect x="443.90" y="230.22" width="2.58" height="2.58" fill="#0021ff"/>
<rect x="446.03" y="230.22" width="2.58" height="2.58" fill="#002dff"/>
<rect x="448.16" y="230.22" width="2.58" height="2.58" fill="#0000ff"/>
<rect x="450.29" y="230.22" width="2.58" height="2.58" fill="#001bff"/>
<rect x="452.41" y="230.22" width="2.58" height="2.58" fill="#0000ff"/>
<rect x="454.54" y="230.22" width="2.58" height="2.58" fill="#0000ff"/>
<rect x="456.67" y="230.22" width="2.58" height="2.58" fill="#0000ff"/>
<rect x="458.80" y="230.22" width="2.58" height="2.58" fill="#001dff"/>
<rect x="460.93" y="230.22" width="2.58" height="2.58" fill="#0000ff"/>
<rect x="463.06" y="230.22" width="2.58" height="2.58" fill="#0021ff"/>
<rect x="465.19" y="230.22" width="2.58" height="2.58" fill="#0008ff"/>
<rect x="467.31" y="230.22" width="2.58" height="2.58" fill="#0019ff"/>
<rect x="469.44" y="230.22" width="2.58" height="2.58" fill="#008eff"/>
<rect x="431.13" y="232.35" width="2.58" height="2.58" fill="#0000ff"/>
<rect x="433.26" y="232.35" width="2.58" height="2.58" fill="#0013ff"/>
<rect x="435.39" y="232.35" width="2.58" height="2.58" fill="#0000ff"/>
<rect x="437.51" y="232.35" width="2.58" height="2.58" fill="#0035ff"/>
<rect x="439.64" y="232.35" width="2.58" height="2.58" fill="#0016ff"/>
<rect x="441.77" y="232.35" width="2.58" height="2.58" fill="#0001ff"/>
<rect x="443.90" y="232.35" width="2.58" height="2.58" fill="#000cff"/>
<rect x="446.03" y="232.35" width="2.58" height="2.58" fill="#0016ff"/>
<rect x="448.16" y="232.35" width="2.58" height="2.58" fill="#002bff"/>
<rect x="450.29" y="232.35" width="2.58" height="2.58" fill="#0000ff"/>
<rect x="452.41" y="232.35" width="2.58" height="2.58" fill="#0000ff"/>
<rect x="454.54" y="232.35" width="2.58" height="2.58" fill="#0000ff"/>
<rect x="456.67" y="232.35" width="2.58" height="2.58" fill="#0003ff"/>
<rect x="458.80" y="232.35" width="2.58" height="2.58" fill="#0075ff"/>
<rect x="460.93" y="232.35" width="2.58" height="2.58" fill="#0020ff"/>
<rect x="463.06" y="232.35" width="2.58" height="2.58" fill="#0019ff"/>
<rect x="465.19" y="232.35" width="2.58" height="2.58" fill="#001aff"/>
<rect x="467.31" y="232.35" width="2.58" height="2.58" fill="#00adff"/>
<rect x="469.44" y="232.35" width="2.58" height="2.58" fill="#00b0ff"/>
<rect x="433.26" y="234.48" width="2.58" height="2.58" fill="#00a0ff"/>
<rect x="435.39" y="234.48" width="2.58" height="2.58" fill="#0000ff"/>
<rect x="437.51" y="234.48" width="2.58" height="2.58" fill="#0027ff"/>
<rect x="439.64" y="234.48" width="2.58" height="2.58" fill="#007fff"/>
<rect x="441.77" y="234.48" width="2.58" height="2.58" fill="#0013ff"/>
<rect x="443.90" y="234.48" width="2.58" height="2.58" fill="#0075ff"/>
<rect x="446.03" y="234.48" width="2.58" height="2.58" fill="#007fff"/>
<rect x="448.16" y="234.48" width="2.58" height="2.58" fill="#007fff"/>
<rect x="450.29" y="234.48" width="2.58" height="2.58" fill="#007fff"/>
<rect x="452.41" y="234.48" width="2.58" height="2.58" fill="#007fff"/>
<rect x="454.54" y="234.48" width="2.58" height="2.58" fill="#0014ff"/>
<rect x="456.67" y="234.48" width="2.58" height="2.58" fill="#007fff"/>
<rect x="458.80" y="234.48" width="2.58" height="2.58" fill="#007fff"/>
<rect x="460.93" y="234.48" width="2.58" height="2.58" fill="#007fff"/>
<rect x="463.06" y="234.48" width="2.58" height="2.58" fill="#007fff"/>
<rect x="465.19" y="234.48" width="2.58" height="2.58" fill="#001fff"/>
<rect x="467.31" y="234.48" width="2.58" height="2.58" fill="#008aff"/>
<rect x="433.26" y="236.61" width="2.58" height="2.58" fill="#007dff"/>
<rect x="435.39" y="236.61" width="2.58" height="2.58" fill="#0000ff"/>
<rect x="437.51" y="236.61" width="2.58" height="2.58" fill="#000bff"/>
<rect x="439.64" y="236.61" width="2.58" height="2.58" fill="#000eff"/>
<rect x="441.77" y="236.61" width="2.58" height="2.58" fill="#0006ff"/>
<rect x="443.90" y="236.61" width="2.58" height="2.58" fill="#0000ff"/>
<rect x="446.03" y="236.61" width="2.58" height="2.58" fill="#0000e1"/>
<rect x="448.16" y="236.61" width="2.58" height="2.58" fill="#0000ff"/>
<rect x="450.29" y="236.61" width="2.58" height="2.58" fill="#0015ff"/>
<rect x="452.41" y="236.61" width="2.58" height="2.58" fill="#0014ff"/>
<rect x="454.54" y="236.61" width="2.58" height="2.58" fill="#0004ff"/>
<rect x="456.67" y="236.61" width="2.58" height="2.58" fill="#0015ff"/>
<rect x="458.80" y="236.61" width="2.58" height="2.58" fill="#0028ff"/>
<rect x="460.93" y="236.61" width="2.58" height="2.58" fill="#000aff"/>
<rect x="463.06" y="236.61" width="2.58" height="2.58" fill="#000dff"/>
<rect x="465.19" y="236.61" width="2.58" height="2.58" fill="#0023ff"/>
<rect x="467.31" y="236.61" width="2.58" height="2.58" fill="#008fff"/>
<rect x="435.39" y="238.75" width="2.58" height="2.58" fill="#0000ff"/>
<rect x="437.51" y="238.75" width="2.58" height="2.58" fill="#008dff"/>
<rect x="439.64" y="238.75" width="2.58" height="2.58" fill="#001bff"/>
<rect x="441.77" y="238.75" width="2.58" height="2.58" fill="#0005ff"/>
<rect x="443.90" y="238.75" width="2.58" height="2.58" fill="#0000ff"/>
<rect x="446.03" y="238.75" width="2.58" height="2.58" fill="#0006ff"/>
<rect x="448.16" y="238.75" width="2.58" height="2.58" fill="#0000ff"/>
<rect x="450.29" y="238.75" width="2.58" height="2.58" fill="#001cff"/>
<rect x="452.41" y="238.75" width="2.58" height="2.58" fill="#0012ff"/>
<rect x="454.54" y="238.75" width="2.58" height="2.58" fill="#0007ff"/>
<rect x="456.67" y="238.75" width="2.58" height="2.58" fill="#0020ff"/>
<rect x="458.80" y="238.75" width="2.58" height="2.58" fill="#000eff"/>
<rect x="460.93" y="238.75" width="2.58" height="2.58" fill="#0000ff"/>
<rect x="463.06" y="238.75" width="2.58" height="2.58" fill="#009cff"/>
<rect x="465.19" y="238.75" width="2.58" height="2.58" fill="#008eff"/>
<rect x="437.51" y="240.88" width="2.58" height="2.58" fill="#008fff"/>
<rect x="439.64" y="240.88" width="2.58" height="2.58" fill="#0095ff"/>
<rect x="441.77" y="240.88" width="2.58" height="2.58" fill="#0082ff"/>
<rect x="443.90" y="240.88" width="2.58" height="2.58" fill="#0000e0"/>
<rect x="446.03" y="240.88" width="2.58" height="2.58" fill="#000fff"/>
<rect x="448.16" y="240.88" width="2.58" height="2.58" fill="#0000ff"/>
<rect x="450.29" y="240.88" width="2.58" height="2.58" fill="#0016ff"/>
<rect x="452.41" y="240.88" width="2.58" height="2.58" fill="#0018ff"/>
<rect x="454.54" y="240.88" width="2.58" height="2.58" fill="#0016ff"/>
<rect x="456.67" y="240.88" width="2.58" height="2.58" fill="#0021ff"/>
<rect x="458.80" y="240.88" width="2.58" height="2.58" fill="#007aff"/>
<rect x="460.93" y="240.88" width="2.58" height="2.58" fill="#0089ff"/>
<rect x="463.06" y="240.88" width="2.58" height="2.58" fill="#008dff"/>
<rect x="441.77" y="243.01" width="2.58" height="2.58" fill="#0088ff"/>
<rect x="443.90" y="243.01" width="2.58" height="2.58" fill="#0092ff"/>
<rect x="446.03" y="243.01" width="2.58" height="2.58" fill="#0094ff"/>
<rect x="448.16" y="243.01" width="2.58" height="2.58" fill="#93ff62"/>
<rect x="450.29" y="243.01" width="2.58" height="2.58" fill="#afff47"/>
<rect x="452.41" y="243.01" width="2.58" height="2.58" fill="#94ff61"/>
<rect x="454.54" y="243.01" width="2.58" height="2.58" fill="#0098ff"/>
<rect x="456.67" y="243.01" width="2.58" height="2.58" fill="#0000ff"/>
<rect x="458.80" y="243.01" width="2.58" height="2.58" fill="#99ff5d"/>
<rect x="439.64" y="243.01" width="2.33" height="2.33" fill="#d00000"/>
<rect x="437.51" y="240.88" width="2.33" height="2.33" fill="#cdff29"/>
<rect x="467.31" y="240.88" width="2.33" height="2.33" fill="#deff18"/>
<rect x="476.1" y="204.65" width="44.8" height="44.75" fill="#0b0b8a"/>
<rect x="491.03" y="211.04" width="2.58" height="2.58" fill="#005dff"/>
<rect x="493.17" y="211.04" width="2.58" height="2.58" fill="#0067ff"/>
<rect x="495.30" y="211.04" width="2.58" height="2.58" fill="#0067ff"/>
<rect x="497.43" y="211.04" width="2.58" height="2.58" fill="#006dff"/>
<rect x="499.57" y="211.04" width="2.58" height="2.58" fill="#0055ff"/>
<rect x="501.70" y="211.04" width="2.58" height="2.58" fill="#0075ff"/>
<rect x="503.83" y="211.04" width="2.58" height="2.58" fill="#006bff"/>
<rect x="486.77" y="213.17" width="2.58" height="2.58" fill="#00bcff"/>
<rect x="488.90" y="213.17" width="2.58" height="2.58" fill="#00bcff"/>
<rect x="491.03" y="213.17" width="2.58" height="2.58" fill="#00bcff"/>
<rect x="493.17" y="213.17" width="2.58" height="2.58" fill="#0090ff"/>
<rect x="495.30" y="213.17" width="2.58" height="2.58" fill="#00b2ff"/>
<rect x="497.43" y="213.17" width="2.58" height="2.58" fill="#00a7ff"/>
<rect x="499.57" y="213.17" width="2.58" height="2.58" fill="#008cff"/>
<rect x="501.70" y="213.17" width="2.58" height="2.58" fill="#00a0ff"/>
<rect x="503.83" y="213.17" width="2.58" height="2.58" fill="#0091ff"/>
<rect x="505.97" y="213.17" width="2.58" height="2.58" fill="#005dff"/>
<rect x="508.10" y="213.17" width="2.58" height="2.58" fill="#007aff"/>
<rect x="484.63" y="215.30" width="2.58" height="2.58" fill="#006cff"/>
<rect x="486.77" y="215.30" width="2.58" height="2.58" fill="#00bcff"/>
<rect x="488.90" y="215.30" width="2.58" height="2.58" fill="#0083ff"/>
<rect x="491.03" y="215.30" width="2.58" height="2.58" fill="#00bcff"/>
<rect x="493.17" y="215.30" width="2.58" height="2.58" fill="#008bff"/>
<rect x="495.30" y="215.30" width="2.58" height="2.58" fill="#0097ff"/>
<rect x="497.43" y="215.30" width="2.58" height="2.58" fill="#00b1ff"/>
<rect x="499.57" y="215.30" width="2.58" height="2.58" fill="#0092ff"/>
<rect x="501.70" y="215.30" width="2.58" height="2.58" fill="#0090ff"/>
<rect x="503.83" y="215.30" width="2.58" height="2.58" fill="#0096ff"/>
<rect x="505.97" y="215.30" width="2.58" height="2.58" fill="#009fff"/>
<rect x="508.10" y="215.30" width="2.58" height="2.58" fill="#0096ff"/>
<rect x="510.23" y="215.30" width="2.58" height="2.58" fill="#0089ff"/>
<rect x="482.50" y="217.44" width="2.58" height="2.58" fill="#005fff"/>
<rect x="484.63" y="217.44" width="2.58" height="2.58" fill="#0092ff"/>
<rect x="486.77" y="217.44" width="2.58" height="2.58" fill="#00bcff"/>
<rect x="488.90" y="217.44" width="2.58" height="2.58" fill="#00bcff"/>
<rect x="491.03" y="217.44" width="2.58" height="2.58" fill="#00bcff"/>
<rect x="493.17" y="217.44" width="2.58" height="2.58" fill="#0090ff"/>
<rect x="495.30" y="217.44" width="2.58" height="2.58" fill="#0093ff"/>
<rect x="497.43" y="217.44" width="2.58" height="2.58" fill="#008dff"/>
<rect x="499.57" y="217.44" width="2.58" height="2.58" fill="#0096ff"/>
<rect x="501.70" y="217.44" width="2.58" height="2.58" fill="#0082ff"/>
<rect x="503.83" y="217.44" width="2.58" height="2.58" fill="#00bdff"/>
<rect x="505.97" y="217.44" width="2.58" height="2.58" fill="#00a3ff"/>
<rect x="508.10" y="217.44" width="2.58" height="2.58" fill="#00b7ff"/>
<rect x="510.23" y="217.44" width="2.58" height="2.58" fill="#00b4ff"/>
<rect x="512.37" y="217.44" width="2.58" height="2.58" fill="#008eff"/>
<rect x="480.37" y="219.57" width="2.58" height="2.58" fill="#0064ff"/>
<rect x="482.50" y="219.57" width="2.58" height="2.58" fill="#00a0ff"/>
<rect x="484.63" y="219.57" width="2.58" height="2.58" fill="#00bcff"/>
<rect x="486.77" y="219.57" width="2.58" height="2.58" fill="#00bcff"/>
<rect x="488.90" y="219.57" width="2.58" height="2.58" fill="#009fff"/>
<rect x="491.03" y="219.57" width="2.58" height="2.58" fill="#00bcff"/>
<rect x="493.17" y="219.57" width="2.58" height="2.58" fill="#009eff"/>
<rect x="495.30" y="219.57" width="2.58" height="2.58" fill="#00a8ff"/>
<rect x="497.43" y="219.57" width="2.58" height="2.58" fill="#0096ff"/>
<rect x="499.57" y="219.57" width="2.58" height="2.58" fill="#0099ff"/>
<rect x="501.70" y="219.57" width="2.58" height="2.58" fill="#0094ff"/>
<rect x="503.83" y="219.57" width="2.58" height="2.58" fill="#008aff"/>
<rect x="505.97" y="219.57" width="2.58" height="2.58" fill="#00bbff"/>
<rect x="508.10" y="219.57" width="2.58" height="2.58" fill="#00abff"/>
<rect x="510.23" y="219.57" width="2.58" height="2.58" fill="#00aeff"/>
<rect x="512.37" y="219.57" width="2.58" height="2.58" fill="#00a6ff"/>
<rect x="514.50" y="219.57" width="2.58" height="2.58" fill="#006aff"/>
<rect x="480.37" y="221.70" width="2.58" height="2.58" fill="#008cff"/>
<rect x="482.50" y="221.70" width="2.58" height="2.58" fill="#0078ff"/>
<rect x="484.63" y="221.70" width="2.58" height="2.58" fill="#0099ff"/>
<rect x="486.77" y="221.70" width="2.58" height="2.58" fill="#0092ff"/>
<rect x="488.90" y="221.70" width="2.58" height="2.58" fill="#00bcff"/>
<rect x="491.03" y="221.70" width="2.58" height="2.58" fill="#0084ff"/>
<rect x="493.17" y="221.70" width="2.58" height="2.58" fill="#00b3ff"/>
<rect x="495.30" y="221.70" width="2.58" height="2.58" fill="#009cff"/>
<rect x="497.43" y="221.70" width="2.58" height="2.58" fill="#009eff"/>
<rect x="499.57" y="221.70" width="2.58" height="2.58" fill="#00a5ff"/>
<rect x="501.70" y="221.70" width="2.58" height="2.58" fill="#00b0ff"/>
<rect x="503.83" y="221.70" width="2.58" height="2.58" fill="#009cff"/>
<rect x="505.97" y="221.70" width="2.58" height="2.58" fill="#00acff"/>
<rect x="508.10" y="221.70" width="2.58" height="2.58" fill="#00c5ff"/>
<rect x="510.23" y="221.70" width="2.58" height="2.58" fill="#00b2ff"/>
<rect x="512.37" y="221.70" width="2.58" height="2.58" fill="#0098ff"/>
<rect x="514.50" y="221.70" width="2.58" height="2.58" fill="#0070ff"/>
<rect x="478.23" y="223.83" width="2.58" height="2.58" fill="#0072ff"/>
<rect x="480.37" y="223.83" width="2.58" height="2.58" fill="#0099ff"/>
<rect x="482.50" y="223.83" width="2.58" height="2.58" fill="#0097ff"/>
<rect x="484.63" y="223.83" width="2.58" height="2.58" fill="#009aff"/>
<rect x="486.77" y="223.83" width="2.58" height="2.58" fill="#0099ff"/>
<rect x="488.90" y="223.83" width="2.58" height="2.58" fill="#009bff"/>
<rect x="491.03" y="223.83" width="2.58" height="2.58" fill="#008bff"/>
<rect x="493.17" y="223.83" width="2.58" height="2.58" fill="#008eff"/>
<rect x="495.30" y="223.83" width="2.58" height="2.58" fill="#00a3ff"/>
<rect x="497.43" y="223.83" width="2.58" height="2.58" fill="#009bff"/>
<rect x="499.57" y="223.83" width="2.58" height="2.58" fill="#0089ff"/>
<rect x="501.70" y="223.83" width="2.58" height="2.58" fill="#0091ff"/>
<rect x="503.83" y="223.83" width="2.58" height="2.58" fill="#0072ff"/>
<rect x="505.97" y="223.83" width="2.58" height="2.58" fill="#00aaff"/>
<rect x="508.10" y="223.83" width="2.58" height="2.58" fill="#0094ff"/>
<rect x="510.23" y="223.83" width="2.58" height="2.58" fill="#0096ff"/>
<rect x="512.37" y="223.83" width="2.58" height="2.58" fill="#0094ff"/>
<rect x="514.50" y="223.83" width="2.58" height="2.58" fill="#009fff"/>
<rect x="516.63" y="223.83" width="2.58" height="2.58" fill="#006cff"/>
<rect x="478.23" y="225.96" width="2.58" height="2.58" fill="#0065ff"/>
<rect x="480.37" y="225.96" width="2.58" height="2.58" fill="#00a2ff"/>
<rect x="482.50" y="225.96" width="2.58" height="2.58" fill="#007cff"/>
<rect x="484.63" y="225.96" width="2.58" height="2.58" fill="#008cff"/>
<rect x="486.77" y="225.96" width="2.58" height="2.58" fill="#0097ff"/>
<rect x="488.90" y="225.96" width="2.58" height="2.58" fill="#0092ff"/>
<rect x="491.03" y="225.96" width="2.58" height="2.58" fill="#009eff"/>
<rect x="493.17" y="225.96" width="2.58" height="2.58" fill="#0093ff"/>
<rect x="495.30" y="225.96" width="2.58" height="2.58" fill="#00a2ff"/>
<rect x="497.43" y="225.96" width="2.58" height="2.58" fill="#00a6ff"/>
<rect x="499.57" y="225.96" width="2.58" height="2.58" fill="#009bff"/>
<rect x="501.70" y="225.96" width="2.58" height="2.58" fill="#00b7ff"/>
<rect x="503.83" y="225.96" width="2.58" height="2.58" fill="#00a0ff"/>
<rect x="505.97" y="225.96" width="2.58" height="2.58" fill="#0074ff"/>
<rect x="508.10" y="225.96" width="2.58" height="2.58" fill="#0089ff"/>
<rect x="510.23" y="225.96" width="2.58" height="2.58" fill="#0080ff"/>
<rect x="512.37" y="225.96" width="2.58" height="2.58" fill="#00a8ff"/>
<rect x="514.50" y="225.96" width="2.58" height="2.58" fill="#008fff"/>
<rect x="516.63" y="225.96" width="2.58" height="2.58" fill="#005aff"/>
<rect x="478.23" y="228.09" width="2.58" height="2.58" fill="#0062ff"/>
<rect x="480.37" y="228.09" width="2.58" height="2.58" fill="#0081ff"/>
<rect x="482.50" y="228.09" width="2.58" height="2.58" fill="#009aff"/>
<rect x="484.63" y="228.09" width="2.58" height="2.58" fill="#0098ff"/>
<rect x="486.77" y="228.09" width="2.58" height="2.58" fill="#00a5ff"/>
<rect x="488.90" y="228.09" width="2.58" height="2.58" fill="#007fff"/>
<rect x="491.03" y="228.09" width="2.58" height="2.58" fill="#00a3ff"/>
<rect x="493.17" y="228.09" width="2.58" height="2.58" fill="#0091ff"/>
<rect x="495.30" y="228.09" width="2.58" height="2.58" fill="#0092ff"/>
<rect x="497.43" y="228.09" width="2.58" height="2.58" fill="#0087ff"/>
<rect x="499.57" y="228.09" width="2.58" height="2.58" fill="#0095ff"/>
<rect x="501.70" y="228.09" width="2.58" height="2.58" fill="#008fff"/>
<rect x="503.83" y="228.09" width="2.58" height="2.58" fill="#0094ff"/>
<rect x="505.97" y="228.09" width="2.58" height="2.58" fill="#0099ff"/>
<rect x="508.10" y="228.09" width="2.58" height="2.58" fill="#0093ff"/>
<rect x="510.23" y="228.09" width="2.58" height="2.58" fill="#008dff"/>
<rect x="512.37" y="228.09" width="2.58" height="2.58" fill="#00b4ff"/>
<rect x="514.50" y="228.09" width="2.58" height="2.58" fill="#008aff"/>
<rect x="516.63" y="228.09" width="2.58" height="2.58" fill="#007fff"/>
<rect x="478.23" y="230.22" width="2.58" height="2.58" fill="#0072ff"/>
<rect x="480.37" y="230.22" width="2.58" height="2.58" fill="#00afff"/>
<rect x="482.50" y="230.22" width="2.58" height="2.58" fill="#009cff"/>
<rect x="484.63" y="230.22" width="2.58" height="2.58" fill="#00b5ff"/>
<rect x="486.77" y="230.22" width="2.58" height="2.58" fill="#009dff"/>
<rect x="488.90" y="230.22" width="2.58" height="2.58" fill="#00a0ff"/>
<rect x="491.03" y="230.22" width="2.58" height="2.58" fill="#00acff"/>
<rect x="493.17" y="230.22" width="2.58" height="2.58" fill="#0096ff"/>
<rect x="495.30" y="230.22" width="2.58" height="2.58" fill="#009bff"/>
<rect x="497.43" y="230.22" width="2.58" height="2.58" fill="#00a6ff"/>
<rect x="499.57" y="230.22" width="2.58" height="2.58" fill="#00b3ff"/>
<rect x="501.70" y="230.22" width="2.58" height="2.58" fill="#0093ff"/>
<rect x="503.83" y="230.22" width="2.58" height="2.58" fill="#009fff"/>
<rect x="505.97" y="230.22" width="2.58" height="2.58" fill="#00a6ff"/>
<rect x="508.10" y="230.22" width="2.58" height="2.58" fill="#0091ff"/>
<rect x="510.23" y="230.22" width="2.58" height="2.58" fill="#00aaff"/>
<rect x="512.37" y="230.22" width="2.58" height="2.58" fill="#0090ff"/>
<rect x="514.50" y="230.22" width="2.58" height="2.58" fill="#00abff"/>
<rect x="516.63" y="230.22" width="2.58" height="2.58" fill="#0057ff"/>
<rect x="480.37" y="232.35" width="2.58" height="2.58" fill="#0081ff"/>
<rect x="482.50" y="232.35" width="2.58" height="2.58" fill="#00b5ff"/>
<rect x="484.63" y="232.35" width="2.58" height="2.58" fill="#00acff"/>
<rect x="486.77" y="232.35" width="2.58" height="2.58" fill="#0082ff"/>
<rect x="488.90" y="232.35" width="2.58" height="2.58" fill="#007aff"/>
<rect x="491.03" y="232.35" width="2.58" height="2.58" fill="#008dff"/>
<rect x="493.17" y="232.35" width="2.58" height="2.58" fill="#00a0ff"/>
<rect x="495.30" y="232.35" width="2.58" height="2.58" fill="#00b4ff"/>
<rect x="497.43" y="232.35" width="2.58" height="2.58" fill="#0093ff"/>
<rect x="499.57" y="232.35" width="2.58" height="2.58" fill="#00b4ff"/>
<rect x="501.70" y="232.35" width="2.58" height="2.58" fill="#009cff"/>
<rect x="503.83" y="232.35" width="2.58" height="2.58" fill="#008dff"/>
<rect x="505.97" y="232.35" width="2.58" height="2.58" fill="#008fff"/>
<rect x="508.10" y="232.35" width="2.58" height="2.58" fill="#008dff"/>
<rect x="510.23" y="232.35" width="2.58" height="2.58" fill="#009eff"/>
<rect x="512.37" y="232.35" width="2.58" height="2.58" fill="#0092ff"/>
<rect x="514.50" y="232.35" width="2.58" height="2.58" fill="#0042ff"/>
<rect x="480.37" y="234.48" width="2.58" height="2.58" fill="#0072ff"/>
<rect x="482.50" y="234.48" width="2.58" height="2.58" fill="#00a2ff"/>
<rect x="484.63" y="234.48" width="2.58" height="2.58" fill="#009dff"/>
<rect x="486.77" y="234.48" width="2.58" height="2.58" fill="#0095ff"/>
<rect x="488.90" y="234.48" width="2.58" height="2.58" fill="#00a4ff"/>
<rect x="491.03" y="234.48" width="2.58" height="2.58" fill="#0093ff"/>
<rect x="493.17" y="234.48" width="2.58" height="2.58" fill="#009bff"/>
<rect x="495.30" y="234.48" width="2.58" height="2.58" fill="#00b0ff"/>
<rect x="497.43" y="234.48" width="2.58" height="2.58" fill="#0082ff"/>
<rect x="499.57" y="234.48" width="2.58" height="2.58" fill="#009dff"/>
<rect x="501.70" y="234.48" width="2.58" height="2.58" fill="#0094ff"/>
<rect x="503.83" y="234.48" width="2.58" height="2.58" fill="#0081ff"/>
<rect x="505.97" y="234.48" width="2.58" height="2.58" fill="#009bff"/>
<rect x="508.10" y="234.48" width="2.58" height="2.58" fill="#008aff"/>
<rect x="510.23" y="234.48" width="2.58" height="2.58" fill="#0092ff"/>
<rect x="512.37" y="234.48" width="2.58" height="2.58" fill="#006eff"/>
<rect x="514.50" y="234.48" width="2.58" height="2.58" fill="#006aff"/>
<rect x="482.50" y="236.61" width="2.58" height="2.58" fill="#006bff"/>
<rect x="484.63" y="236.61" width="2.58" height="2.58" fill="#00a0ff"/>
<rect x="486.77" y="236.61" width="2.58" height="2.58" fill="#008dff"/>
<rect x="488.90" y="236.61" width="2.58" height="2.58" fill="#008aff"/>
<rect x="491.03" y="236.61" width="2.58" height="2.58" fill="#008aff"/>
<rect x="493.17" y="236.61" width="2.58" height="2.58" fill="#009aff"/>
<rect x="495.30" y="236.61" width="2.58" height="2.58" fill="#00b2ff"/>
<rect x="497.43" y="236.61" width="2.58" height="2.58" fill="#0088ff"/>
<rect x="499.57" y="236.61" width="2.58" height="2.58" fill="#009cff"/>
<rect x="501.70" y="236.61" width="2.58" height="2.58" fill="#0089ff"/>
<rect x="503.83" y="236.61" width="2.58" height="2.58" fill="#008aff"/>
<rect x="505.97" y="236.61" width="2.58" height="2.58" fill="#0099ff"/>
<rect x="508.10" y="236.61" width="2.58" height="2.58" fill="#0092ff"/>
<rect x="510.23" y="236.61" width="2.58" height="2.58" fill="#0080ff"/>
<rect x="512.37" y="236.61" width="2.58" height="2.58" fill="#0066ff"/>
<rect x="484.63" y="238.75" width="2.58" height="2.58" fill="#005fff"/>
<rect x="486.77" y="238.75" width="2.58" height="2.58" fill="#009eff"/>
<rect x="488.90" y="238.75" width="2.58" height="2.58" fill="#0094ff"/>
<rect x="491.03" y="238.75" width="2.58" height="2.58" fill="#009eff"/>
<rect x="493.17" y="238.75" width="2.58" height="2.58" fill="#00aaff"/>
<rect x="495.30" y="238.75" width="2.58" height="2.58" fill="#0098ff"/>
<rect x="497.43" y="238.75" width="2.58" height="2.58" fill="#00acff"/>
<rect x="499.57" y="238.75" width="2.58" height="2.58" fill="#0099ff"/>
<rect x="501.70" y="238.75" width="2.58" height="2.58" fill="#0071ff"/>
<rect x="503.83" y="238.75" width="2.58" height="2.58" fill="#008fff"/>
<rect x="505.97" y="238.75" width="2.58" height="2.58" fill="#0089ff"/>
<rect x="508.10" y="238.75" width="2.58" height="2.58" fill="#007bff"/>
<rect x="510.23" y="238.75" width="2.58" height="2.58" fill="#0056ff"/>
<rect x="486.77" y="240.88" width="2.58" height="2.58" fill="#005dff"/>
<rect x="488.90" y="240.88" width="2.58" height="2.58" fill="#0051ff"/>
<rect x="491.03" y="240.88" width="2.58" height="2.58" fill="#00a8ff"/>
<rect x="493.17" y="240.88" width="2.58" height="2.58" fill="#00a3ff"/>
<rect x="495.30" y="240.88" width="2.58" height="2.58" fill="#00aaff"/>
<rect x="497.43" y="240.88" width="2.58" height="2.58" fill="#008bff"/>
<rect x="499.57" y="240.88" width="2.58" height="2.58" fill="#0092ff"/>
<rect x="501.70" y="240.88" width="2.58" height="2.58" fill="#0060ff"/>
<rect x="503.83" y="240.88" width="2.58" height="2.58" fill="#0071ff"/>
<rect x="505.97" y="240.88" width="2.58" height="2.58" fill="#004aff"/>
<rect x="508.10" y="240.88" width="2.58" height="2.58" fill="#0053ff"/>
<rect x="491.03" y="243.01" width="2.58" height="2.58" fill="#005bff"/>
<rect x="493.17" y="243.01" width="2.58" height="2.58" fill="#006eff"/>
<rect x="495.30" y="243.01" width="2.58" height="2.58" fill="#004dff"/>
<rect x="497.43" y="243.01" width="2.58" height="2.58" fill="#005fff"/>
<rect x="499.57" y="243.01" width="2.58" height="2.58" fill="#0050ff"/>
<rect x="501.70" y="243.01" width="2.58" height="2.58" fill="#0065ff"/>
<rect x="503.83" y="243.01" width="2.58" height="2.58" fill="#0041ff"/>
<rect x="491.03" y="208.91" width="2.33" height="2.33" fill="#08efee"/>
<rect x="491.03" y="206.78" width="2.33" height="2.33" fill="#00d1ff"/>
<rect x="478.23" y="219.57" width="2.33" height="2.33" fill="#00d1ff"/>
<rect x="505.97" y="208.91" width="2.33" height="2.33" fill="#004cff"/>
<defs><linearGradient id="g1" x1="0" y1="0" x2="0" y2="1"><stop offset="0.000" stop-color="#7f0000"/><stop offset="0.050" stop-color="#b90000"/><stop offset="0.100" stop-color="#f30900"/><stop offset="0.150" stop-color="#ff3800"/><stop offset="0.200" stop-color="#ff6700"/><stop offset="0.250" stop-color="#ff9700"/><stop offset="0.300" stop-color="#ffc600"/><stop offset="0.350" stop-color="#f6f500"/><stop offset="0.400" stop-color="#cdff29"/><stop offset="0.450" stop-color="#a4ff52"/><stop offset="0.500" stop-color="#7bff7b"/><stop offset="0.550" stop-color="#52ffa4"/><stop offset="0.600" stop-color="#29ffcd"/><stop offset="0.650" stop-color="#00e5f6"/><stop offset="0.700" stop-color="#00b2ff"/><stop offset="0.750" stop-color="#007fff"/><stop offset="0.800" stop-color="#004cff"/><stop offset="0.850" stop-color="#0019ff"/><stop offset="0.900" stop-color="#0000f3"/><stop offset="0.950" stop-color="#0000b9"/><stop offset="1.000" stop-color="#00007f"/></linearGradient></defs>
<rect x="522.4" y="157.7" width="3.6" height="44.7" fill="url(#g1)"/>
<defs><linearGradient id="g2" x1="0" y1="0" x2="0" y2="1"><stop offset="0.000" stop-color="#7f0000"/><stop offset="0.050" stop-color="#b90000"/><stop offset="0.100" stop-color="#f30900"/><stop offset="0.150" stop-color="#ff3800"/><stop offset="0.200" stop-color="#ff6700"/><stop offset="0.250" stop-color="#ff9700"/><stop offset="0.300" stop-color="#ffc600"/><stop offset="0.350" stop-color="#f6f500"/><stop offset="0.400" stop-color="#cdff29"/><stop offset="0.450" stop-color="#a4ff52"/><stop offset="0.500" stop-color="#7bff7b"/><stop offset="0.550" stop-color="#52ffa4"/><stop offset="0.600" stop-color="#29ffcd"/><stop offset="0.650" stop-color="#00e5f6"/><stop offset="0.700" stop-color="#00b2ff"/><stop offset="0.750" stop-color="#007fff"/><stop offset="0.800" stop-color="#004cff"/><stop offset="0.850" stop-color="#0019ff"/><stop offset="0.900" stop-color="#0000f3"/><stop offset="0.950" stop-color="#0000b9"/><stop offset="1.000" stop-color="#00007f"/></linearGradient></defs>
<rect x="522.4" y="206.0" width="3.6" height="42.7" fill="url(#g2)"/>
<text x="528.10" y="160.70" font-size="6.3" text-anchor="start" fill="#2a2a2a" font-family="Liberation Serif, serif" style="stroke-width:0.12px">4 (%)</text>
<text x="528.10" y="181.20" font-size="6.3" text-anchor="start" fill="#2a2a2a" font-family="Liberation Serif, serif" style="stroke-width:0.12px">2</text>
<text x="528.10" y="202.30" font-size="6.3" text-anchor="start" fill="#2a2a2a" font-family="Liberation Serif, serif" style="stroke-width:0.12px">0</text>
<text x="528.10" y="209.40" font-size="6.3" text-anchor="start" fill="#2a2a2a" font-family="Liberation Serif, serif" style="stroke-width:0.12px">6 (%)</text>
<text x="528.10" y="229.30" font-size="6.3" text-anchor="start" fill="#2a2a2a" font-family="Liberation Serif, serif" style="stroke-width:0.12px">3</text>
<text x="528.10" y="250.20" font-size="6.3" text-anchor="start" fill="#2a2a2a" font-family="Liberation Serif, serif" style="stroke-width:0.12px">0</text>
<text x="451.50" y="155.10" font-size="8.3" font-weight="bold" text-anchor="middle" fill="#1a1a1a">30%</text>
<text x="498.10" y="155.10" font-size="8.3" font-weight="bold" text-anchor="middle" fill="#1a1a1a">70%</text>
<text transform="translate(424.60,179.10) rotate(-90)" font-size="7.0" font-weight="bold" text-anchor="middle" fill="#1a1a1a">2.4 ppm</text>
<text transform="translate(424.60,227.30) rotate(-90)" font-size="7.0" font-weight="bold" text-anchor="middle" fill="#1a1a1a">–3.5 ppm</text>
<text x="406.80" y="151.30" font-size="11.9" font-weight="bold" text-anchor="start" fill="#1a1a1a">(G)</text>
</svg></body></html>
